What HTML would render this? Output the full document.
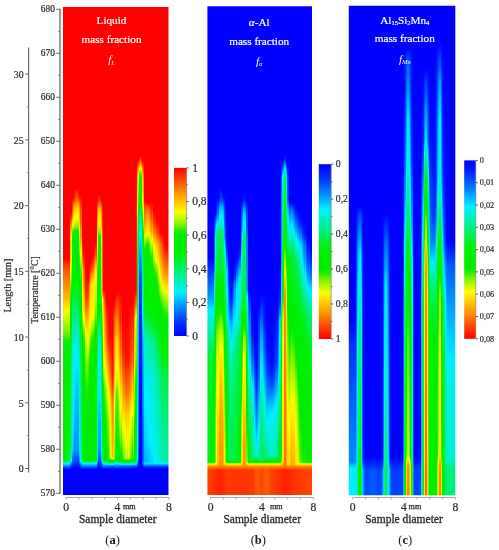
<!DOCTYPE html>
<html lang="en"><head><meta charset="utf-8"><title>Mass fraction maps</title>
<style>html,body{margin:0;padding:0;background:#fff}svg{display:block}text{font-family:"Liberation Serif",serif}</style></head>
<body>
<svg width="499" height="550" viewBox="0 0 499 550">
<defs>
<filter id="cm" filterUnits="userSpaceOnUse" x="0" y="0" width="499" height="550" color-interpolation-filters="sRGB"><feGaussianBlur stdDeviation="0.45"/><feComponentTransfer><feFuncR type="table" tableValues="0 0 0 0 0 0 0 0 0 0 0 0 0 0 0 0 0 0 0 0 0 0 0 0 0 0 0 0 0 0 0 0 0 0 0 0 0 0 0 0 0 0 0 0 0 0 0 0 0 0 0 0 0 0 0 0 0 0 0 0 0 0 0 0 0 0 0 0 0 0 0 0 0 0 0 0 0 .033 .074 .115 .156 .249 .341 .417 .473 .528 .584 .639 .695 .75 .803 .856 .909 .962 .987 .997 1 1 1 1 1 1 1 1 1 1 1 1 1 1 1 1 1 1 1 1 1 1 1 1 1 1 1 1 1 1 1 1"/><feFuncG type="table" tableValues="0 .019 .037 .056 .074 .093 .111 .134 .158 .183 .208 .233 .257 .284 .315 .346 .376 .407 .438 .469 .5 .531 .562 .593 .623 .654 .688 .724 .76 .796 .832 .868 .904 .94 .941 .941 .941 .941 .941 .941 .941 .941 .941 .941 .941 .941 .941 .941 .941 .941 .941 .941 .941 .941 .941 .941 .941 .941 .941 .941 .941 .941 .941 .941 .941 .939 .938 .937 .936 .934 .933 .932 .931 .929 .928 .927 .926 .927 .929 .931 .933 .936 .939 .944 .95 .956 .962 .969 .975 .981 .985 .99 .994 .998 .98 .949 .92 .893 .865 .837 .809 .781 .754 .726 .698 .67 .642 .615 .587 .556 .525 .494 .463 .432 .401 .371 .34 .309 .278 .247 .216 .185 .154 .124 .093 .062 .031 0"/><feFuncB type="table" tableValues="1 1 1 1 1 1 1 1 1 1 1 1 1 1 1 1 1 1 1 1 1 1 1 1 1 1 1 1 1 1 1 1 1 1 .966 .931 .896 .862 .827 .796 .765 .734 .703 .672 .641 .607 .57 .533 .496 .459 .422 .385 .348 .311 .274 .237 .199 .162 .136 .111 .086 .062 .037 .012 0 0 0 0 0 0 0 0 0 0 0 0 0 0 0 0 0 0 0 0 0 0 0 0 0 0 0 0 0 0 0 0 0 0 0 0 0 0 0 0 0 0 0 0 0 0 0 0 0 0 0 0 0 0 0 0 0 0 0 0 0 0 0 0"/><feFuncA type="discrete" tableValues="1 1"/></feComponentTransfer></filter>
<filter id="soft" filterUnits="userSpaceOnUse" x="0" y="0" width="499" height="550" color-interpolation-filters="sRGB"><feGaussianBlur stdDeviation="0.45"/></filter>
<linearGradient id="a0" gradientUnits="userSpaceOnUse" x1="0" y1="2.9" x2="0" y2="499"><stop offset="0" stop-color="#ffffff"/><stop offset=".514" stop-color="#ffffff"/><stop offset=".532" stop-color="#ededed"/><stop offset=".569" stop-color="#dbdbdb"/><stop offset=".599" stop-color="#cccccc"/><stop offset=".615" stop-color="#bfbfbf"/><stop offset=".643" stop-color="#b2b2b2"/><stop offset=".669" stop-color="#a6a6a6"/><stop offset=".69" stop-color="#999999"/><stop offset=".72" stop-color="#8f8f8f"/><stop offset=".922" stop-color="#8c8c8c"/><stop offset=".927" stop-color="#4c4c4c"/><stop offset=".933" stop-color="#2e2e2e"/><stop offset=".941" stop-color="#000000"/><stop offset="1" stop-color="#000000"/></linearGradient><linearGradient id="a1" gradientUnits="userSpaceOnUse" x1="0" y1="2.9" x2="0" y2="499"><stop offset="0" stop-color="#ffffff"/><stop offset=".514" stop-color="#ffffff"/><stop offset=".532" stop-color="#ededed"/><stop offset=".569" stop-color="#dbdbdb"/><stop offset=".599" stop-color="#cccccc"/><stop offset=".615" stop-color="#bfbfbf"/><stop offset=".643" stop-color="#b2b2b2"/><stop offset=".669" stop-color="#a6a6a6"/><stop offset=".69" stop-color="#999999"/><stop offset=".72" stop-color="#8a8a8a"/><stop offset=".8" stop-color="#808080"/><stop offset=".881" stop-color="#787878"/><stop offset=".922" stop-color="#707070"/><stop offset=".927" stop-color="#4c4c4c"/><stop offset=".933" stop-color="#2e2e2e"/><stop offset=".941" stop-color="#000000"/><stop offset="1" stop-color="#000000"/></linearGradient><linearGradient id="a2" gradientUnits="userSpaceOnUse" x1="0" y1="2.9" x2="0" y2="499"><stop offset="0" stop-color="#ffffff"/><stop offset=".424" stop-color="#ffffff"/><stop offset=".438" stop-color="#d9d9d9"/><stop offset=".45" stop-color="#bfbfbf"/><stop offset=".46" stop-color="#adadad"/><stop offset=".47" stop-color="#999999"/><stop offset=".538" stop-color="#8c8c8c"/><stop offset=".579" stop-color="#787878"/><stop offset=".599" stop-color="#737373"/><stop offset=".639" stop-color="#636363"/><stop offset=".68" stop-color="#595959"/><stop offset=".72" stop-color="#545454"/><stop offset=".8" stop-color="#4f4f4f"/><stop offset=".841" stop-color="#4a4a4a"/><stop offset=".901" stop-color="#4c4c4c"/><stop offset=".925" stop-color="#262626"/><stop offset=".938" stop-color="#000000"/><stop offset="1" stop-color="#000000"/></linearGradient><linearGradient id="a3" gradientUnits="userSpaceOnUse" x1="0" y1="2.9" x2="0" y2="499"><stop offset="0" stop-color="#ffffff"/><stop offset=".393" stop-color="#ffffff"/><stop offset=".409" stop-color="#d9d9d9"/><stop offset=".424" stop-color="#c4c4c4"/><stop offset=".442" stop-color="#b8b8b8"/><stop offset=".454" stop-color="#a8a8a8"/><stop offset=".462" stop-color="#999999"/><stop offset=".538" stop-color="#8c8c8c"/><stop offset=".579" stop-color="#757575"/><stop offset=".599" stop-color="#6e6e6e"/><stop offset=".639" stop-color="#5e5e5e"/><stop offset=".68" stop-color="#4f4f4f"/><stop offset=".72" stop-color="#474747"/><stop offset=".8" stop-color="#404040"/><stop offset=".841" stop-color="#3b3b3b"/><stop offset=".901" stop-color="#2e2e2e"/><stop offset=".925" stop-color="#1a1a1a"/><stop offset=".938" stop-color="#000000"/><stop offset="1" stop-color="#000000"/></linearGradient><linearGradient id="a4" gradientUnits="userSpaceOnUse" x1="0" y1="2.9" x2="0" y2="499"><stop offset="0" stop-color="#ffffff"/><stop offset=".373" stop-color="#ffffff"/><stop offset=".385" stop-color="#e6e6e6"/><stop offset=".401" stop-color="#d9d9d9"/><stop offset=".412" stop-color="#c4c4c4"/><stop offset=".433" stop-color="#bababa"/><stop offset=".442" stop-color="#b2b2b2"/><stop offset=".452" stop-color="#a8a8a8"/><stop offset=".46" stop-color="#9e9e9e"/><stop offset=".478" stop-color="#949494"/><stop offset=".538" stop-color="#8c8c8c"/><stop offset=".579" stop-color="#737373"/><stop offset=".599" stop-color="#6b6b6b"/><stop offset=".639" stop-color="#595959"/><stop offset=".68" stop-color="#474747"/><stop offset=".72" stop-color="#404040"/><stop offset=".8" stop-color="#333333"/><stop offset=".841" stop-color="#2e2e2e"/><stop offset=".901" stop-color="#2e2e2e"/><stop offset=".925" stop-color="#1a1a1a"/><stop offset=".938" stop-color="#000000"/><stop offset="1" stop-color="#000000"/></linearGradient><linearGradient id="a5" gradientUnits="userSpaceOnUse" x1="0" y1="2.9" x2="0" y2="499"><stop offset="0" stop-color="#ffffff"/><stop offset=".389" stop-color="#ffffff"/><stop offset=".405" stop-color="#d9d9d9"/><stop offset=".419" stop-color="#c4c4c4"/><stop offset=".438" stop-color="#b8b8b8"/><stop offset=".45" stop-color="#ababab"/><stop offset=".46" stop-color="#999999"/><stop offset=".538" stop-color="#8c8c8c"/><stop offset=".579" stop-color="#787878"/><stop offset=".599" stop-color="#707070"/><stop offset=".639" stop-color="#5e5e5e"/><stop offset=".68" stop-color="#4f4f4f"/><stop offset=".72" stop-color="#474747"/><stop offset=".8" stop-color="#3d3d3d"/><stop offset=".841" stop-color="#383838"/><stop offset=".901" stop-color="#2e2e2e"/><stop offset=".925" stop-color="#1a1a1a"/><stop offset=".938" stop-color="#000000"/><stop offset="1" stop-color="#000000"/></linearGradient><linearGradient id="a6" gradientUnits="userSpaceOnUse" x1="0" y1="2.9" x2="0" y2="499"><stop offset="0" stop-color="#ffffff"/><stop offset=".474" stop-color="#ffffff"/><stop offset=".478" stop-color="#f2f2f2"/><stop offset=".508" stop-color="#d1d1d1"/><stop offset=".538" stop-color="#b2b2b2"/><stop offset=".569" stop-color="#adadad"/><stop offset=".599" stop-color="#a3a3a3"/><stop offset=".639" stop-color="#999999"/><stop offset=".68" stop-color="#878787"/><stop offset=".8" stop-color="#737373"/><stop offset=".881" stop-color="#6b6b6b"/><stop offset=".922" stop-color="#666666"/><stop offset=".927" stop-color="#4c4c4c"/><stop offset=".933" stop-color="#2e2e2e"/><stop offset=".941" stop-color="#000000"/><stop offset="1" stop-color="#000000"/></linearGradient><linearGradient id="a7" gradientUnits="userSpaceOnUse" x1="0" y1="2.9" x2="0" y2="499"><stop offset="0" stop-color="#ffffff"/><stop offset=".488" stop-color="#ffffff"/><stop offset=".508" stop-color="#f7f7f7"/><stop offset=".538" stop-color="#d1d1d1"/><stop offset=".569" stop-color="#cccccc"/><stop offset=".599" stop-color="#bfbfbf"/><stop offset=".639" stop-color="#b8b8b8"/><stop offset=".663" stop-color="#a3a3a3"/><stop offset=".69" stop-color="#999999"/><stop offset=".72" stop-color="#8f8f8f"/><stop offset=".922" stop-color="#8a8a8a"/><stop offset=".927" stop-color="#4c4c4c"/><stop offset=".933" stop-color="#2e2e2e"/><stop offset=".941" stop-color="#000000"/><stop offset="1" stop-color="#000000"/></linearGradient><linearGradient id="a8" gradientUnits="userSpaceOnUse" x1="0" y1="2.9" x2="0" y2="499"><stop offset="0" stop-color="#ffffff"/><stop offset=".522" stop-color="#ffffff"/><stop offset=".569" stop-color="#f0f0f0"/><stop offset=".599" stop-color="#e0e0e0"/><stop offset=".639" stop-color="#c2c2c2"/><stop offset=".663" stop-color="#adadad"/><stop offset=".69" stop-color="#9e9e9e"/><stop offset=".8" stop-color="#949494"/><stop offset=".922" stop-color="#8f8f8f"/><stop offset=".927" stop-color="#4c4c4c"/><stop offset=".933" stop-color="#2e2e2e"/><stop offset=".941" stop-color="#000000"/><stop offset="1" stop-color="#000000"/></linearGradient><linearGradient id="a9" gradientUnits="userSpaceOnUse" x1="0" y1="2.9" x2="0" y2="499"><stop offset="0" stop-color="#ffffff"/><stop offset=".579" stop-color="#ffffff"/><stop offset=".599" stop-color="#f7f7f7"/><stop offset=".619" stop-color="#ebebeb"/><stop offset=".639" stop-color="#d9d9d9"/><stop offset=".659" stop-color="#cccccc"/><stop offset=".69" stop-color="#bfbfbf"/><stop offset=".72" stop-color="#b2b2b2"/><stop offset=".792" stop-color="#a1a1a1"/><stop offset=".881" stop-color="#999999"/><stop offset=".922" stop-color="#999999"/><stop offset=".927" stop-color="#4c4c4c"/><stop offset=".933" stop-color="#2e2e2e"/><stop offset=".941" stop-color="#000000"/><stop offset="1" stop-color="#000000"/></linearGradient><linearGradient id="a10" gradientUnits="userSpaceOnUse" x1="0" y1="2.9" x2="0" y2="499"><stop offset="0" stop-color="#ffffff"/><stop offset=".555" stop-color="#ffffff"/><stop offset=".569" stop-color="#ededed"/><stop offset=".583" stop-color="#e6e6e6"/><stop offset=".599" stop-color="#dedede"/><stop offset=".619" stop-color="#cccccc"/><stop offset=".639" stop-color="#c2c2c2"/><stop offset=".669" stop-color="#bababa"/><stop offset=".7" stop-color="#adadad"/><stop offset=".73" stop-color="#9e9e9e"/><stop offset=".8" stop-color="#999999"/><stop offset=".922" stop-color="#949494"/><stop offset=".927" stop-color="#4c4c4c"/><stop offset=".933" stop-color="#2e2e2e"/><stop offset=".941" stop-color="#000000"/><stop offset="1" stop-color="#000000"/></linearGradient><linearGradient id="a11" gradientUnits="userSpaceOnUse" x1="0" y1="2.9" x2="0" y2="499"><stop offset="0" stop-color="#ffffff"/><stop offset=".522" stop-color="#ffffff"/><stop offset=".538" stop-color="#f2f2f2"/><stop offset=".555" stop-color="#d9d9d9"/><stop offset=".569" stop-color="#c4c4c4"/><stop offset=".599" stop-color="#bfbfbf"/><stop offset=".631" stop-color="#bfbfbf"/><stop offset=".659" stop-color="#b2b2b2"/><stop offset=".68" stop-color="#a3a3a3"/><stop offset=".7" stop-color="#999999"/><stop offset=".8" stop-color="#949494"/><stop offset=".922" stop-color="#8f8f8f"/><stop offset=".927" stop-color="#4c4c4c"/><stop offset=".933" stop-color="#2e2e2e"/><stop offset=".941" stop-color="#000000"/><stop offset="1" stop-color="#000000"/></linearGradient><linearGradient id="a12" gradientUnits="userSpaceOnUse" x1="0" y1="2.9" x2="0" y2="499"><stop offset="0" stop-color="#ffffff"/><stop offset=".508" stop-color="#ffffff"/><stop offset=".522" stop-color="#ededed"/><stop offset=".538" stop-color="#d9d9d9"/><stop offset=".555" stop-color="#c7c7c7"/><stop offset=".569" stop-color="#bfbfbf"/><stop offset=".599" stop-color="#bfbfbf"/><stop offset=".631" stop-color="#bababa"/><stop offset=".649" stop-color="#adadad"/><stop offset=".669" stop-color="#9e9e9e"/><stop offset=".8" stop-color="#8f8f8f"/><stop offset=".922" stop-color="#8a8a8a"/><stop offset=".927" stop-color="#4c4c4c"/><stop offset=".933" stop-color="#2e2e2e"/><stop offset=".941" stop-color="#000000"/><stop offset="1" stop-color="#000000"/></linearGradient><linearGradient id="a13" gradientUnits="userSpaceOnUse" x1="0" y1="2.9" x2="0" y2="499"><stop offset="0" stop-color="#ffffff"/><stop offset=".484" stop-color="#ffffff"/><stop offset=".498" stop-color="#ededed"/><stop offset=".514" stop-color="#d9d9d9"/><stop offset=".53" stop-color="#c4c4c4"/><stop offset=".548" stop-color="#bababa"/><stop offset=".569" stop-color="#b2b2b2"/><stop offset=".599" stop-color="#adadad"/><stop offset=".631" stop-color="#9e9e9e"/><stop offset=".659" stop-color="#949494"/><stop offset=".72" stop-color="#8a8a8a"/><stop offset=".8" stop-color="#808080"/><stop offset=".881" stop-color="#757575"/><stop offset=".922" stop-color="#707070"/><stop offset=".927" stop-color="#4c4c4c"/><stop offset=".933" stop-color="#2e2e2e"/><stop offset=".941" stop-color="#000000"/><stop offset="1" stop-color="#000000"/></linearGradient><linearGradient id="a14" gradientUnits="userSpaceOnUse" x1="0" y1="2.9" x2="0" y2="499"><stop offset="0" stop-color="#ffffff"/><stop offset=".399" stop-color="#ffffff"/><stop offset=".413" stop-color="#d9d9d9"/><stop offset=".43" stop-color="#c4c4c4"/><stop offset=".45" stop-color="#b8b8b8"/><stop offset=".462" stop-color="#adadad"/><stop offset=".474" stop-color="#999999"/><stop offset=".599" stop-color="#8c8c8c"/><stop offset=".631" stop-color="#737373"/><stop offset=".649" stop-color="#666666"/><stop offset=".68" stop-color="#525252"/><stop offset=".72" stop-color="#474747"/><stop offset=".8" stop-color="#404040"/><stop offset=".841" stop-color="#383838"/><stop offset=".901" stop-color="#2e2e2e"/><stop offset=".925" stop-color="#1a1a1a"/><stop offset=".938" stop-color="#000000"/><stop offset="1" stop-color="#000000"/></linearGradient><linearGradient id="a15" gradientUnits="userSpaceOnUse" x1="0" y1="2.9" x2="0" y2="499"><stop offset="0" stop-color="#ffffff"/><stop offset=".387" stop-color="#ffffff"/><stop offset=".401" stop-color="#d9d9d9"/><stop offset=".419" stop-color="#c4c4c4"/><stop offset=".446" stop-color="#b8b8b8"/><stop offset=".458" stop-color="#adadad"/><stop offset=".47" stop-color="#999999"/><stop offset=".599" stop-color="#8c8c8c"/><stop offset=".631" stop-color="#737373"/><stop offset=".649" stop-color="#666666"/><stop offset=".68" stop-color="#525252"/><stop offset=".72" stop-color="#474747"/><stop offset=".8" stop-color="#404040"/><stop offset=".841" stop-color="#383838"/><stop offset=".901" stop-color="#2e2e2e"/><stop offset=".925" stop-color="#1a1a1a"/><stop offset=".938" stop-color="#000000"/><stop offset="1" stop-color="#000000"/></linearGradient><linearGradient id="a16" gradientUnits="userSpaceOnUse" x1="0" y1="2.9" x2="0" y2="499"><stop offset="0" stop-color="#ffffff"/><stop offset=".399" stop-color="#ffffff"/><stop offset=".413" stop-color="#d9d9d9"/><stop offset=".43" stop-color="#c4c4c4"/><stop offset=".45" stop-color="#b8b8b8"/><stop offset=".462" stop-color="#adadad"/><stop offset=".474" stop-color="#999999"/><stop offset=".599" stop-color="#8c8c8c"/><stop offset=".631" stop-color="#737373"/><stop offset=".649" stop-color="#666666"/><stop offset=".68" stop-color="#525252"/><stop offset=".72" stop-color="#474747"/><stop offset=".8" stop-color="#404040"/><stop offset=".841" stop-color="#383838"/><stop offset=".901" stop-color="#2e2e2e"/><stop offset=".925" stop-color="#1a1a1a"/><stop offset=".938" stop-color="#000000"/><stop offset="1" stop-color="#000000"/></linearGradient><linearGradient id="a17" gradientUnits="userSpaceOnUse" x1="0" y1="2.9" x2="0" y2="499"><stop offset="0" stop-color="#ffffff"/><stop offset=".579" stop-color="#ffffff"/><stop offset=".599" stop-color="#cccccc"/><stop offset=".631" stop-color="#bfbfbf"/><stop offset=".72" stop-color="#b2b2b2"/><stop offset=".78" stop-color="#999999"/><stop offset=".841" stop-color="#8a8a8a"/><stop offset=".881" stop-color="#808080"/><stop offset=".922" stop-color="#787878"/><stop offset=".927" stop-color="#4c4c4c"/><stop offset=".933" stop-color="#2e2e2e"/><stop offset=".941" stop-color="#000000"/><stop offset="1" stop-color="#000000"/></linearGradient><linearGradient id="a18" gradientUnits="userSpaceOnUse" x1="0" y1="2.9" x2="0" y2="499"><stop offset="0" stop-color="#ffffff"/><stop offset=".599" stop-color="#ffffff"/><stop offset=".631" stop-color="#ededed"/><stop offset=".68" stop-color="#dedede"/><stop offset=".72" stop-color="#cccccc"/><stop offset=".78" stop-color="#adadad"/><stop offset=".841" stop-color="#9e9e9e"/><stop offset=".922" stop-color="#949494"/><stop offset=".927" stop-color="#4c4c4c"/><stop offset=".933" stop-color="#2e2e2e"/><stop offset=".941" stop-color="#000000"/><stop offset="1" stop-color="#000000"/></linearGradient><linearGradient id="a19" gradientUnits="userSpaceOnUse" x1="0" y1="2.9" x2="0" y2="499"><stop offset="0" stop-color="#ffffff"/><stop offset=".669" stop-color="#ffffff"/><stop offset=".72" stop-color="#e6e6e6"/><stop offset=".78" stop-color="#c2c2c2"/><stop offset=".841" stop-color="#adadad"/><stop offset=".919" stop-color="#a1a1a1"/><stop offset=".925" stop-color="#808080"/><stop offset=".933" stop-color="#262626"/><stop offset=".94" stop-color="#000000"/><stop offset="1" stop-color="#000000"/></linearGradient><linearGradient id="a20" gradientUnits="userSpaceOnUse" x1="0" y1="2.9" x2="0" y2="499"><stop offset="0" stop-color="#ffffff"/><stop offset=".75" stop-color="#ffffff"/><stop offset=".78" stop-color="#f2f2f2"/><stop offset=".806" stop-color="#e6e6e6"/><stop offset=".867" stop-color="#dedede"/><stop offset=".915" stop-color="#d6d6d6"/><stop offset=".923" stop-color="#999999"/><stop offset=".933" stop-color="#262626"/><stop offset=".94" stop-color="#000000"/><stop offset="1" stop-color="#000000"/></linearGradient><linearGradient id="a21" gradientUnits="userSpaceOnUse" x1="0" y1="2.9" x2="0" y2="499"><stop offset="0" stop-color="#ffffff"/><stop offset=".599" stop-color="#ffffff"/><stop offset=".639" stop-color="#e0e0e0"/><stop offset=".684" stop-color="#d1d1d1"/><stop offset=".76" stop-color="#c2c2c2"/><stop offset=".79" stop-color="#b2b2b2"/><stop offset=".841" stop-color="#a8a8a8"/><stop offset=".922" stop-color="#9e9e9e"/><stop offset=".927" stop-color="#4c4c4c"/><stop offset=".933" stop-color="#2e2e2e"/><stop offset=".941" stop-color="#000000"/><stop offset="1" stop-color="#000000"/></linearGradient><linearGradient id="a22" gradientUnits="userSpaceOnUse" x1="0" y1="2.9" x2="0" y2="499"><stop offset="0" stop-color="#ffffff"/><stop offset=".585" stop-color="#ffffff"/><stop offset=".599" stop-color="#ededed"/><stop offset=".639" stop-color="#d9d9d9"/><stop offset=".684" stop-color="#c2c2c2"/><stop offset=".76" stop-color="#adadad"/><stop offset=".79" stop-color="#9e9e9e"/><stop offset=".922" stop-color="#949494"/><stop offset=".927" stop-color="#4c4c4c"/><stop offset=".933" stop-color="#2e2e2e"/><stop offset=".941" stop-color="#000000"/><stop offset="1" stop-color="#000000"/></linearGradient><linearGradient id="a23" gradientUnits="userSpaceOnUse" x1="0" y1="2.9" x2="0" y2="499"><stop offset="0" stop-color="#ffffff"/><stop offset=".639" stop-color="#ffffff"/><stop offset=".7" stop-color="#f2f2f2"/><stop offset=".76" stop-color="#d9d9d9"/><stop offset=".8" stop-color="#cccccc"/><stop offset=".841" stop-color="#bdbdbd"/><stop offset=".881" stop-color="#ababab"/><stop offset=".919" stop-color="#999999"/><stop offset=".925" stop-color="#808080"/><stop offset=".933" stop-color="#262626"/><stop offset=".94" stop-color="#000000"/><stop offset="1" stop-color="#000000"/></linearGradient><linearGradient id="a24" gradientUnits="userSpaceOnUse" x1="0" y1="2.9" x2="0" y2="499"><stop offset="0" stop-color="#ffffff"/><stop offset=".72" stop-color="#ffffff"/><stop offset=".76" stop-color="#f2f2f2"/><stop offset=".79" stop-color="#e6e6e6"/><stop offset=".811" stop-color="#d9d9d9"/><stop offset=".831" stop-color="#cccccc"/><stop offset=".861" stop-color="#c4c4c4"/><stop offset=".891" stop-color="#c2c2c2"/><stop offset=".919" stop-color="#bdbdbd"/><stop offset=".925" stop-color="#808080"/><stop offset=".933" stop-color="#262626"/><stop offset=".94" stop-color="#000000"/><stop offset="1" stop-color="#000000"/></linearGradient><linearGradient id="a25" gradientUnits="userSpaceOnUse" x1="0" y1="2.9" x2="0" y2="499"><stop offset="0" stop-color="#ffffff"/><stop offset=".599" stop-color="#ffffff"/><stop offset=".639" stop-color="#f2f2f2"/><stop offset=".728" stop-color="#dbdbdb"/><stop offset=".76" stop-color="#c7c7c7"/><stop offset=".821" stop-color="#b5b5b5"/><stop offset=".881" stop-color="#a1a1a1"/><stop offset=".919" stop-color="#949494"/><stop offset=".925" stop-color="#737373"/><stop offset=".933" stop-color="#262626"/><stop offset=".94" stop-color="#000000"/><stop offset="1" stop-color="#000000"/></linearGradient><linearGradient id="a26" gradientUnits="userSpaceOnUse" x1="0" y1="2.9" x2="0" y2="499"><stop offset="0" stop-color="#ffffff"/><stop offset=".579" stop-color="#ffffff"/><stop offset=".609" stop-color="#d9d9d9"/><stop offset=".639" stop-color="#a3a3a3"/><stop offset=".76" stop-color="#919191"/><stop offset=".881" stop-color="#858585"/><stop offset=".919" stop-color="#7a7a7a"/><stop offset=".925" stop-color="#666666"/><stop offset=".933" stop-color="#262626"/><stop offset=".94" stop-color="#000000"/><stop offset="1" stop-color="#000000"/></linearGradient><linearGradient id="a27" gradientUnits="userSpaceOnUse" x1="0" y1="2.9" x2="0" y2="499"><stop offset="0" stop-color="#ffffff"/><stop offset=".317" stop-color="#ffffff"/><stop offset=".327" stop-color="#dedede"/><stop offset=".337" stop-color="#bfbfbf"/><stop offset=".345" stop-color="#adadad"/><stop offset=".353" stop-color="#999999"/><stop offset=".397" stop-color="#808080"/><stop offset=".417" stop-color="#6b6b6b"/><stop offset=".438" stop-color="#575757"/><stop offset=".46" stop-color="#454545"/><stop offset=".488" stop-color="#383838"/><stop offset=".514" stop-color="#2e2e2e"/><stop offset=".548" stop-color="#212121"/><stop offset=".595" stop-color="#141414"/><stop offset=".68" stop-color="#0d0d0d"/><stop offset=".921" stop-color="#000000"/><stop offset="1" stop-color="#000000"/></linearGradient><linearGradient id="a28" gradientUnits="userSpaceOnUse" x1="0" y1="2.9" x2="0" y2="499"><stop offset="0" stop-color="#ffffff"/><stop offset=".307" stop-color="#ffffff"/><stop offset=".317" stop-color="#dedede"/><stop offset=".328" stop-color="#bfbfbf"/><stop offset=".335" stop-color="#adadad"/><stop offset=".343" stop-color="#999999"/><stop offset=".397" stop-color="#808080"/><stop offset=".417" stop-color="#6b6b6b"/><stop offset=".438" stop-color="#575757"/><stop offset=".46" stop-color="#454545"/><stop offset=".488" stop-color="#383838"/><stop offset=".514" stop-color="#2e2e2e"/><stop offset=".548" stop-color="#212121"/><stop offset=".595" stop-color="#141414"/><stop offset=".68" stop-color="#0d0d0d"/><stop offset=".921" stop-color="#000000"/><stop offset="1" stop-color="#000000"/></linearGradient><linearGradient id="a29" gradientUnits="userSpaceOnUse" x1="0" y1="2.9" x2="0" y2="499"><stop offset="0" stop-color="#ffffff"/><stop offset=".317" stop-color="#ffffff"/><stop offset=".327" stop-color="#dedede"/><stop offset=".337" stop-color="#bfbfbf"/><stop offset=".345" stop-color="#adadad"/><stop offset=".353" stop-color="#999999"/><stop offset=".397" stop-color="#808080"/><stop offset=".417" stop-color="#6b6b6b"/><stop offset=".438" stop-color="#575757"/><stop offset=".46" stop-color="#454545"/><stop offset=".488" stop-color="#383838"/><stop offset=".514" stop-color="#2e2e2e"/><stop offset=".548" stop-color="#212121"/><stop offset=".595" stop-color="#141414"/><stop offset=".68" stop-color="#0d0d0d"/><stop offset=".921" stop-color="#000000"/><stop offset="1" stop-color="#000000"/></linearGradient><linearGradient id="a30" gradientUnits="userSpaceOnUse" x1="0" y1="2.9" x2="0" y2="499"><stop offset="0" stop-color="#ffffff"/><stop offset=".397" stop-color="#ffffff"/><stop offset=".411" stop-color="#ededed"/><stop offset=".442" stop-color="#dedede"/><stop offset=".464" stop-color="#cccccc"/><stop offset=".478" stop-color="#b8b8b8"/><stop offset=".486" stop-color="#adadad"/><stop offset=".498" stop-color="#9e9e9e"/><stop offset=".518" stop-color="#949494"/><stop offset=".599" stop-color="#858585"/><stop offset=".639" stop-color="#6b6b6b"/><stop offset=".68" stop-color="#545454"/><stop offset=".76" stop-color="#474747"/><stop offset=".881" stop-color="#383838"/><stop offset=".923" stop-color="#333333"/><stop offset=".929" stop-color="#404040"/><stop offset=".937" stop-color="#080808"/><stop offset=".94" stop-color="#000000"/><stop offset="1" stop-color="#000000"/></linearGradient><linearGradient id="a31" gradientUnits="userSpaceOnUse" x1="0" y1="2.9" x2="0" y2="499"><stop offset="0" stop-color="#ffffff"/><stop offset=".403" stop-color="#ffffff"/><stop offset=".413" stop-color="#e6e6e6"/><stop offset=".428" stop-color="#d4d4d4"/><stop offset=".442" stop-color="#c7c7c7"/><stop offset=".464" stop-color="#bababa"/><stop offset=".474" stop-color="#a8a8a8"/><stop offset=".486" stop-color="#999999"/><stop offset=".599" stop-color="#8c8c8c"/><stop offset=".639" stop-color="#737373"/><stop offset=".68" stop-color="#545454"/><stop offset=".76" stop-color="#474747"/><stop offset=".881" stop-color="#404040"/><stop offset=".923" stop-color="#383838"/><stop offset=".929" stop-color="#404040"/><stop offset=".937" stop-color="#080808"/><stop offset=".94" stop-color="#000000"/><stop offset="1" stop-color="#000000"/></linearGradient><linearGradient id="a32" gradientUnits="userSpaceOnUse" x1="0" y1="2.9" x2="0" y2="499"><stop offset="0" stop-color="#ffffff"/><stop offset=".417" stop-color="#ffffff"/><stop offset=".442" stop-color="#ededed"/><stop offset=".464" stop-color="#d9d9d9"/><stop offset=".486" stop-color="#bfbfbf"/><stop offset=".5" stop-color="#adadad"/><stop offset=".514" stop-color="#a1a1a1"/><stop offset=".538" stop-color="#999999"/><stop offset=".599" stop-color="#8c8c8c"/><stop offset=".639" stop-color="#787878"/><stop offset=".69" stop-color="#5c5c5c"/><stop offset=".76" stop-color="#4c4c4c"/><stop offset=".881" stop-color="#454545"/><stop offset=".923" stop-color="#404040"/><stop offset=".929" stop-color="#404040"/><stop offset=".937" stop-color="#080808"/><stop offset=".94" stop-color="#000000"/><stop offset="1" stop-color="#000000"/></linearGradient><linearGradient id="a33" gradientUnits="userSpaceOnUse" x1="0" y1="2.9" x2="0" y2="499"><stop offset="0" stop-color="#ffffff"/><stop offset=".421" stop-color="#ffffff"/><stop offset=".448" stop-color="#ededed"/><stop offset=".464" stop-color="#dedede"/><stop offset=".486" stop-color="#c4c4c4"/><stop offset=".514" stop-color="#bdbdbd"/><stop offset=".528" stop-color="#adadad"/><stop offset=".548" stop-color="#9e9e9e"/><stop offset=".599" stop-color="#8c8c8c"/><stop offset=".639" stop-color="#7a7a7a"/><stop offset=".69" stop-color="#5e5e5e"/><stop offset=".76" stop-color="#4f4f4f"/><stop offset=".881" stop-color="#474747"/><stop offset=".923" stop-color="#424242"/><stop offset=".929" stop-color="#404040"/><stop offset=".937" stop-color="#080808"/><stop offset=".94" stop-color="#000000"/><stop offset="1" stop-color="#000000"/></linearGradient><linearGradient id="a34" gradientUnits="userSpaceOnUse" x1="0" y1="2.9" x2="0" y2="499"><stop offset="0" stop-color="#ffffff"/><stop offset=".438" stop-color="#ffffff"/><stop offset=".464" stop-color="#ebebeb"/><stop offset=".486" stop-color="#cccccc"/><stop offset=".514" stop-color="#bfbfbf"/><stop offset=".528" stop-color="#b0b0b0"/><stop offset=".548" stop-color="#a1a1a1"/><stop offset=".569" stop-color="#999999"/><stop offset=".639" stop-color="#808080"/><stop offset=".7" stop-color="#666666"/><stop offset=".76" stop-color="#545454"/><stop offset=".881" stop-color="#4c4c4c"/><stop offset=".923" stop-color="#474747"/><stop offset=".929" stop-color="#404040"/><stop offset=".937" stop-color="#080808"/><stop offset=".94" stop-color="#000000"/><stop offset="1" stop-color="#000000"/></linearGradient><linearGradient id="a35" gradientUnits="userSpaceOnUse" x1="0" y1="2.9" x2="0" y2="499"><stop offset="0" stop-color="#ffffff"/><stop offset=".464" stop-color="#ffffff"/><stop offset=".486" stop-color="#e6e6e6"/><stop offset=".514" stop-color="#d9d9d9"/><stop offset=".538" stop-color="#cccccc"/><stop offset=".569" stop-color="#b8b8b8"/><stop offset=".599" stop-color="#a3a3a3"/><stop offset=".639" stop-color="#8c8c8c"/><stop offset=".7" stop-color="#787878"/><stop offset=".76" stop-color="#666666"/><stop offset=".881" stop-color="#575757"/><stop offset=".923" stop-color="#525252"/><stop offset=".929" stop-color="#404040"/><stop offset=".937" stop-color="#080808"/><stop offset=".94" stop-color="#000000"/><stop offset="1" stop-color="#000000"/></linearGradient><linearGradient id="a36" gradientUnits="userSpaceOnUse" x1="0" y1="2.9" x2="0" y2="499"><stop offset="0" stop-color="#ffffff"/><stop offset=".486" stop-color="#ffffff"/><stop offset=".514" stop-color="#ededed"/><stop offset=".548" stop-color="#d9d9d9"/><stop offset=".573" stop-color="#c4c4c4"/><stop offset=".599" stop-color="#adadad"/><stop offset=".629" stop-color="#9e9e9e"/><stop offset=".7" stop-color="#808080"/><stop offset=".76" stop-color="#6b6b6b"/><stop offset=".881" stop-color="#5c5c5c"/><stop offset=".923" stop-color="#575757"/><stop offset=".929" stop-color="#404040"/><stop offset=".937" stop-color="#080808"/><stop offset=".94" stop-color="#000000"/><stop offset="1" stop-color="#000000"/></linearGradient><linearGradient id="a37" gradientUnits="userSpaceOnUse" x1="0" y1="2.9" x2="0" y2="499"><stop offset="0" stop-color="#ffffff"/><stop offset=".498" stop-color="#ffffff"/><stop offset=".518" stop-color="#ededed"/><stop offset=".548" stop-color="#d9d9d9"/><stop offset=".573" stop-color="#c4c4c4"/><stop offset=".599" stop-color="#b2b2b2"/><stop offset=".629" stop-color="#9e9e9e"/><stop offset=".7" stop-color="#858585"/><stop offset=".76" stop-color="#6e6e6e"/><stop offset=".881" stop-color="#5e5e5e"/><stop offset=".923" stop-color="#595959"/><stop offset=".929" stop-color="#404040"/><stop offset=".937" stop-color="#080808"/><stop offset=".94" stop-color="#000000"/><stop offset="1" stop-color="#000000"/></linearGradient><linearGradient id="am0" gradientUnits="userSpaceOnUse" x1="63" y1="0" x2="69.5" y2="0"><stop offset="0" stop-color="#fff" stop-opacity="0"/><stop offset="1" stop-color="#fff" stop-opacity="1"/></linearGradient><mask id="ak0" maskUnits="userSpaceOnUse" x="63" y="2.9" width="6.5" height="496.1"><rect x="63" y="2.9" width="6.5" height="496.1" fill="url(#am0)"/></mask><linearGradient id="am1" gradientUnits="userSpaceOnUse" x1="69.5" y1="0" x2="71.5" y2="0"><stop offset="0" stop-color="#fff" stop-opacity="0"/><stop offset="1" stop-color="#fff" stop-opacity="1"/></linearGradient><mask id="ak1" maskUnits="userSpaceOnUse" x="69.5" y="2.9" width="2" height="496.1"><rect x="69.5" y="2.9" width="2" height="496.1" fill="url(#am1)"/></mask><linearGradient id="am2" gradientUnits="userSpaceOnUse" x1="71.5" y1="0" x2="74" y2="0"><stop offset="0" stop-color="#fff" stop-opacity="0"/><stop offset="1" stop-color="#fff" stop-opacity="1"/></linearGradient><mask id="ak2" maskUnits="userSpaceOnUse" x="71.5" y="2.9" width="2.5" height="496.1"><rect x="71.5" y="2.9" width="2.5" height="496.1" fill="url(#am2)"/></mask><linearGradient id="am3" gradientUnits="userSpaceOnUse" x1="74" y1="0" x2="76.8" y2="0"><stop offset="0" stop-color="#fff" stop-opacity="0"/><stop offset="1" stop-color="#fff" stop-opacity="1"/></linearGradient><mask id="ak3" maskUnits="userSpaceOnUse" x="74" y="2.9" width="2.8" height="496.1"><rect x="74" y="2.9" width="2.8" height="496.1" fill="url(#am3)"/></mask><linearGradient id="am4" gradientUnits="userSpaceOnUse" x1="76.8" y1="0" x2="78.7" y2="0"><stop offset="0" stop-color="#fff" stop-opacity="0"/><stop offset="1" stop-color="#fff" stop-opacity="1"/></linearGradient><mask id="ak4" maskUnits="userSpaceOnUse" x="76.8" y="2.9" width="1.9" height="496.1"><rect x="76.8" y="2.9" width="1.9" height="496.1" fill="url(#am4)"/></mask><linearGradient id="am5" gradientUnits="userSpaceOnUse" x1="78.7" y1="0" x2="81.5" y2="0"><stop offset="0" stop-color="#fff" stop-opacity="0"/><stop offset="1" stop-color="#fff" stop-opacity="1"/></linearGradient><mask id="ak5" maskUnits="userSpaceOnUse" x="78.7" y="2.9" width="2.8" height="496.1"><rect x="78.7" y="2.9" width="2.8" height="496.1" fill="url(#am5)"/></mask><linearGradient id="am6" gradientUnits="userSpaceOnUse" x1="81.5" y1="0" x2="83" y2="0"><stop offset="0" stop-color="#fff" stop-opacity="0"/><stop offset="1" stop-color="#fff" stop-opacity="1"/></linearGradient><mask id="ak6" maskUnits="userSpaceOnUse" x="81.5" y="2.9" width="1.5" height="496.1"><rect x="81.5" y="2.9" width="1.5" height="496.1" fill="url(#am6)"/></mask><linearGradient id="am7" gradientUnits="userSpaceOnUse" x1="83" y1="0" x2="84.5" y2="0"><stop offset="0" stop-color="#fff" stop-opacity="0"/><stop offset="1" stop-color="#fff" stop-opacity="1"/></linearGradient><mask id="ak7" maskUnits="userSpaceOnUse" x="83" y="2.9" width="1.5" height="496.1"><rect x="83" y="2.9" width="1.5" height="496.1" fill="url(#am7)"/></mask><linearGradient id="am8" gradientUnits="userSpaceOnUse" x1="84.5" y1="0" x2="86.5" y2="0"><stop offset="0" stop-color="#fff" stop-opacity="0"/><stop offset="1" stop-color="#fff" stop-opacity="1"/></linearGradient><mask id="ak8" maskUnits="userSpaceOnUse" x="84.5" y="2.9" width="2" height="496.1"><rect x="84.5" y="2.9" width="2" height="496.1" fill="url(#am8)"/></mask><linearGradient id="am9" gradientUnits="userSpaceOnUse" x1="86.5" y1="0" x2="88.5" y2="0"><stop offset="0" stop-color="#fff" stop-opacity="0"/><stop offset="1" stop-color="#fff" stop-opacity="1"/></linearGradient><mask id="ak9" maskUnits="userSpaceOnUse" x="86.5" y="2.9" width="2" height="496.1"><rect x="86.5" y="2.9" width="2" height="496.1" fill="url(#am9)"/></mask><linearGradient id="am10" gradientUnits="userSpaceOnUse" x1="88.5" y1="0" x2="91" y2="0"><stop offset="0" stop-color="#fff" stop-opacity="0"/><stop offset="1" stop-color="#fff" stop-opacity="1"/></linearGradient><mask id="ak10" maskUnits="userSpaceOnUse" x="88.5" y="2.9" width="2.5" height="496.1"><rect x="88.5" y="2.9" width="2.5" height="496.1" fill="url(#am10)"/></mask><linearGradient id="am11" gradientUnits="userSpaceOnUse" x1="91" y1="0" x2="93.5" y2="0"><stop offset="0" stop-color="#fff" stop-opacity="0"/><stop offset="1" stop-color="#fff" stop-opacity="1"/></linearGradient><mask id="ak11" maskUnits="userSpaceOnUse" x="91" y="2.9" width="2.5" height="496.1"><rect x="91" y="2.9" width="2.5" height="496.1" fill="url(#am11)"/></mask><linearGradient id="am12" gradientUnits="userSpaceOnUse" x1="93.5" y1="0" x2="96.4" y2="0"><stop offset="0" stop-color="#fff" stop-opacity="0"/><stop offset="1" stop-color="#fff" stop-opacity="1"/></linearGradient><mask id="ak12" maskUnits="userSpaceOnUse" x="93.5" y="2.9" width="2.9" height="496.1"><rect x="93.5" y="2.9" width="2.9" height="496.1" fill="url(#am12)"/></mask><linearGradient id="am13" gradientUnits="userSpaceOnUse" x1="96.4" y1="0" x2="97.9" y2="0"><stop offset="0" stop-color="#fff" stop-opacity="0"/><stop offset="1" stop-color="#fff" stop-opacity="1"/></linearGradient><mask id="ak13" maskUnits="userSpaceOnUse" x="96.4" y="2.9" width="1.5" height="496.1"><rect x="96.4" y="2.9" width="1.5" height="496.1" fill="url(#am13)"/></mask><linearGradient id="am14" gradientUnits="userSpaceOnUse" x1="97.9" y1="0" x2="99.4" y2="0"><stop offset="0" stop-color="#fff" stop-opacity="0"/><stop offset="1" stop-color="#fff" stop-opacity="1"/></linearGradient><mask id="ak14" maskUnits="userSpaceOnUse" x="97.9" y="2.9" width="1.5" height="496.1"><rect x="97.9" y="2.9" width="1.5" height="496.1" fill="url(#am14)"/></mask><linearGradient id="am15" gradientUnits="userSpaceOnUse" x1="99.4" y1="0" x2="100.9" y2="0"><stop offset="0" stop-color="#fff" stop-opacity="0"/><stop offset="1" stop-color="#fff" stop-opacity="1"/></linearGradient><mask id="ak15" maskUnits="userSpaceOnUse" x="99.4" y="2.9" width="1.5" height="496.1"><rect x="99.4" y="2.9" width="1.5" height="496.1" fill="url(#am15)"/></mask><linearGradient id="am16" gradientUnits="userSpaceOnUse" x1="100.9" y1="0" x2="103" y2="0"><stop offset="0" stop-color="#fff" stop-opacity="0"/><stop offset="1" stop-color="#fff" stop-opacity="1"/></linearGradient><mask id="ak16" maskUnits="userSpaceOnUse" x="100.9" y="2.9" width="2.1" height="496.1"><rect x="100.9" y="2.9" width="2.1" height="496.1" fill="url(#am16)"/></mask><linearGradient id="am17" gradientUnits="userSpaceOnUse" x1="103" y1="0" x2="106" y2="0"><stop offset="0" stop-color="#fff" stop-opacity="0"/><stop offset="1" stop-color="#fff" stop-opacity="1"/></linearGradient><mask id="ak17" maskUnits="userSpaceOnUse" x="103" y="2.9" width="3" height="496.1"><rect x="103" y="2.9" width="3" height="496.1" fill="url(#am17)"/></mask><linearGradient id="am18" gradientUnits="userSpaceOnUse" x1="106" y1="0" x2="109" y2="0"><stop offset="0" stop-color="#fff" stop-opacity="0"/><stop offset="1" stop-color="#fff" stop-opacity="1"/></linearGradient><mask id="ak18" maskUnits="userSpaceOnUse" x="106" y="2.9" width="3" height="496.1"><rect x="106" y="2.9" width="3" height="496.1" fill="url(#am18)"/></mask><linearGradient id="am19" gradientUnits="userSpaceOnUse" x1="109" y1="0" x2="113" y2="0"><stop offset="0" stop-color="#fff" stop-opacity="0"/><stop offset="1" stop-color="#fff" stop-opacity="1"/></linearGradient><mask id="ak19" maskUnits="userSpaceOnUse" x="109" y="2.9" width="4" height="496.1"><rect x="109" y="2.9" width="4" height="496.1" fill="url(#am19)"/></mask><linearGradient id="am20" gradientUnits="userSpaceOnUse" x1="113" y1="0" x2="115" y2="0"><stop offset="0" stop-color="#fff" stop-opacity="0"/><stop offset="1" stop-color="#fff" stop-opacity="1"/></linearGradient><mask id="ak20" maskUnits="userSpaceOnUse" x="113" y="2.9" width="2" height="496.1"><rect x="113" y="2.9" width="2" height="496.1" fill="url(#am20)"/></mask><linearGradient id="am21" gradientUnits="userSpaceOnUse" x1="115" y1="0" x2="117.2" y2="0"><stop offset="0" stop-color="#fff" stop-opacity="0"/><stop offset="1" stop-color="#fff" stop-opacity="1"/></linearGradient><mask id="ak21" maskUnits="userSpaceOnUse" x="115" y="2.9" width="2.2" height="496.1"><rect x="115" y="2.9" width="2.2" height="496.1" fill="url(#am21)"/></mask><linearGradient id="am22" gradientUnits="userSpaceOnUse" x1="117.2" y1="0" x2="121.5" y2="0"><stop offset="0" stop-color="#fff" stop-opacity="0"/><stop offset="1" stop-color="#fff" stop-opacity="1"/></linearGradient><mask id="ak22" maskUnits="userSpaceOnUse" x="117.2" y="2.9" width="4.3" height="496.1"><rect x="117.2" y="2.9" width="4.3" height="496.1" fill="url(#am22)"/></mask><linearGradient id="am23" gradientUnits="userSpaceOnUse" x1="121.5" y1="0" x2="127.7" y2="0"><stop offset="0" stop-color="#fff" stop-opacity="0"/><stop offset="1" stop-color="#fff" stop-opacity="1"/></linearGradient><mask id="ak23" maskUnits="userSpaceOnUse" x="121.5" y="2.9" width="6.2" height="496.1"><rect x="121.5" y="2.9" width="6.2" height="496.1" fill="url(#am23)"/></mask><linearGradient id="am24" gradientUnits="userSpaceOnUse" x1="127.7" y1="0" x2="133.5" y2="0"><stop offset="0" stop-color="#fff" stop-opacity="0"/><stop offset="1" stop-color="#fff" stop-opacity="1"/></linearGradient><mask id="ak24" maskUnits="userSpaceOnUse" x="127.7" y="2.9" width="5.8" height="496.1"><rect x="127.7" y="2.9" width="5.8" height="496.1" fill="url(#am24)"/></mask><linearGradient id="am25" gradientUnits="userSpaceOnUse" x1="133.5" y1="0" x2="136.3" y2="0"><stop offset="0" stop-color="#fff" stop-opacity="0"/><stop offset="1" stop-color="#fff" stop-opacity="1"/></linearGradient><mask id="ak25" maskUnits="userSpaceOnUse" x="133.5" y="2.9" width="2.8" height="496.1"><rect x="133.5" y="2.9" width="2.8" height="496.1" fill="url(#am25)"/></mask><linearGradient id="am26" gradientUnits="userSpaceOnUse" x1="136.3" y1="0" x2="138.9" y2="0"><stop offset="0" stop-color="#fff" stop-opacity="0"/><stop offset="1" stop-color="#fff" stop-opacity="1"/></linearGradient><mask id="ak26" maskUnits="userSpaceOnUse" x="136.3" y="2.9" width="2.6" height="496.1"><rect x="136.3" y="2.9" width="2.6" height="496.1" fill="url(#am26)"/></mask><linearGradient id="am27" gradientUnits="userSpaceOnUse" x1="138.9" y1="0" x2="140.1" y2="0"><stop offset="0" stop-color="#fff" stop-opacity="0"/><stop offset="1" stop-color="#fff" stop-opacity="1"/></linearGradient><mask id="ak27" maskUnits="userSpaceOnUse" x="138.9" y="2.9" width="1.2" height="496.1"><rect x="138.9" y="2.9" width="1.2" height="496.1" fill="url(#am27)"/></mask><linearGradient id="am28" gradientUnits="userSpaceOnUse" x1="140.1" y1="0" x2="141.3" y2="0"><stop offset="0" stop-color="#fff" stop-opacity="0"/><stop offset="1" stop-color="#fff" stop-opacity="1"/></linearGradient><mask id="ak28" maskUnits="userSpaceOnUse" x="140.1" y="2.9" width="1.2" height="496.1"><rect x="140.1" y="2.9" width="1.2" height="496.1" fill="url(#am28)"/></mask><linearGradient id="am29" gradientUnits="userSpaceOnUse" x1="141.3" y1="0" x2="143.8" y2="0"><stop offset="0" stop-color="#fff" stop-opacity="0"/><stop offset="1" stop-color="#fff" stop-opacity="1"/></linearGradient><mask id="ak29" maskUnits="userSpaceOnUse" x="141.3" y="2.9" width="2.5" height="496.1"><rect x="141.3" y="2.9" width="2.5" height="496.1" fill="url(#am29)"/></mask><linearGradient id="am30" gradientUnits="userSpaceOnUse" x1="143.8" y1="0" x2="148" y2="0"><stop offset="0" stop-color="#fff" stop-opacity="0"/><stop offset="1" stop-color="#fff" stop-opacity="1"/></linearGradient><mask id="ak30" maskUnits="userSpaceOnUse" x="143.8" y="2.9" width="4.2" height="496.1"><rect x="143.8" y="2.9" width="4.2" height="496.1" fill="url(#am30)"/></mask><linearGradient id="am31" gradientUnits="userSpaceOnUse" x1="148" y1="0" x2="152.5" y2="0"><stop offset="0" stop-color="#fff" stop-opacity="0"/><stop offset="1" stop-color="#fff" stop-opacity="1"/></linearGradient><mask id="ak31" maskUnits="userSpaceOnUse" x="148" y="2.9" width="4.5" height="496.1"><rect x="148" y="2.9" width="4.5" height="496.1" fill="url(#am31)"/></mask><linearGradient id="am32" gradientUnits="userSpaceOnUse" x1="152.5" y1="0" x2="154.5" y2="0"><stop offset="0" stop-color="#fff" stop-opacity="0"/><stop offset="1" stop-color="#fff" stop-opacity="1"/></linearGradient><mask id="ak32" maskUnits="userSpaceOnUse" x="152.5" y="2.9" width="2" height="496.1"><rect x="152.5" y="2.9" width="2" height="496.1" fill="url(#am32)"/></mask><linearGradient id="am33" gradientUnits="userSpaceOnUse" x1="154.5" y1="0" x2="157" y2="0"><stop offset="0" stop-color="#fff" stop-opacity="0"/><stop offset="1" stop-color="#fff" stop-opacity="1"/></linearGradient><mask id="ak33" maskUnits="userSpaceOnUse" x="154.5" y="2.9" width="2.5" height="496.1"><rect x="154.5" y="2.9" width="2.5" height="496.1" fill="url(#am33)"/></mask><linearGradient id="am34" gradientUnits="userSpaceOnUse" x1="157" y1="0" x2="161" y2="0"><stop offset="0" stop-color="#fff" stop-opacity="0"/><stop offset="1" stop-color="#fff" stop-opacity="1"/></linearGradient><mask id="ak34" maskUnits="userSpaceOnUse" x="157" y="2.9" width="4" height="496.1"><rect x="157" y="2.9" width="4" height="496.1" fill="url(#am34)"/></mask><linearGradient id="am35" gradientUnits="userSpaceOnUse" x1="161" y1="0" x2="165" y2="0"><stop offset="0" stop-color="#fff" stop-opacity="0"/><stop offset="1" stop-color="#fff" stop-opacity="1"/></linearGradient><mask id="ak35" maskUnits="userSpaceOnUse" x="161" y="2.9" width="4" height="496.1"><rect x="161" y="2.9" width="4" height="496.1" fill="url(#am35)"/></mask><linearGradient id="am36" gradientUnits="userSpaceOnUse" x1="165" y1="0" x2="169" y2="0"><stop offset="0" stop-color="#fff" stop-opacity="0"/><stop offset="1" stop-color="#fff" stop-opacity="1"/></linearGradient><mask id="ak36" maskUnits="userSpaceOnUse" x="165" y="2.9" width="4" height="496.1"><rect x="165" y="2.9" width="4" height="496.1" fill="url(#am36)"/></mask><clipPath id="ac"><rect x="63" y="6.9" width="105.5" height="488.1"/></clipPath>
<linearGradient id="b0" gradientUnits="userSpaceOnUse" x1="0" y1="2.2" x2="0" y2="499"><stop offset="0" stop-color="#000000"/><stop offset=".515" stop-color="#000000"/><stop offset=".533" stop-color="#121212"/><stop offset=".569" stop-color="#242424"/><stop offset=".599" stop-color="#333333"/><stop offset=".616" stop-color="#404040"/><stop offset=".644" stop-color="#4d4d4d"/><stop offset=".67" stop-color="#595959"/><stop offset=".69" stop-color="#666666"/><stop offset=".72" stop-color="#707070"/><stop offset=".923" stop-color="#737373"/><stop offset=".926" stop-color="#999999"/><stop offset=".93" stop-color="#bfbfbf"/><stop offset=".935" stop-color="#dedede"/><stop offset=".942" stop-color="#ededed"/><stop offset="1" stop-color="#ededed"/></linearGradient><linearGradient id="b1" gradientUnits="userSpaceOnUse" x1="0" y1="2.2" x2="0" y2="499"><stop offset="0" stop-color="#000000"/><stop offset=".515" stop-color="#000000"/><stop offset=".533" stop-color="#121212"/><stop offset=".569" stop-color="#242424"/><stop offset=".599" stop-color="#333333"/><stop offset=".616" stop-color="#404040"/><stop offset=".644" stop-color="#4d4d4d"/><stop offset=".67" stop-color="#595959"/><stop offset=".69" stop-color="#666666"/><stop offset=".72" stop-color="#757575"/><stop offset=".801" stop-color="#808080"/><stop offset=".881" stop-color="#888888"/><stop offset=".923" stop-color="#909090"/><stop offset=".926" stop-color="#999999"/><stop offset=".93" stop-color="#bfbfbf"/><stop offset=".935" stop-color="#dedede"/><stop offset=".942" stop-color="#f2f2f2"/><stop offset="1" stop-color="#f2f2f2"/></linearGradient><linearGradient id="b2" gradientUnits="userSpaceOnUse" x1="0" y1="2.2" x2="0" y2="499"><stop offset="0" stop-color="#000000"/><stop offset=".424" stop-color="#000000"/><stop offset=".438" stop-color="#262626"/><stop offset=".45" stop-color="#404040"/><stop offset=".461" stop-color="#525252"/><stop offset=".471" stop-color="#666666"/><stop offset=".539" stop-color="#737373"/><stop offset=".579" stop-color="#888888"/><stop offset=".599" stop-color="#8d8d8d"/><stop offset=".64" stop-color="#9d9d9d"/><stop offset=".68" stop-color="#a8a8a8"/><stop offset=".72" stop-color="#adadad"/><stop offset=".801" stop-color="#b2b2b2"/><stop offset=".841" stop-color="#b8b8b8"/><stop offset=".901" stop-color="#b5b5b5"/><stop offset=".926" stop-color="#b5b5b5"/><stop offset=".93" stop-color="#bfbfbf"/><stop offset=".935" stop-color="#dedede"/><stop offset=".942" stop-color="#f4f4f4"/><stop offset="1" stop-color="#f4f4f4"/></linearGradient><linearGradient id="b3" gradientUnits="userSpaceOnUse" x1="0" y1="2.2" x2="0" y2="499"><stop offset="0" stop-color="#000000"/><stop offset=".394" stop-color="#000000"/><stop offset=".41" stop-color="#262626"/><stop offset=".424" stop-color="#3b3b3b"/><stop offset=".442" stop-color="#474747"/><stop offset=".455" stop-color="#575757"/><stop offset=".463" stop-color="#666666"/><stop offset=".539" stop-color="#737373"/><stop offset=".579" stop-color="#8a8a8a"/><stop offset=".599" stop-color="#929292"/><stop offset=".64" stop-color="#a2a2a2"/><stop offset=".68" stop-color="#b2b2b2"/><stop offset=".72" stop-color="#bcbcbc"/><stop offset=".801" stop-color="#c6c6c6"/><stop offset=".841" stop-color="#cccccc"/><stop offset=".901" stop-color="#d8d8d8"/><stop offset=".926" stop-color="#d8d8d8"/><stop offset=".93" stop-color="#d8d8d8"/><stop offset=".935" stop-color="#dedede"/><stop offset=".942" stop-color="#f6f6f6"/><stop offset="1" stop-color="#f6f6f6"/></linearGradient><linearGradient id="b4" gradientUnits="userSpaceOnUse" x1="0" y1="2.2" x2="0" y2="499"><stop offset="0" stop-color="#000000"/><stop offset=".374" stop-color="#000000"/><stop offset=".386" stop-color="#191919"/><stop offset=".402" stop-color="#262626"/><stop offset=".413" stop-color="#3b3b3b"/><stop offset=".433" stop-color="#454545"/><stop offset=".442" stop-color="#4d4d4d"/><stop offset=".452" stop-color="#575757"/><stop offset=".461" stop-color="#616161"/><stop offset=".479" stop-color="#6b6b6b"/><stop offset=".539" stop-color="#737373"/><stop offset=".579" stop-color="#8d8d8d"/><stop offset=".599" stop-color="#959595"/><stop offset=".64" stop-color="#a8a8a8"/><stop offset=".68" stop-color="#bcbcbc"/><stop offset=".72" stop-color="#c6c6c6"/><stop offset=".801" stop-color="#d6d6d6"/><stop offset=".841" stop-color="#d8d8d8"/><stop offset=".901" stop-color="#d8d8d8"/><stop offset=".926" stop-color="#d8d8d8"/><stop offset=".93" stop-color="#d8d8d8"/><stop offset=".935" stop-color="#dedede"/><stop offset=".942" stop-color="#f6f6f6"/><stop offset="1" stop-color="#f6f6f6"/></linearGradient><linearGradient id="b5" gradientUnits="userSpaceOnUse" x1="0" y1="2.2" x2="0" y2="499"><stop offset="0" stop-color="#000000"/><stop offset=".39" stop-color="#000000"/><stop offset=".406" stop-color="#262626"/><stop offset=".42" stop-color="#3b3b3b"/><stop offset=".438" stop-color="#474747"/><stop offset=".45" stop-color="#545454"/><stop offset=".461" stop-color="#666666"/><stop offset=".539" stop-color="#737373"/><stop offset=".579" stop-color="#888888"/><stop offset=".599" stop-color="#909090"/><stop offset=".64" stop-color="#a2a2a2"/><stop offset=".68" stop-color="#b2b2b2"/><stop offset=".72" stop-color="#bcbcbc"/><stop offset=".801" stop-color="#c9c9c9"/><stop offset=".841" stop-color="#d0d0d0"/><stop offset=".901" stop-color="#d8d8d8"/><stop offset=".926" stop-color="#d8d8d8"/><stop offset=".93" stop-color="#d8d8d8"/><stop offset=".935" stop-color="#dedede"/><stop offset=".942" stop-color="#f4f4f4"/><stop offset="1" stop-color="#f4f4f4"/></linearGradient><linearGradient id="b6" gradientUnits="userSpaceOnUse" x1="0" y1="2.2" x2="0" y2="499"><stop offset="0" stop-color="#000000"/><stop offset=".475" stop-color="#000000"/><stop offset=".479" stop-color="#0d0d0d"/><stop offset=".509" stop-color="#2e2e2e"/><stop offset=".539" stop-color="#4d4d4d"/><stop offset=".569" stop-color="#525252"/><stop offset=".599" stop-color="#5c5c5c"/><stop offset=".64" stop-color="#666666"/><stop offset=".68" stop-color="#787878"/><stop offset=".801" stop-color="#8d8d8d"/><stop offset=".881" stop-color="#959595"/><stop offset=".923" stop-color="#9a9a9a"/><stop offset=".926" stop-color="#9a9a9a"/><stop offset=".93" stop-color="#bfbfbf"/><stop offset=".935" stop-color="#dedede"/><stop offset=".942" stop-color="#f0f0f0"/><stop offset="1" stop-color="#f0f0f0"/></linearGradient><linearGradient id="b7" gradientUnits="userSpaceOnUse" x1="0" y1="2.2" x2="0" y2="499"><stop offset="0" stop-color="#000000"/><stop offset=".489" stop-color="#000000"/><stop offset=".509" stop-color="#080808"/><stop offset=".539" stop-color="#2e2e2e"/><stop offset=".569" stop-color="#333333"/><stop offset=".599" stop-color="#404040"/><stop offset=".64" stop-color="#474747"/><stop offset=".664" stop-color="#5c5c5c"/><stop offset=".69" stop-color="#666666"/><stop offset=".72" stop-color="#707070"/><stop offset=".923" stop-color="#757575"/><stop offset=".926" stop-color="#999999"/><stop offset=".93" stop-color="#bfbfbf"/><stop offset=".935" stop-color="#dedede"/><stop offset=".942" stop-color="#f0f0f0"/><stop offset="1" stop-color="#f0f0f0"/></linearGradient><linearGradient id="b8" gradientUnits="userSpaceOnUse" x1="0" y1="2.2" x2="0" y2="499"><stop offset="0" stop-color="#000000"/><stop offset=".523" stop-color="#000000"/><stop offset=".569" stop-color="#0f0f0f"/><stop offset=".599" stop-color="#1f1f1f"/><stop offset=".64" stop-color="#3d3d3d"/><stop offset=".664" stop-color="#525252"/><stop offset=".69" stop-color="#616161"/><stop offset=".801" stop-color="#6b6b6b"/><stop offset=".923" stop-color="#707070"/><stop offset=".926" stop-color="#999999"/><stop offset=".93" stop-color="#bfbfbf"/><stop offset=".935" stop-color="#dedede"/><stop offset=".942" stop-color="#f0f0f0"/><stop offset="1" stop-color="#f0f0f0"/></linearGradient><linearGradient id="b9" gradientUnits="userSpaceOnUse" x1="0" y1="2.2" x2="0" y2="499"><stop offset="0" stop-color="#000000"/><stop offset=".579" stop-color="#000000"/><stop offset=".599" stop-color="#080808"/><stop offset=".62" stop-color="#141414"/><stop offset=".64" stop-color="#262626"/><stop offset=".66" stop-color="#333333"/><stop offset=".69" stop-color="#404040"/><stop offset=".72" stop-color="#4d4d4d"/><stop offset=".793" stop-color="#5e5e5e"/><stop offset=".881" stop-color="#666666"/><stop offset=".923" stop-color="#666666"/><stop offset=".926" stop-color="#999999"/><stop offset=".93" stop-color="#bfbfbf"/><stop offset=".935" stop-color="#dedede"/><stop offset=".942" stop-color="#f0f0f0"/><stop offset="1" stop-color="#f0f0f0"/></linearGradient><linearGradient id="b10" gradientUnits="userSpaceOnUse" x1="0" y1="2.2" x2="0" y2="499"><stop offset="0" stop-color="#000000"/><stop offset=".555" stop-color="#000000"/><stop offset=".569" stop-color="#121212"/><stop offset=".583" stop-color="#191919"/><stop offset=".599" stop-color="#212121"/><stop offset=".62" stop-color="#333333"/><stop offset=".64" stop-color="#3d3d3d"/><stop offset=".67" stop-color="#454545"/><stop offset=".7" stop-color="#525252"/><stop offset=".73" stop-color="#616161"/><stop offset=".801" stop-color="#666666"/><stop offset=".923" stop-color="#6b6b6b"/><stop offset=".926" stop-color="#999999"/><stop offset=".93" stop-color="#bfbfbf"/><stop offset=".935" stop-color="#dedede"/><stop offset=".942" stop-color="#f1f1f1"/><stop offset="1" stop-color="#f1f1f1"/></linearGradient><linearGradient id="b11" gradientUnits="userSpaceOnUse" x1="0" y1="2.2" x2="0" y2="499"><stop offset="0" stop-color="#000000"/><stop offset=".523" stop-color="#000000"/><stop offset=".539" stop-color="#0d0d0d"/><stop offset=".555" stop-color="#262626"/><stop offset=".569" stop-color="#3b3b3b"/><stop offset=".599" stop-color="#404040"/><stop offset=".632" stop-color="#404040"/><stop offset=".66" stop-color="#4d4d4d"/><stop offset=".68" stop-color="#5c5c5c"/><stop offset=".7" stop-color="#666666"/><stop offset=".801" stop-color="#6b6b6b"/><stop offset=".923" stop-color="#707070"/><stop offset=".926" stop-color="#999999"/><stop offset=".93" stop-color="#bfbfbf"/><stop offset=".935" stop-color="#dedede"/><stop offset=".942" stop-color="#f1f1f1"/><stop offset="1" stop-color="#f1f1f1"/></linearGradient><linearGradient id="b12" gradientUnits="userSpaceOnUse" x1="0" y1="2.2" x2="0" y2="499"><stop offset="0" stop-color="#000000"/><stop offset=".509" stop-color="#000000"/><stop offset=".523" stop-color="#121212"/><stop offset=".539" stop-color="#262626"/><stop offset=".555" stop-color="#383838"/><stop offset=".569" stop-color="#404040"/><stop offset=".599" stop-color="#404040"/><stop offset=".632" stop-color="#454545"/><stop offset=".65" stop-color="#525252"/><stop offset=".67" stop-color="#616161"/><stop offset=".801" stop-color="#707070"/><stop offset=".923" stop-color="#757575"/><stop offset=".926" stop-color="#999999"/><stop offset=".93" stop-color="#bfbfbf"/><stop offset=".935" stop-color="#dedede"/><stop offset=".942" stop-color="#f1f1f1"/><stop offset="1" stop-color="#f1f1f1"/></linearGradient><linearGradient id="b13" gradientUnits="userSpaceOnUse" x1="0" y1="2.2" x2="0" y2="499"><stop offset="0" stop-color="#000000"/><stop offset=".485" stop-color="#000000"/><stop offset=".499" stop-color="#121212"/><stop offset=".515" stop-color="#262626"/><stop offset=".531" stop-color="#3b3b3b"/><stop offset=".549" stop-color="#454545"/><stop offset=".569" stop-color="#4d4d4d"/><stop offset=".599" stop-color="#525252"/><stop offset=".632" stop-color="#616161"/><stop offset=".66" stop-color="#6b6b6b"/><stop offset=".72" stop-color="#757575"/><stop offset=".801" stop-color="#808080"/><stop offset=".881" stop-color="#8a8a8a"/><stop offset=".923" stop-color="#909090"/><stop offset=".926" stop-color="#999999"/><stop offset=".93" stop-color="#bfbfbf"/><stop offset=".935" stop-color="#dedede"/><stop offset=".942" stop-color="#f2f2f2"/><stop offset="1" stop-color="#f2f2f2"/></linearGradient><linearGradient id="b14" gradientUnits="userSpaceOnUse" x1="0" y1="2.2" x2="0" y2="499"><stop offset="0" stop-color="#000000"/><stop offset=".4" stop-color="#000000"/><stop offset=".414" stop-color="#262626"/><stop offset=".43" stop-color="#3b3b3b"/><stop offset=".45" stop-color="#474747"/><stop offset=".463" stop-color="#525252"/><stop offset=".475" stop-color="#666666"/><stop offset=".599" stop-color="#737373"/><stop offset=".632" stop-color="#8d8d8d"/><stop offset=".65" stop-color="#9a9a9a"/><stop offset=".68" stop-color="#b0b0b0"/><stop offset=".72" stop-color="#bcbcbc"/><stop offset=".801" stop-color="#c6c6c6"/><stop offset=".841" stop-color="#d0d0d0"/><stop offset=".901" stop-color="#d8d8d8"/><stop offset=".926" stop-color="#d8d8d8"/><stop offset=".93" stop-color="#d8d8d8"/><stop offset=".935" stop-color="#dedede"/><stop offset=".942" stop-color="#f2f2f2"/><stop offset="1" stop-color="#f2f2f2"/></linearGradient><linearGradient id="b15" gradientUnits="userSpaceOnUse" x1="0" y1="2.2" x2="0" y2="499"><stop offset="0" stop-color="#000000"/><stop offset=".388" stop-color="#000000"/><stop offset=".402" stop-color="#262626"/><stop offset=".42" stop-color="#3b3b3b"/><stop offset=".446" stop-color="#474747"/><stop offset=".459" stop-color="#525252"/><stop offset=".471" stop-color="#666666"/><stop offset=".599" stop-color="#737373"/><stop offset=".632" stop-color="#8d8d8d"/><stop offset=".65" stop-color="#9a9a9a"/><stop offset=".68" stop-color="#b0b0b0"/><stop offset=".72" stop-color="#bcbcbc"/><stop offset=".801" stop-color="#c6c6c6"/><stop offset=".841" stop-color="#d0d0d0"/><stop offset=".901" stop-color="#d8d8d8"/><stop offset=".926" stop-color="#d8d8d8"/><stop offset=".93" stop-color="#d8d8d8"/><stop offset=".935" stop-color="#dedede"/><stop offset=".942" stop-color="#f2f2f2"/><stop offset="1" stop-color="#f2f2f2"/></linearGradient><linearGradient id="b16" gradientUnits="userSpaceOnUse" x1="0" y1="2.2" x2="0" y2="499"><stop offset="0" stop-color="#000000"/><stop offset=".4" stop-color="#000000"/><stop offset=".414" stop-color="#262626"/><stop offset=".43" stop-color="#3b3b3b"/><stop offset=".45" stop-color="#474747"/><stop offset=".463" stop-color="#525252"/><stop offset=".475" stop-color="#666666"/><stop offset=".599" stop-color="#737373"/><stop offset=".632" stop-color="#8d8d8d"/><stop offset=".65" stop-color="#9a9a9a"/><stop offset=".68" stop-color="#b0b0b0"/><stop offset=".72" stop-color="#bcbcbc"/><stop offset=".801" stop-color="#c6c6c6"/><stop offset=".841" stop-color="#d0d0d0"/><stop offset=".901" stop-color="#d8d8d8"/><stop offset=".926" stop-color="#d8d8d8"/><stop offset=".93" stop-color="#d8d8d8"/><stop offset=".935" stop-color="#dedede"/><stop offset=".942" stop-color="#f2f2f2"/><stop offset="1" stop-color="#f2f2f2"/></linearGradient><linearGradient id="b17" gradientUnits="userSpaceOnUse" x1="0" y1="2.2" x2="0" y2="499"><stop offset="0" stop-color="#000000"/><stop offset=".579" stop-color="#000000"/><stop offset=".599" stop-color="#333333"/><stop offset=".632" stop-color="#404040"/><stop offset=".72" stop-color="#4d4d4d"/><stop offset=".781" stop-color="#666666"/><stop offset=".841" stop-color="#757575"/><stop offset=".881" stop-color="#808080"/><stop offset=".923" stop-color="#888888"/><stop offset=".926" stop-color="#999999"/><stop offset=".93" stop-color="#bfbfbf"/><stop offset=".935" stop-color="#dedede"/><stop offset=".942" stop-color="#f1f1f1"/><stop offset="1" stop-color="#f1f1f1"/></linearGradient><linearGradient id="b18" gradientUnits="userSpaceOnUse" x1="0" y1="2.2" x2="0" y2="499"><stop offset="0" stop-color="#000000"/><stop offset=".599" stop-color="#000000"/><stop offset=".632" stop-color="#121212"/><stop offset=".68" stop-color="#212121"/><stop offset=".72" stop-color="#333333"/><stop offset=".781" stop-color="#525252"/><stop offset=".841" stop-color="#616161"/><stop offset=".923" stop-color="#6b6b6b"/><stop offset=".926" stop-color="#999999"/><stop offset=".93" stop-color="#bfbfbf"/><stop offset=".935" stop-color="#dedede"/><stop offset=".942" stop-color="#f1f1f1"/><stop offset="1" stop-color="#f1f1f1"/></linearGradient><linearGradient id="b19" gradientUnits="userSpaceOnUse" x1="0" y1="2.2" x2="0" y2="499"><stop offset="0" stop-color="#000000"/><stop offset=".67" stop-color="#000000"/><stop offset=".72" stop-color="#191919"/><stop offset=".781" stop-color="#3d3d3d"/><stop offset=".841" stop-color="#525252"/><stop offset=".919" stop-color="#5e5e5e"/><stop offset=".926" stop-color="#999999"/><stop offset=".93" stop-color="#bfbfbf"/><stop offset=".935" stop-color="#dedede"/><stop offset=".942" stop-color="#f0f0f0"/><stop offset="1" stop-color="#f0f0f0"/></linearGradient><linearGradient id="b20" gradientUnits="userSpaceOnUse" x1="0" y1="2.2" x2="0" y2="499"><stop offset="0" stop-color="#000000"/><stop offset=".75" stop-color="#000000"/><stop offset=".791" stop-color="#0d0d0d"/><stop offset=".841" stop-color="#1a1a1a"/><stop offset=".881" stop-color="#333333"/><stop offset=".911" stop-color="#454545"/><stop offset=".92" stop-color="#737373"/><stop offset=".926" stop-color="#999999"/><stop offset=".93" stop-color="#bfbfbf"/><stop offset=".935" stop-color="#dedede"/><stop offset=".942" stop-color="#e7e7e7"/><stop offset="1" stop-color="#e7e7e7"/></linearGradient><linearGradient id="b21" gradientUnits="userSpaceOnUse" x1="0" y1="2.2" x2="0" y2="499"><stop offset="0" stop-color="#000000"/><stop offset=".599" stop-color="#000000"/><stop offset=".64" stop-color="#1f1f1f"/><stop offset=".684" stop-color="#2e2e2e"/><stop offset=".76" stop-color="#3d3d3d"/><stop offset=".791" stop-color="#4d4d4d"/><stop offset=".841" stop-color="#575757"/><stop offset=".923" stop-color="#616161"/><stop offset=".926" stop-color="#999999"/><stop offset=".93" stop-color="#bfbfbf"/><stop offset=".935" stop-color="#dedede"/><stop offset=".942" stop-color="#ebebeb"/><stop offset="1" stop-color="#ebebeb"/></linearGradient><linearGradient id="b22" gradientUnits="userSpaceOnUse" x1="0" y1="2.2" x2="0" y2="499"><stop offset="0" stop-color="#000000"/><stop offset=".585" stop-color="#000000"/><stop offset=".599" stop-color="#121212"/><stop offset=".64" stop-color="#262626"/><stop offset=".684" stop-color="#3d3d3d"/><stop offset=".76" stop-color="#525252"/><stop offset=".791" stop-color="#616161"/><stop offset=".923" stop-color="#6b6b6b"/><stop offset=".926" stop-color="#999999"/><stop offset=".93" stop-color="#bfbfbf"/><stop offset=".935" stop-color="#dedede"/><stop offset=".942" stop-color="#efefef"/><stop offset="1" stop-color="#efefef"/></linearGradient><linearGradient id="b23" gradientUnits="userSpaceOnUse" x1="0" y1="2.2" x2="0" y2="499"><stop offset="0" stop-color="#000000"/><stop offset=".64" stop-color="#000000"/><stop offset=".7" stop-color="#0d0d0d"/><stop offset=".76" stop-color="#262626"/><stop offset=".801" stop-color="#333333"/><stop offset=".841" stop-color="#424242"/><stop offset=".881" stop-color="#545454"/><stop offset=".919" stop-color="#666666"/><stop offset=".926" stop-color="#999999"/><stop offset=".93" stop-color="#bfbfbf"/><stop offset=".935" stop-color="#dedede"/><stop offset=".942" stop-color="#e6e6e6"/><stop offset="1" stop-color="#e6e6e6"/></linearGradient><linearGradient id="b24" gradientUnits="userSpaceOnUse" x1="0" y1="2.2" x2="0" y2="499"><stop offset="0" stop-color="#000000"/><stop offset=".72" stop-color="#000000"/><stop offset=".746" stop-color="#080808"/><stop offset=".771" stop-color="#1a1a1a"/><stop offset=".801" stop-color="#333333"/><stop offset=".827" stop-color="#424242"/><stop offset=".911" stop-color="#474747"/><stop offset=".92" stop-color="#737373"/><stop offset=".926" stop-color="#999999"/><stop offset=".93" stop-color="#bfbfbf"/><stop offset=".935" stop-color="#dedede"/><stop offset=".942" stop-color="#f0f0f0"/><stop offset="1" stop-color="#f0f0f0"/></linearGradient><linearGradient id="b25" gradientUnits="userSpaceOnUse" x1="0" y1="2.2" x2="0" y2="499"><stop offset="0" stop-color="#000000"/><stop offset=".599" stop-color="#000000"/><stop offset=".64" stop-color="#0d0d0d"/><stop offset=".728" stop-color="#242424"/><stop offset=".76" stop-color="#383838"/><stop offset=".821" stop-color="#4a4a4a"/><stop offset=".881" stop-color="#5e5e5e"/><stop offset=".919" stop-color="#6b6b6b"/><stop offset=".926" stop-color="#999999"/><stop offset=".93" stop-color="#bfbfbf"/><stop offset=".935" stop-color="#dedede"/><stop offset=".942" stop-color="#f1f1f1"/><stop offset="1" stop-color="#f1f1f1"/></linearGradient><linearGradient id="b26" gradientUnits="userSpaceOnUse" x1="0" y1="2.2" x2="0" y2="499"><stop offset="0" stop-color="#000000"/><stop offset=".579" stop-color="#000000"/><stop offset=".61" stop-color="#262626"/><stop offset=".64" stop-color="#5c5c5c"/><stop offset=".76" stop-color="#6e6e6e"/><stop offset=".881" stop-color="#7a7a7a"/><stop offset=".919" stop-color="#858585"/><stop offset=".926" stop-color="#999999"/><stop offset=".93" stop-color="#bfbfbf"/><stop offset=".935" stop-color="#dedede"/><stop offset=".942" stop-color="#f4f4f4"/><stop offset="1" stop-color="#f4f4f4"/></linearGradient><linearGradient id="b27" gradientUnits="userSpaceOnUse" x1="0" y1="2.2" x2="0" y2="499"><stop offset="0" stop-color="#000000"/><stop offset=".318" stop-color="#000000"/><stop offset=".328" stop-color="#212121"/><stop offset=".338" stop-color="#404040"/><stop offset=".354" stop-color="#666666"/><stop offset=".398" stop-color="#808080"/><stop offset=".469" stop-color="#919191"/><stop offset=".499" stop-color="#9e9e9e"/><stop offset=".523" stop-color="#adadad"/><stop offset=".543" stop-color="#bdbdbd"/><stop offset=".569" stop-color="#cccccc"/><stop offset=".599" stop-color="#d9d9d9"/><stop offset=".801" stop-color="#dedede"/><stop offset=".921" stop-color="#e0e0e0"/><stop offset=".926" stop-color="#e0e0e0"/><stop offset=".93" stop-color="#e0e0e0"/><stop offset=".935" stop-color="#e0e0e0"/><stop offset=".942" stop-color="#f6f6f6"/><stop offset="1" stop-color="#f6f6f6"/></linearGradient><linearGradient id="b28" gradientUnits="userSpaceOnUse" x1="0" y1="2.2" x2="0" y2="499"><stop offset="0" stop-color="#000000"/><stop offset=".308" stop-color="#000000"/><stop offset=".318" stop-color="#212121"/><stop offset=".328" stop-color="#404040"/><stop offset=".344" stop-color="#666666"/><stop offset=".398" stop-color="#808080"/><stop offset=".469" stop-color="#949494"/><stop offset=".499" stop-color="#a3a3a3"/><stop offset=".523" stop-color="#b2b2b2"/><stop offset=".543" stop-color="#c2c2c2"/><stop offset=".569" stop-color="#d1d1d1"/><stop offset=".599" stop-color="#dbdbdb"/><stop offset=".801" stop-color="#e0e0e0"/><stop offset=".921" stop-color="#e3e3e3"/><stop offset=".926" stop-color="#e3e3e3"/><stop offset=".93" stop-color="#e3e3e3"/><stop offset=".935" stop-color="#e3e3e3"/><stop offset=".942" stop-color="#f7f7f7"/><stop offset="1" stop-color="#f7f7f7"/></linearGradient><linearGradient id="b29" gradientUnits="userSpaceOnUse" x1="0" y1="2.2" x2="0" y2="499"><stop offset="0" stop-color="#000000"/><stop offset=".318" stop-color="#000000"/><stop offset=".328" stop-color="#212121"/><stop offset=".338" stop-color="#404040"/><stop offset=".354" stop-color="#666666"/><stop offset=".398" stop-color="#808080"/><stop offset=".469" stop-color="#919191"/><stop offset=".499" stop-color="#9e9e9e"/><stop offset=".523" stop-color="#adadad"/><stop offset=".543" stop-color="#bdbdbd"/><stop offset=".569" stop-color="#cccccc"/><stop offset=".599" stop-color="#d9d9d9"/><stop offset=".801" stop-color="#dedede"/><stop offset=".921" stop-color="#e0e0e0"/><stop offset=".926" stop-color="#e0e0e0"/><stop offset=".93" stop-color="#e0e0e0"/><stop offset=".935" stop-color="#e0e0e0"/><stop offset=".942" stop-color="#f7f7f7"/><stop offset="1" stop-color="#f7f7f7"/></linearGradient><linearGradient id="b30" gradientUnits="userSpaceOnUse" x1="0" y1="2.2" x2="0" y2="499"><stop offset="0" stop-color="#000000"/><stop offset=".398" stop-color="#000000"/><stop offset=".412" stop-color="#1a1a1a"/><stop offset=".442" stop-color="#333333"/><stop offset=".465" stop-color="#454545"/><stop offset=".487" stop-color="#5c5c5c"/><stop offset=".499" stop-color="#6b6b6b"/><stop offset=".519" stop-color="#737373"/><stop offset=".599" stop-color="#808080"/><stop offset=".644" stop-color="#8c8c8c"/><stop offset=".7" stop-color="#999999"/><stop offset=".801" stop-color="#adadad"/><stop offset=".881" stop-color="#b8b8b8"/><stop offset=".921" stop-color="#bdbdbd"/><stop offset=".926" stop-color="#bdbdbd"/><stop offset=".93" stop-color="#bfbfbf"/><stop offset=".935" stop-color="#dedede"/><stop offset=".942" stop-color="#f5f5f5"/><stop offset="1" stop-color="#f5f5f5"/></linearGradient><linearGradient id="b31" gradientUnits="userSpaceOnUse" x1="0" y1="2.2" x2="0" y2="499"><stop offset="0" stop-color="#000000"/><stop offset=".404" stop-color="#000000"/><stop offset=".418" stop-color="#262626"/><stop offset=".442" stop-color="#404040"/><stop offset=".465" stop-color="#4c4c4c"/><stop offset=".487" stop-color="#616161"/><stop offset=".515" stop-color="#737373"/><stop offset=".599" stop-color="#808080"/><stop offset=".644" stop-color="#999999"/><stop offset=".7" stop-color="#adadad"/><stop offset=".801" stop-color="#c2c2c2"/><stop offset=".881" stop-color="#d1d1d1"/><stop offset=".921" stop-color="#d9d9d9"/><stop offset=".926" stop-color="#d9d9d9"/><stop offset=".93" stop-color="#d9d9d9"/><stop offset=".935" stop-color="#dedede"/><stop offset=".942" stop-color="#f2f2f2"/><stop offset="1" stop-color="#f2f2f2"/></linearGradient><linearGradient id="b32" gradientUnits="userSpaceOnUse" x1="0" y1="2.2" x2="0" y2="499"><stop offset="0" stop-color="#000000"/><stop offset=".418" stop-color="#000000"/><stop offset=".442" stop-color="#1a1a1a"/><stop offset=".465" stop-color="#333333"/><stop offset=".487" stop-color="#474747"/><stop offset=".515" stop-color="#616161"/><stop offset=".539" stop-color="#6e6e6e"/><stop offset=".599" stop-color="#757575"/><stop offset=".644" stop-color="#808080"/><stop offset=".7" stop-color="#949494"/><stop offset=".801" stop-color="#adadad"/><stop offset=".881" stop-color="#b8b8b8"/><stop offset=".921" stop-color="#bdbdbd"/><stop offset=".926" stop-color="#bdbdbd"/><stop offset=".93" stop-color="#bfbfbf"/><stop offset=".935" stop-color="#dedede"/><stop offset=".942" stop-color="#f1f1f1"/><stop offset="1" stop-color="#f1f1f1"/></linearGradient><linearGradient id="b33" gradientUnits="userSpaceOnUse" x1="0" y1="2.2" x2="0" y2="499"><stop offset="0" stop-color="#000000"/><stop offset=".422" stop-color="#000000"/><stop offset=".448" stop-color="#1a1a1a"/><stop offset=".465" stop-color="#2e2e2e"/><stop offset=".487" stop-color="#424242"/><stop offset=".515" stop-color="#575757"/><stop offset=".539" stop-color="#666666"/><stop offset=".599" stop-color="#757575"/><stop offset=".644" stop-color="#808080"/><stop offset=".7" stop-color="#8c8c8c"/><stop offset=".801" stop-color="#9e9e9e"/><stop offset=".881" stop-color="#a8a8a8"/><stop offset=".921" stop-color="#adadad"/><stop offset=".926" stop-color="#adadad"/><stop offset=".93" stop-color="#bfbfbf"/><stop offset=".935" stop-color="#dedede"/><stop offset=".942" stop-color="#f1f1f1"/><stop offset="1" stop-color="#f1f1f1"/></linearGradient><linearGradient id="b34" gradientUnits="userSpaceOnUse" x1="0" y1="2.2" x2="0" y2="499"><stop offset="0" stop-color="#000000"/><stop offset=".434" stop-color="#000000"/><stop offset=".465" stop-color="#1f1f1f"/><stop offset=".487" stop-color="#383838"/><stop offset=".515" stop-color="#454545"/><stop offset=".539" stop-color="#525252"/><stop offset=".569" stop-color="#616161"/><stop offset=".64" stop-color="#7a7a7a"/><stop offset=".7" stop-color="#858585"/><stop offset=".801" stop-color="#919191"/><stop offset=".881" stop-color="#999999"/><stop offset=".921" stop-color="#9e9e9e"/><stop offset=".926" stop-color="#9e9e9e"/><stop offset=".93" stop-color="#bfbfbf"/><stop offset=".935" stop-color="#dedede"/><stop offset=".942" stop-color="#f0f0f0"/><stop offset="1" stop-color="#f0f0f0"/></linearGradient><linearGradient id="b35" gradientUnits="userSpaceOnUse" x1="0" y1="2.2" x2="0" y2="499"><stop offset="0" stop-color="#000000"/><stop offset=".465" stop-color="#000000"/><stop offset=".487" stop-color="#1a1a1a"/><stop offset=".515" stop-color="#262626"/><stop offset=".539" stop-color="#333333"/><stop offset=".569" stop-color="#474747"/><stop offset=".599" stop-color="#5c5c5c"/><stop offset=".64" stop-color="#707070"/><stop offset=".7" stop-color="#808080"/><stop offset=".801" stop-color="#8c8c8c"/><stop offset=".881" stop-color="#999999"/><stop offset=".921" stop-color="#9e9e9e"/><stop offset=".926" stop-color="#9e9e9e"/><stop offset=".93" stop-color="#bfbfbf"/><stop offset=".935" stop-color="#dedede"/><stop offset=".942" stop-color="#efefef"/><stop offset="1" stop-color="#efefef"/></linearGradient><linearGradient id="b36" gradientUnits="userSpaceOnUse" x1="0" y1="2.2" x2="0" y2="499"><stop offset="0" stop-color="#000000"/><stop offset=".487" stop-color="#000000"/><stop offset=".515" stop-color="#121212"/><stop offset=".549" stop-color="#262626"/><stop offset=".573" stop-color="#3b3b3b"/><stop offset=".599" stop-color="#525252"/><stop offset=".63" stop-color="#616161"/><stop offset=".7" stop-color="#787878"/><stop offset=".801" stop-color="#858585"/><stop offset=".921" stop-color="#8c8c8c"/><stop offset=".926" stop-color="#999999"/><stop offset=".93" stop-color="#bfbfbf"/><stop offset=".935" stop-color="#dedede"/><stop offset=".942" stop-color="#eeeeee"/><stop offset="1" stop-color="#eeeeee"/></linearGradient><linearGradient id="b37" gradientUnits="userSpaceOnUse" x1="0" y1="2.2" x2="0" y2="499"><stop offset="0" stop-color="#000000"/><stop offset=".499" stop-color="#000000"/><stop offset=".519" stop-color="#121212"/><stop offset=".549" stop-color="#262626"/><stop offset=".573" stop-color="#3b3b3b"/><stop offset=".599" stop-color="#4c4c4c"/><stop offset=".63" stop-color="#616161"/><stop offset=".7" stop-color="#737373"/><stop offset=".801" stop-color="#808080"/><stop offset=".921" stop-color="#858585"/><stop offset=".926" stop-color="#999999"/><stop offset=".93" stop-color="#bfbfbf"/><stop offset=".935" stop-color="#dedede"/><stop offset=".942" stop-color="#ededed"/><stop offset="1" stop-color="#ededed"/></linearGradient><linearGradient id="bm0" gradientUnits="userSpaceOnUse" x1="207.4" y1="0" x2="213.9" y2="0"><stop offset="0" stop-color="#fff" stop-opacity="0"/><stop offset="1" stop-color="#fff" stop-opacity="1"/></linearGradient><mask id="bk0" maskUnits="userSpaceOnUse" x="207.4" y="2.2" width="6.5" height="496.8"><rect x="207.4" y="2.2" width="6.5" height="496.8" fill="url(#bm0)"/></mask><linearGradient id="bm1" gradientUnits="userSpaceOnUse" x1="213.9" y1="0" x2="215.9" y2="0"><stop offset="0" stop-color="#fff" stop-opacity="0"/><stop offset="1" stop-color="#fff" stop-opacity="1"/></linearGradient><mask id="bk1" maskUnits="userSpaceOnUse" x="213.9" y="2.2" width="2" height="496.8"><rect x="213.9" y="2.2" width="2" height="496.8" fill="url(#bm1)"/></mask><linearGradient id="bm2" gradientUnits="userSpaceOnUse" x1="215.9" y1="0" x2="218.4" y2="0"><stop offset="0" stop-color="#fff" stop-opacity="0"/><stop offset="1" stop-color="#fff" stop-opacity="1"/></linearGradient><mask id="bk2" maskUnits="userSpaceOnUse" x="215.9" y="2.2" width="2.5" height="496.8"><rect x="215.9" y="2.2" width="2.5" height="496.8" fill="url(#bm2)"/></mask><linearGradient id="bm3" gradientUnits="userSpaceOnUse" x1="218.4" y1="0" x2="221.2" y2="0"><stop offset="0" stop-color="#fff" stop-opacity="0"/><stop offset="1" stop-color="#fff" stop-opacity="1"/></linearGradient><mask id="bk3" maskUnits="userSpaceOnUse" x="218.4" y="2.2" width="2.8" height="496.8"><rect x="218.4" y="2.2" width="2.8" height="496.8" fill="url(#bm3)"/></mask><linearGradient id="bm4" gradientUnits="userSpaceOnUse" x1="221.2" y1="0" x2="223.1" y2="0"><stop offset="0" stop-color="#fff" stop-opacity="0"/><stop offset="1" stop-color="#fff" stop-opacity="1"/></linearGradient><mask id="bk4" maskUnits="userSpaceOnUse" x="221.2" y="2.2" width="1.9" height="496.8"><rect x="221.2" y="2.2" width="1.9" height="496.8" fill="url(#bm4)"/></mask><linearGradient id="bm5" gradientUnits="userSpaceOnUse" x1="223.1" y1="0" x2="225.9" y2="0"><stop offset="0" stop-color="#fff" stop-opacity="0"/><stop offset="1" stop-color="#fff" stop-opacity="1"/></linearGradient><mask id="bk5" maskUnits="userSpaceOnUse" x="223.1" y="2.2" width="2.8" height="496.8"><rect x="223.1" y="2.2" width="2.8" height="496.8" fill="url(#bm5)"/></mask><linearGradient id="bm6" gradientUnits="userSpaceOnUse" x1="225.9" y1="0" x2="227.4" y2="0"><stop offset="0" stop-color="#fff" stop-opacity="0"/><stop offset="1" stop-color="#fff" stop-opacity="1"/></linearGradient><mask id="bk6" maskUnits="userSpaceOnUse" x="225.9" y="2.2" width="1.5" height="496.8"><rect x="225.9" y="2.2" width="1.5" height="496.8" fill="url(#bm6)"/></mask><linearGradient id="bm7" gradientUnits="userSpaceOnUse" x1="227.4" y1="0" x2="228.9" y2="0"><stop offset="0" stop-color="#fff" stop-opacity="0"/><stop offset="1" stop-color="#fff" stop-opacity="1"/></linearGradient><mask id="bk7" maskUnits="userSpaceOnUse" x="227.4" y="2.2" width="1.5" height="496.8"><rect x="227.4" y="2.2" width="1.5" height="496.8" fill="url(#bm7)"/></mask><linearGradient id="bm8" gradientUnits="userSpaceOnUse" x1="228.9" y1="0" x2="230.9" y2="0"><stop offset="0" stop-color="#fff" stop-opacity="0"/><stop offset="1" stop-color="#fff" stop-opacity="1"/></linearGradient><mask id="bk8" maskUnits="userSpaceOnUse" x="228.9" y="2.2" width="2" height="496.8"><rect x="228.9" y="2.2" width="2" height="496.8" fill="url(#bm8)"/></mask><linearGradient id="bm9" gradientUnits="userSpaceOnUse" x1="230.9" y1="0" x2="232.9" y2="0"><stop offset="0" stop-color="#fff" stop-opacity="0"/><stop offset="1" stop-color="#fff" stop-opacity="1"/></linearGradient><mask id="bk9" maskUnits="userSpaceOnUse" x="230.9" y="2.2" width="2" height="496.8"><rect x="230.9" y="2.2" width="2" height="496.8" fill="url(#bm9)"/></mask><linearGradient id="bm10" gradientUnits="userSpaceOnUse" x1="232.9" y1="0" x2="235.4" y2="0"><stop offset="0" stop-color="#fff" stop-opacity="0"/><stop offset="1" stop-color="#fff" stop-opacity="1"/></linearGradient><mask id="bk10" maskUnits="userSpaceOnUse" x="232.9" y="2.2" width="2.5" height="496.8"><rect x="232.9" y="2.2" width="2.5" height="496.8" fill="url(#bm10)"/></mask><linearGradient id="bm11" gradientUnits="userSpaceOnUse" x1="235.4" y1="0" x2="237.9" y2="0"><stop offset="0" stop-color="#fff" stop-opacity="0"/><stop offset="1" stop-color="#fff" stop-opacity="1"/></linearGradient><mask id="bk11" maskUnits="userSpaceOnUse" x="235.4" y="2.2" width="2.5" height="496.8"><rect x="235.4" y="2.2" width="2.5" height="496.8" fill="url(#bm11)"/></mask><linearGradient id="bm12" gradientUnits="userSpaceOnUse" x1="237.9" y1="0" x2="240.8" y2="0"><stop offset="0" stop-color="#fff" stop-opacity="0"/><stop offset="1" stop-color="#fff" stop-opacity="1"/></linearGradient><mask id="bk12" maskUnits="userSpaceOnUse" x="237.9" y="2.2" width="2.9" height="496.8"><rect x="237.9" y="2.2" width="2.9" height="496.8" fill="url(#bm12)"/></mask><linearGradient id="bm13" gradientUnits="userSpaceOnUse" x1="240.8" y1="0" x2="242.3" y2="0"><stop offset="0" stop-color="#fff" stop-opacity="0"/><stop offset="1" stop-color="#fff" stop-opacity="1"/></linearGradient><mask id="bk13" maskUnits="userSpaceOnUse" x="240.8" y="2.2" width="1.5" height="496.8"><rect x="240.8" y="2.2" width="1.5" height="496.8" fill="url(#bm13)"/></mask><linearGradient id="bm14" gradientUnits="userSpaceOnUse" x1="242.3" y1="0" x2="243.8" y2="0"><stop offset="0" stop-color="#fff" stop-opacity="0"/><stop offset="1" stop-color="#fff" stop-opacity="1"/></linearGradient><mask id="bk14" maskUnits="userSpaceOnUse" x="242.3" y="2.2" width="1.5" height="496.8"><rect x="242.3" y="2.2" width="1.5" height="496.8" fill="url(#bm14)"/></mask><linearGradient id="bm15" gradientUnits="userSpaceOnUse" x1="243.8" y1="0" x2="245.3" y2="0"><stop offset="0" stop-color="#fff" stop-opacity="0"/><stop offset="1" stop-color="#fff" stop-opacity="1"/></linearGradient><mask id="bk15" maskUnits="userSpaceOnUse" x="243.8" y="2.2" width="1.5" height="496.8"><rect x="243.8" y="2.2" width="1.5" height="496.8" fill="url(#bm15)"/></mask><linearGradient id="bm16" gradientUnits="userSpaceOnUse" x1="245.3" y1="0" x2="247.4" y2="0"><stop offset="0" stop-color="#fff" stop-opacity="0"/><stop offset="1" stop-color="#fff" stop-opacity="1"/></linearGradient><mask id="bk16" maskUnits="userSpaceOnUse" x="245.3" y="2.2" width="2.1" height="496.8"><rect x="245.3" y="2.2" width="2.1" height="496.8" fill="url(#bm16)"/></mask><linearGradient id="bm17" gradientUnits="userSpaceOnUse" x1="247.4" y1="0" x2="250.4" y2="0"><stop offset="0" stop-color="#fff" stop-opacity="0"/><stop offset="1" stop-color="#fff" stop-opacity="1"/></linearGradient><mask id="bk17" maskUnits="userSpaceOnUse" x="247.4" y="2.2" width="3" height="496.8"><rect x="247.4" y="2.2" width="3" height="496.8" fill="url(#bm17)"/></mask><linearGradient id="bm18" gradientUnits="userSpaceOnUse" x1="250.4" y1="0" x2="253.4" y2="0"><stop offset="0" stop-color="#fff" stop-opacity="0"/><stop offset="1" stop-color="#fff" stop-opacity="1"/></linearGradient><mask id="bk18" maskUnits="userSpaceOnUse" x="250.4" y="2.2" width="3" height="496.8"><rect x="250.4" y="2.2" width="3" height="496.8" fill="url(#bm18)"/></mask><linearGradient id="bm19" gradientUnits="userSpaceOnUse" x1="253.4" y1="0" x2="257.4" y2="0"><stop offset="0" stop-color="#fff" stop-opacity="0"/><stop offset="1" stop-color="#fff" stop-opacity="1"/></linearGradient><mask id="bk19" maskUnits="userSpaceOnUse" x="253.4" y="2.2" width="4" height="496.8"><rect x="253.4" y="2.2" width="4" height="496.8" fill="url(#bm19)"/></mask><linearGradient id="bm20" gradientUnits="userSpaceOnUse" x1="257.4" y1="0" x2="259.4" y2="0"><stop offset="0" stop-color="#fff" stop-opacity="0"/><stop offset="1" stop-color="#fff" stop-opacity="1"/></linearGradient><mask id="bk20" maskUnits="userSpaceOnUse" x="257.4" y="2.2" width="2" height="496.8"><rect x="257.4" y="2.2" width="2" height="496.8" fill="url(#bm20)"/></mask><linearGradient id="bm21" gradientUnits="userSpaceOnUse" x1="259.4" y1="0" x2="261.6" y2="0"><stop offset="0" stop-color="#fff" stop-opacity="0"/><stop offset="1" stop-color="#fff" stop-opacity="1"/></linearGradient><mask id="bk21" maskUnits="userSpaceOnUse" x="259.4" y="2.2" width="2.2" height="496.8"><rect x="259.4" y="2.2" width="2.2" height="496.8" fill="url(#bm21)"/></mask><linearGradient id="bm22" gradientUnits="userSpaceOnUse" x1="261.6" y1="0" x2="265.9" y2="0"><stop offset="0" stop-color="#fff" stop-opacity="0"/><stop offset="1" stop-color="#fff" stop-opacity="1"/></linearGradient><mask id="bk22" maskUnits="userSpaceOnUse" x="261.6" y="2.2" width="4.3" height="496.8"><rect x="261.6" y="2.2" width="4.3" height="496.8" fill="url(#bm22)"/></mask><linearGradient id="bm23" gradientUnits="userSpaceOnUse" x1="265.9" y1="0" x2="272.1" y2="0"><stop offset="0" stop-color="#fff" stop-opacity="0"/><stop offset="1" stop-color="#fff" stop-opacity="1"/></linearGradient><mask id="bk23" maskUnits="userSpaceOnUse" x="265.9" y="2.2" width="6.2" height="496.8"><rect x="265.9" y="2.2" width="6.2" height="496.8" fill="url(#bm23)"/></mask><linearGradient id="bm24" gradientUnits="userSpaceOnUse" x1="272.1" y1="0" x2="277.9" y2="0"><stop offset="0" stop-color="#fff" stop-opacity="0"/><stop offset="1" stop-color="#fff" stop-opacity="1"/></linearGradient><mask id="bk24" maskUnits="userSpaceOnUse" x="272.1" y="2.2" width="5.8" height="496.8"><rect x="272.1" y="2.2" width="5.8" height="496.8" fill="url(#bm24)"/></mask><linearGradient id="bm25" gradientUnits="userSpaceOnUse" x1="277.9" y1="0" x2="280.7" y2="0"><stop offset="0" stop-color="#fff" stop-opacity="0"/><stop offset="1" stop-color="#fff" stop-opacity="1"/></linearGradient><mask id="bk25" maskUnits="userSpaceOnUse" x="277.9" y="2.2" width="2.8" height="496.8"><rect x="277.9" y="2.2" width="2.8" height="496.8" fill="url(#bm25)"/></mask><linearGradient id="bm26" gradientUnits="userSpaceOnUse" x1="280.7" y1="0" x2="283.3" y2="0"><stop offset="0" stop-color="#fff" stop-opacity="0"/><stop offset="1" stop-color="#fff" stop-opacity="1"/></linearGradient><mask id="bk26" maskUnits="userSpaceOnUse" x="280.7" y="2.2" width="2.6" height="496.8"><rect x="280.7" y="2.2" width="2.6" height="496.8" fill="url(#bm26)"/></mask><linearGradient id="bm27" gradientUnits="userSpaceOnUse" x1="283.3" y1="0" x2="284.5" y2="0"><stop offset="0" stop-color="#fff" stop-opacity="0"/><stop offset="1" stop-color="#fff" stop-opacity="1"/></linearGradient><mask id="bk27" maskUnits="userSpaceOnUse" x="283.3" y="2.2" width="1.2" height="496.8"><rect x="283.3" y="2.2" width="1.2" height="496.8" fill="url(#bm27)"/></mask><linearGradient id="bm28" gradientUnits="userSpaceOnUse" x1="284.5" y1="0" x2="285.7" y2="0"><stop offset="0" stop-color="#fff" stop-opacity="0"/><stop offset="1" stop-color="#fff" stop-opacity="1"/></linearGradient><mask id="bk28" maskUnits="userSpaceOnUse" x="284.5" y="2.2" width="1.2" height="496.8"><rect x="284.5" y="2.2" width="1.2" height="496.8" fill="url(#bm28)"/></mask><linearGradient id="bm29" gradientUnits="userSpaceOnUse" x1="285.7" y1="0" x2="288.2" y2="0"><stop offset="0" stop-color="#fff" stop-opacity="0"/><stop offset="1" stop-color="#fff" stop-opacity="1"/></linearGradient><mask id="bk29" maskUnits="userSpaceOnUse" x="285.7" y="2.2" width="2.5" height="496.8"><rect x="285.7" y="2.2" width="2.5" height="496.8" fill="url(#bm29)"/></mask><linearGradient id="bm30" gradientUnits="userSpaceOnUse" x1="288.2" y1="0" x2="292.4" y2="0"><stop offset="0" stop-color="#fff" stop-opacity="0"/><stop offset="1" stop-color="#fff" stop-opacity="1"/></linearGradient><mask id="bk30" maskUnits="userSpaceOnUse" x="288.2" y="2.2" width="4.2" height="496.8"><rect x="288.2" y="2.2" width="4.2" height="496.8" fill="url(#bm30)"/></mask><linearGradient id="bm31" gradientUnits="userSpaceOnUse" x1="292.4" y1="0" x2="296.9" y2="0"><stop offset="0" stop-color="#fff" stop-opacity="0"/><stop offset="1" stop-color="#fff" stop-opacity="1"/></linearGradient><mask id="bk31" maskUnits="userSpaceOnUse" x="292.4" y="2.2" width="4.5" height="496.8"><rect x="292.4" y="2.2" width="4.5" height="496.8" fill="url(#bm31)"/></mask><linearGradient id="bm32" gradientUnits="userSpaceOnUse" x1="296.9" y1="0" x2="298.9" y2="0"><stop offset="0" stop-color="#fff" stop-opacity="0"/><stop offset="1" stop-color="#fff" stop-opacity="1"/></linearGradient><mask id="bk32" maskUnits="userSpaceOnUse" x="296.9" y="2.2" width="2" height="496.8"><rect x="296.9" y="2.2" width="2" height="496.8" fill="url(#bm32)"/></mask><linearGradient id="bm33" gradientUnits="userSpaceOnUse" x1="298.9" y1="0" x2="301.4" y2="0"><stop offset="0" stop-color="#fff" stop-opacity="0"/><stop offset="1" stop-color="#fff" stop-opacity="1"/></linearGradient><mask id="bk33" maskUnits="userSpaceOnUse" x="298.9" y="2.2" width="2.5" height="496.8"><rect x="298.9" y="2.2" width="2.5" height="496.8" fill="url(#bm33)"/></mask><linearGradient id="bm34" gradientUnits="userSpaceOnUse" x1="301.4" y1="0" x2="305.4" y2="0"><stop offset="0" stop-color="#fff" stop-opacity="0"/><stop offset="1" stop-color="#fff" stop-opacity="1"/></linearGradient><mask id="bk34" maskUnits="userSpaceOnUse" x="301.4" y="2.2" width="4" height="496.8"><rect x="301.4" y="2.2" width="4" height="496.8" fill="url(#bm34)"/></mask><linearGradient id="bm35" gradientUnits="userSpaceOnUse" x1="305.4" y1="0" x2="309.4" y2="0"><stop offset="0" stop-color="#fff" stop-opacity="0"/><stop offset="1" stop-color="#fff" stop-opacity="1"/></linearGradient><mask id="bk35" maskUnits="userSpaceOnUse" x="305.4" y="2.2" width="4" height="496.8"><rect x="305.4" y="2.2" width="4" height="496.8" fill="url(#bm35)"/></mask><linearGradient id="bm36" gradientUnits="userSpaceOnUse" x1="309.4" y1="0" x2="313.4" y2="0"><stop offset="0" stop-color="#fff" stop-opacity="0"/><stop offset="1" stop-color="#fff" stop-opacity="1"/></linearGradient><mask id="bk36" maskUnits="userSpaceOnUse" x="309.4" y="2.2" width="4" height="496.8"><rect x="309.4" y="2.2" width="4" height="496.8" fill="url(#bm36)"/></mask><clipPath id="bc"><rect x="207.4" y="6.2" width="104.6" height="488.8"/></clipPath>
<linearGradient id="c0" gradientUnits="userSpaceOnUse" x1="0" y1="1.8" x2="0" y2="499.3"><stop offset="0" stop-color="#000000"/><stop offset=".64" stop-color="#000000"/><stop offset=".69" stop-color="#141414"/><stop offset=".8" stop-color="#212121"/><stop offset=".881" stop-color="#292929"/><stop offset=".925" stop-color="#2b2b2b"/><stop offset=".937" stop-color="#424242"/><stop offset="1" stop-color="#454545"/></linearGradient><linearGradient id="c1" gradientUnits="userSpaceOnUse" x1="0" y1="1.8" x2="0" y2="499.3"><stop offset="0" stop-color="#000000"/><stop offset=".64" stop-color="#000000"/><stop offset=".69" stop-color="#141414"/><stop offset=".8" stop-color="#212121"/><stop offset=".881" stop-color="#292929"/><stop offset=".925" stop-color="#2b2b2b"/><stop offset=".937" stop-color="#424242"/><stop offset="1" stop-color="#454545"/></linearGradient><linearGradient id="c2" gradientUnits="userSpaceOnUse" x1="0" y1="1.8" x2="0" y2="499.3"><stop offset="0" stop-color="#000000"/><stop offset=".408" stop-color="#000000"/><stop offset=".429" stop-color="#030303"/><stop offset=".469" stop-color="#050505"/><stop offset=".509" stop-color="#060606"/><stop offset=".549" stop-color="#070707"/><stop offset=".599" stop-color="#080808"/><stop offset=".64" stop-color="#090909"/><stop offset=".69" stop-color="#141414"/><stop offset=".8" stop-color="#212121"/><stop offset=".821" stop-color="#232323"/><stop offset=".881" stop-color="#292929"/><stop offset=".921" stop-color="#2b2b2b"/><stop offset=".925" stop-color="#2b2b2b"/><stop offset=".937" stop-color="#424242"/><stop offset="1" stop-color="#454545"/></linearGradient><linearGradient id="c3" gradientUnits="userSpaceOnUse" x1="0" y1="1.8" x2="0" y2="499.3"><stop offset="0" stop-color="#000000"/><stop offset=".408" stop-color="#000000"/><stop offset=".429" stop-color="#0f0f0f"/><stop offset=".469" stop-color="#1c1c1c"/><stop offset=".509" stop-color="#282828"/><stop offset=".549" stop-color="#2c2c2c"/><stop offset=".599" stop-color="#343434"/><stop offset=".64" stop-color="#383838"/><stop offset=".69" stop-color="#3c3c3c"/><stop offset=".8" stop-color="#434343"/><stop offset=".821" stop-color="#444444"/><stop offset=".881" stop-color="#464646"/><stop offset=".921" stop-color="#474747"/><stop offset=".925" stop-color="#494949"/><stop offset=".937" stop-color="#4f4f4f"/><stop offset="1" stop-color="#4f4f4f"/></linearGradient><linearGradient id="c4" gradientUnits="userSpaceOnUse" x1="0" y1="1.8" x2="0" y2="499.3"><stop offset="0" stop-color="#000000"/><stop offset=".408" stop-color="#000000"/><stop offset=".429" stop-color="#1a1a1a"/><stop offset=".469" stop-color="#2e2e2e"/><stop offset=".509" stop-color="#404040"/><stop offset=".549" stop-color="#474747"/><stop offset=".599" stop-color="#545454"/><stop offset=".69" stop-color="#616161"/><stop offset=".821" stop-color="#6e6e6e"/><stop offset=".921" stop-color="#737373"/><stop offset=".937" stop-color="#808080"/><stop offset="1" stop-color="#808080"/></linearGradient><linearGradient id="c5" gradientUnits="userSpaceOnUse" x1="0" y1="1.8" x2="0" y2="499.3"><stop offset="0" stop-color="#000000"/><stop offset=".408" stop-color="#000000"/><stop offset=".429" stop-color="#1a1a1a"/><stop offset=".469" stop-color="#2e2e2e"/><stop offset=".509" stop-color="#404040"/><stop offset=".549" stop-color="#474747"/><stop offset=".599" stop-color="#545454"/><stop offset=".69" stop-color="#616161"/><stop offset=".821" stop-color="#6e6e6e"/><stop offset=".921" stop-color="#737373"/><stop offset=".937" stop-color="#808080"/><stop offset="1" stop-color="#808080"/></linearGradient><linearGradient id="c6" gradientUnits="userSpaceOnUse" x1="0" y1="1.8" x2="0" y2="499.3"><stop offset="0" stop-color="#000000"/><stop offset=".408" stop-color="#000000"/><stop offset=".429" stop-color="#0f0f0f"/><stop offset=".469" stop-color="#1c1c1c"/><stop offset=".509" stop-color="#282828"/><stop offset=".549" stop-color="#2c2c2c"/><stop offset=".599" stop-color="#343434"/><stop offset=".69" stop-color="#3c3c3c"/><stop offset=".821" stop-color="#444444"/><stop offset=".921" stop-color="#474747"/><stop offset=".937" stop-color="#4f4f4f"/><stop offset="1" stop-color="#4f4f4f"/></linearGradient><linearGradient id="c7" gradientUnits="userSpaceOnUse" x1="0" y1="1.8" x2="0" y2="499.3"><stop offset="0" stop-color="#000000"/><stop offset=".408" stop-color="#000000"/><stop offset=".429" stop-color="#030303"/><stop offset=".469" stop-color="#050505"/><stop offset=".509" stop-color="#080808"/><stop offset=".549" stop-color="#090909"/><stop offset=".599" stop-color="#0a0a0a"/><stop offset=".69" stop-color="#0c0c0c"/><stop offset=".821" stop-color="#0d0d0d"/><stop offset=".917" stop-color="#0e0e0e"/><stop offset=".921" stop-color="#0e0e0e"/><stop offset=".937" stop-color="#2a2a2a"/><stop offset=".941" stop-color="#333333"/><stop offset="1" stop-color="#333333"/></linearGradient><linearGradient id="c8" gradientUnits="userSpaceOnUse" x1="0" y1="1.8" x2="0" y2="499.3"><stop offset="0" stop-color="#000000"/><stop offset=".913" stop-color="#000000"/><stop offset=".941" stop-color="#171717"/><stop offset="1" stop-color="#1a1a1a"/></linearGradient><linearGradient id="c9" gradientUnits="userSpaceOnUse" x1="0" y1="1.8" x2="0" y2="499.3"><stop offset="0" stop-color="#000000"/><stop offset=".913" stop-color="#000000"/><stop offset=".941" stop-color="#1f1f1f"/><stop offset="1" stop-color="#212121"/></linearGradient><linearGradient id="c10" gradientUnits="userSpaceOnUse" x1="0" y1="1.8" x2="0" y2="499.3"><stop offset="0" stop-color="#000000"/><stop offset=".913" stop-color="#000000"/><stop offset=".941" stop-color="#171717"/><stop offset="1" stop-color="#1a1a1a"/></linearGradient><linearGradient id="c11" gradientUnits="userSpaceOnUse" x1="0" y1="1.8" x2="0" y2="499.3"><stop offset="0" stop-color="#000000"/><stop offset=".425" stop-color="#000000"/><stop offset=".449" stop-color="#020202"/><stop offset=".489" stop-color="#050505"/><stop offset=".529" stop-color="#060606"/><stop offset=".569" stop-color="#080808"/><stop offset=".69" stop-color="#090909"/><stop offset=".821" stop-color="#0a0a0a"/><stop offset=".917" stop-color="#0c0c0c"/><stop offset=".921" stop-color="#0c0c0c"/><stop offset=".937" stop-color="#2a2a2a"/><stop offset=".941" stop-color="#333333"/><stop offset="1" stop-color="#333333"/></linearGradient><linearGradient id="c12" gradientUnits="userSpaceOnUse" x1="0" y1="1.8" x2="0" y2="499.3"><stop offset="0" stop-color="#000000"/><stop offset=".425" stop-color="#000000"/><stop offset=".449" stop-color="#0c0c0c"/><stop offset=".489" stop-color="#181818"/><stop offset=".529" stop-color="#202020"/><stop offset=".569" stop-color="#282828"/><stop offset=".69" stop-color="#2f2f2f"/><stop offset=".821" stop-color="#363636"/><stop offset=".921" stop-color="#3c3c3c"/><stop offset=".937" stop-color="#424242"/><stop offset="1" stop-color="#424242"/></linearGradient><linearGradient id="c13" gradientUnits="userSpaceOnUse" x1="0" y1="1.8" x2="0" y2="499.3"><stop offset="0" stop-color="#000000"/><stop offset=".425" stop-color="#000000"/><stop offset=".449" stop-color="#141414"/><stop offset=".489" stop-color="#262626"/><stop offset=".529" stop-color="#333333"/><stop offset=".569" stop-color="#404040"/><stop offset=".69" stop-color="#4c4c4c"/><stop offset=".821" stop-color="#575757"/><stop offset=".921" stop-color="#616161"/><stop offset=".937" stop-color="#6b6b6b"/><stop offset="1" stop-color="#6b6b6b"/></linearGradient><linearGradient id="c14" gradientUnits="userSpaceOnUse" x1="0" y1="1.8" x2="0" y2="499.3"><stop offset="0" stop-color="#000000"/><stop offset=".425" stop-color="#000000"/><stop offset=".449" stop-color="#141414"/><stop offset=".489" stop-color="#262626"/><stop offset=".529" stop-color="#333333"/><stop offset=".569" stop-color="#404040"/><stop offset=".69" stop-color="#4c4c4c"/><stop offset=".821" stop-color="#575757"/><stop offset=".921" stop-color="#616161"/><stop offset=".937" stop-color="#6b6b6b"/><stop offset="1" stop-color="#6b6b6b"/></linearGradient><linearGradient id="c15" gradientUnits="userSpaceOnUse" x1="0" y1="1.8" x2="0" y2="499.3"><stop offset="0" stop-color="#000000"/><stop offset=".425" stop-color="#000000"/><stop offset=".449" stop-color="#0c0c0c"/><stop offset=".489" stop-color="#181818"/><stop offset=".529" stop-color="#202020"/><stop offset=".569" stop-color="#282828"/><stop offset=".69" stop-color="#2f2f2f"/><stop offset=".821" stop-color="#363636"/><stop offset=".921" stop-color="#3c3c3c"/><stop offset=".937" stop-color="#424242"/><stop offset="1" stop-color="#424242"/></linearGradient><linearGradient id="c16" gradientUnits="userSpaceOnUse" x1="0" y1="1.8" x2="0" y2="499.3"><stop offset="0" stop-color="#000000"/><stop offset=".425" stop-color="#000000"/><stop offset=".449" stop-color="#020202"/><stop offset=".489" stop-color="#050505"/><stop offset=".529" stop-color="#060606"/><stop offset=".569" stop-color="#080808"/><stop offset=".69" stop-color="#090909"/><stop offset=".821" stop-color="#0a0a0a"/><stop offset=".917" stop-color="#0c0c0c"/><stop offset=".921" stop-color="#0c0c0c"/><stop offset=".937" stop-color="#2a2a2a"/><stop offset=".941" stop-color="#333333"/><stop offset="1" stop-color="#333333"/></linearGradient><linearGradient id="c17" gradientUnits="userSpaceOnUse" x1="0" y1="1.8" x2="0" y2="499.3"><stop offset="0" stop-color="#000000"/><stop offset=".913" stop-color="#000000"/><stop offset=".941" stop-color="#171717"/><stop offset="1" stop-color="#1a1a1a"/></linearGradient><linearGradient id="c18" gradientUnits="userSpaceOnUse" x1="0" y1="1.8" x2="0" y2="499.3"><stop offset="0" stop-color="#000000"/><stop offset=".913" stop-color="#000000"/><stop offset=".941" stop-color="#171717"/><stop offset="1" stop-color="#1a1a1a"/></linearGradient><linearGradient id="c19" gradientUnits="userSpaceOnUse" x1="0" y1="1.8" x2="0" y2="499.3"><stop offset="0" stop-color="#000000"/><stop offset=".089" stop-color="#000000"/><stop offset=".117" stop-color="#010101"/><stop offset=".177" stop-color="#010101"/><stop offset=".238" stop-color="#040404"/><stop offset=".318" stop-color="#090909"/><stop offset=".378" stop-color="#101010"/><stop offset=".439" stop-color="#191919"/><stop offset=".519" stop-color="#262626"/><stop offset=".599" stop-color="#2e2e2e"/><stop offset=".69" stop-color="#323232"/><stop offset=".8" stop-color="#343434"/><stop offset=".911" stop-color="#363636"/><stop offset=".917" stop-color="#393939"/><stop offset=".933" stop-color="#414141"/><stop offset=".941" stop-color="#414141"/><stop offset="1" stop-color="#434343"/></linearGradient><linearGradient id="c20" gradientUnits="userSpaceOnUse" x1="0" y1="1.8" x2="0" y2="499.3"><stop offset="0" stop-color="#000000"/><stop offset=".089" stop-color="#000000"/><stop offset=".117" stop-color="#0c0c0c"/><stop offset=".177" stop-color="#121212"/><stop offset=".238" stop-color="#1c1c1c"/><stop offset=".318" stop-color="#272727"/><stop offset=".378" stop-color="#333333"/><stop offset=".439" stop-color="#454545"/><stop offset=".519" stop-color="#606060"/><stop offset=".599" stop-color="#737373"/><stop offset=".69" stop-color="#7c7c7c"/><stop offset=".8" stop-color="#828282"/><stop offset=".911" stop-color="#868686"/><stop offset=".933" stop-color="#a3a3a3"/><stop offset="1" stop-color="#a6a6a6"/></linearGradient><linearGradient id="c21" gradientUnits="userSpaceOnUse" x1="0" y1="1.8" x2="0" y2="499.3"><stop offset="0" stop-color="#000000"/><stop offset=".089" stop-color="#000000"/><stop offset=".117" stop-color="#1f1f1f"/><stop offset=".177" stop-color="#2e2e2e"/><stop offset=".238" stop-color="#404040"/><stop offset=".318" stop-color="#474747"/><stop offset=".378" stop-color="#545454"/><stop offset=".439" stop-color="#666666"/><stop offset=".519" stop-color="#808080"/><stop offset=".599" stop-color="#999999"/><stop offset=".69" stop-color="#a6a6a6"/><stop offset=".8" stop-color="#adadad"/><stop offset=".911" stop-color="#b2b2b2"/><stop offset=".933" stop-color="#d9d9d9"/><stop offset="1" stop-color="#dedede"/></linearGradient><linearGradient id="c22" gradientUnits="userSpaceOnUse" x1="0" y1="1.8" x2="0" y2="499.3"><stop offset="0" stop-color="#000000"/><stop offset=".089" stop-color="#000000"/><stop offset=".117" stop-color="#1f1f1f"/><stop offset=".177" stop-color="#2e2e2e"/><stop offset=".238" stop-color="#404040"/><stop offset=".318" stop-color="#474747"/><stop offset=".378" stop-color="#545454"/><stop offset=".439" stop-color="#666666"/><stop offset=".519" stop-color="#808080"/><stop offset=".599" stop-color="#999999"/><stop offset=".69" stop-color="#a6a6a6"/><stop offset=".8" stop-color="#adadad"/><stop offset=".911" stop-color="#b2b2b2"/><stop offset=".933" stop-color="#d9d9d9"/><stop offset="1" stop-color="#dedede"/></linearGradient><linearGradient id="c23" gradientUnits="userSpaceOnUse" x1="0" y1="1.8" x2="0" y2="499.3"><stop offset="0" stop-color="#000000"/><stop offset=".089" stop-color="#000000"/><stop offset=".117" stop-color="#0c0c0c"/><stop offset=".177" stop-color="#121212"/><stop offset=".238" stop-color="#1c1c1c"/><stop offset=".318" stop-color="#272727"/><stop offset=".378" stop-color="#333333"/><stop offset=".439" stop-color="#454545"/><stop offset=".519" stop-color="#606060"/><stop offset=".599" stop-color="#737373"/><stop offset=".69" stop-color="#7c7c7c"/><stop offset=".8" stop-color="#828282"/><stop offset=".911" stop-color="#868686"/><stop offset=".933" stop-color="#a3a3a3"/><stop offset="1" stop-color="#a6a6a6"/></linearGradient><linearGradient id="c24" gradientUnits="userSpaceOnUse" x1="0" y1="1.8" x2="0" y2="499.3"><stop offset="0" stop-color="#000000"/><stop offset=".089" stop-color="#000000"/><stop offset=".117" stop-color="#010101"/><stop offset=".177" stop-color="#010101"/><stop offset=".238" stop-color="#040404"/><stop offset=".318" stop-color="#090909"/><stop offset=".378" stop-color="#101010"/><stop offset=".439" stop-color="#191919"/><stop offset=".519" stop-color="#262626"/><stop offset=".599" stop-color="#2e2e2e"/><stop offset=".69" stop-color="#323232"/><stop offset=".8" stop-color="#343434"/><stop offset=".911" stop-color="#363636"/><stop offset=".917" stop-color="#393939"/><stop offset=".933" stop-color="#414141"/><stop offset=".941" stop-color="#414141"/><stop offset="1" stop-color="#434343"/></linearGradient><linearGradient id="c25" gradientUnits="userSpaceOnUse" x1="0" y1="1.8" x2="0" y2="499.3"><stop offset="0" stop-color="#000000"/><stop offset=".913" stop-color="#000000"/><stop offset=".941" stop-color="#171717"/><stop offset="1" stop-color="#1a1a1a"/></linearGradient><linearGradient id="c26" gradientUnits="userSpaceOnUse" x1="0" y1="1.8" x2="0" y2="499.3"><stop offset="0" stop-color="#000000"/><stop offset=".913" stop-color="#000000"/><stop offset=".941" stop-color="#171717"/><stop offset="1" stop-color="#1a1a1a"/></linearGradient><linearGradient id="c27" gradientUnits="userSpaceOnUse" x1="0" y1="1.8" x2="0" y2="499.3"><stop offset="0" stop-color="#000000"/><stop offset=".133" stop-color="#000000"/><stop offset=".157" stop-color="#010101"/><stop offset=".217" stop-color="#030303"/><stop offset=".278" stop-color="#070707"/><stop offset=".322" stop-color="#0f0f0f"/><stop offset=".378" stop-color="#1a1a1a"/><stop offset=".439" stop-color="#272727"/><stop offset=".471" stop-color="#2f2f2f"/><stop offset=".499" stop-color="#383838"/><stop offset=".539" stop-color="#424242"/><stop offset=".599" stop-color="#4e4e4e"/><stop offset=".8" stop-color="#4f4f4f"/><stop offset=".917" stop-color="#505050"/><stop offset=".941" stop-color="#505050"/><stop offset="1" stop-color="#505050"/></linearGradient><linearGradient id="c28" gradientUnits="userSpaceOnUse" x1="0" y1="1.8" x2="0" y2="499.3"><stop offset="0" stop-color="#000000"/><stop offset=".133" stop-color="#000000"/><stop offset=".157" stop-color="#070707"/><stop offset=".217" stop-color="#111111"/><stop offset=".278" stop-color="#1b1b1b"/><stop offset=".322" stop-color="#303030"/><stop offset=".378" stop-color="#4a4a4a"/><stop offset=".439" stop-color="#5f5f5f"/><stop offset=".471" stop-color="#6b6b6b"/><stop offset=".499" stop-color="#777777"/><stop offset=".539" stop-color="#828282"/><stop offset=".599" stop-color="#8a8a8a"/><stop offset=".8" stop-color="#8d8d8d"/><stop offset="1" stop-color="#8e8e8e"/></linearGradient><linearGradient id="c29" gradientUnits="userSpaceOnUse" x1="0" y1="1.8" x2="0" y2="499.3"><stop offset="0" stop-color="#000000"/><stop offset=".133" stop-color="#000000"/><stop offset=".157" stop-color="#141414"/><stop offset=".217" stop-color="#2e2e2e"/><stop offset=".278" stop-color="#404040"/><stop offset=".322" stop-color="#666666"/><stop offset=".378" stop-color="#8c8c8c"/><stop offset=".439" stop-color="#a8a8a8"/><stop offset=".471" stop-color="#bababa"/><stop offset=".499" stop-color="#cccccc"/><stop offset=".539" stop-color="#d9d9d9"/><stop offset=".599" stop-color="#dedede"/><stop offset=".8" stop-color="#e3e3e3"/><stop offset="1" stop-color="#e6e6e6"/></linearGradient><linearGradient id="c30" gradientUnits="userSpaceOnUse" x1="0" y1="1.8" x2="0" y2="499.3"><stop offset="0" stop-color="#000000"/><stop offset=".133" stop-color="#000000"/><stop offset=".157" stop-color="#141414"/><stop offset=".217" stop-color="#2e2e2e"/><stop offset=".278" stop-color="#404040"/><stop offset=".322" stop-color="#666666"/><stop offset=".378" stop-color="#8c8c8c"/><stop offset=".439" stop-color="#a8a8a8"/><stop offset=".471" stop-color="#bababa"/><stop offset=".499" stop-color="#cccccc"/><stop offset=".539" stop-color="#d9d9d9"/><stop offset=".599" stop-color="#dedede"/><stop offset=".8" stop-color="#e3e3e3"/><stop offset="1" stop-color="#e6e6e6"/></linearGradient><linearGradient id="c31" gradientUnits="userSpaceOnUse" x1="0" y1="1.8" x2="0" y2="499.3"><stop offset="0" stop-color="#000000"/><stop offset=".133" stop-color="#000000"/><stop offset=".157" stop-color="#070707"/><stop offset=".217" stop-color="#111111"/><stop offset=".278" stop-color="#1b1b1b"/><stop offset=".322" stop-color="#303030"/><stop offset=".378" stop-color="#4a4a4a"/><stop offset=".439" stop-color="#616161"/><stop offset=".471" stop-color="#6f6f6f"/><stop offset=".499" stop-color="#7d7d7d"/><stop offset=".539" stop-color="#8b8b8b"/><stop offset=".599" stop-color="#979797"/><stop offset=".8" stop-color="#9a9a9a"/><stop offset="1" stop-color="#9c9c9c"/></linearGradient><linearGradient id="c32" gradientUnits="userSpaceOnUse" x1="0" y1="1.8" x2="0" y2="499.3"><stop offset="0" stop-color="#000000"/><stop offset=".133" stop-color="#000000"/><stop offset=".157" stop-color="#010101"/><stop offset=".217" stop-color="#030303"/><stop offset=".278" stop-color="#070707"/><stop offset=".322" stop-color="#0f0f0f"/><stop offset=".378" stop-color="#1a1a1a"/><stop offset=".398" stop-color="#1e1e1e"/><stop offset=".431" stop-color="#242424"/><stop offset=".439" stop-color="#252525"/><stop offset=".471" stop-color="#2c2c2c"/><stop offset=".479" stop-color="#2e2e2e"/><stop offset=".499" stop-color="#333333"/><stop offset=".519" stop-color="#404040"/><stop offset=".539" stop-color="#4c4c4c"/><stop offset=".559" stop-color="#595959"/><stop offset=".599" stop-color="#6b6b6b"/><stop offset=".69" stop-color="#808080"/><stop offset=".8" stop-color="#828282"/><stop offset="1" stop-color="#878787"/></linearGradient><linearGradient id="c33" gradientUnits="userSpaceOnUse" x1="0" y1="1.8" x2="0" y2="499.3"><stop offset="0" stop-color="#000000"/><stop offset=".081" stop-color="#000000"/><stop offset=".107" stop-color="#010101"/><stop offset=".157" stop-color="#020202"/><stop offset=".238" stop-color="#050505"/><stop offset=".358" stop-color="#0a0a0a"/><stop offset=".398" stop-color="#0e0e0e"/><stop offset=".431" stop-color="#121212"/><stop offset=".479" stop-color="#262626"/><stop offset=".519" stop-color="#404040"/><stop offset=".539" stop-color="#4c4c4c"/><stop offset=".559" stop-color="#595959"/><stop offset=".599" stop-color="#6b6b6b"/><stop offset=".69" stop-color="#808080"/><stop offset=".8" stop-color="#828282"/><stop offset=".911" stop-color="#858585"/><stop offset=".933" stop-color="#858585"/><stop offset="1" stop-color="#878787"/></linearGradient><linearGradient id="c34" gradientUnits="userSpaceOnUse" x1="0" y1="1.8" x2="0" y2="499.3"><stop offset="0" stop-color="#000000"/><stop offset=".081" stop-color="#000000"/><stop offset=".107" stop-color="#070707"/><stop offset=".157" stop-color="#101010"/><stop offset=".238" stop-color="#1a1a1a"/><stop offset=".358" stop-color="#272727"/><stop offset=".398" stop-color="#323232"/><stop offset=".431" stop-color="#3b3b3b"/><stop offset=".479" stop-color="#505050"/><stop offset=".519" stop-color="#5d5d5d"/><stop offset=".539" stop-color="#636363"/><stop offset=".559" stop-color="#686868"/><stop offset=".599" stop-color="#717171"/><stop offset=".69" stop-color="#808080"/><stop offset=".8" stop-color="#828282"/><stop offset=".911" stop-color="#858585"/><stop offset=".933" stop-color="#8d8d8d"/><stop offset="1" stop-color="#909090"/></linearGradient><linearGradient id="c35" gradientUnits="userSpaceOnUse" x1="0" y1="1.8" x2="0" y2="499.3"><stop offset="0" stop-color="#000000"/><stop offset=".081" stop-color="#000000"/><stop offset=".107" stop-color="#141414"/><stop offset=".157" stop-color="#2e2e2e"/><stop offset=".238" stop-color="#424242"/><stop offset=".358" stop-color="#4c4c4c"/><stop offset=".431" stop-color="#666666"/><stop offset=".479" stop-color="#808080"/><stop offset=".539" stop-color="#999999"/><stop offset=".599" stop-color="#adadad"/><stop offset=".69" stop-color="#b8b8b8"/><stop offset=".8" stop-color="#bfbfbf"/><stop offset=".911" stop-color="#c2c2c2"/><stop offset=".933" stop-color="#d9d9d9"/><stop offset="1" stop-color="#dedede"/></linearGradient><linearGradient id="c36" gradientUnits="userSpaceOnUse" x1="0" y1="1.8" x2="0" y2="499.3"><stop offset="0" stop-color="#000000"/><stop offset=".081" stop-color="#000000"/><stop offset=".107" stop-color="#141414"/><stop offset=".157" stop-color="#2e2e2e"/><stop offset=".238" stop-color="#424242"/><stop offset=".358" stop-color="#4c4c4c"/><stop offset=".431" stop-color="#666666"/><stop offset=".479" stop-color="#808080"/><stop offset=".539" stop-color="#999999"/><stop offset=".599" stop-color="#adadad"/><stop offset=".69" stop-color="#b8b8b8"/><stop offset=".8" stop-color="#bfbfbf"/><stop offset=".911" stop-color="#c2c2c2"/><stop offset=".933" stop-color="#d9d9d9"/><stop offset="1" stop-color="#dedede"/></linearGradient><linearGradient id="c37" gradientUnits="userSpaceOnUse" x1="0" y1="1.8" x2="0" y2="499.3"><stop offset="0" stop-color="#000000"/><stop offset=".081" stop-color="#000000"/><stop offset=".107" stop-color="#070707"/><stop offset=".157" stop-color="#101010"/><stop offset=".238" stop-color="#1a1a1a"/><stop offset=".358" stop-color="#292929"/><stop offset=".431" stop-color="#3f3f3f"/><stop offset=".479" stop-color="#565656"/><stop offset=".539" stop-color="#6b6b6b"/><stop offset=".599" stop-color="#797979"/><stop offset=".69" stop-color="#818181"/><stop offset=".8" stop-color="#868686"/><stop offset=".911" stop-color="#888888"/><stop offset=".933" stop-color="#989898"/><stop offset="1" stop-color="#9b9b9b"/></linearGradient><linearGradient id="c38" gradientUnits="userSpaceOnUse" x1="0" y1="1.8" x2="0" y2="499.3"><stop offset="0" stop-color="#000000"/><stop offset=".081" stop-color="#000000"/><stop offset=".107" stop-color="#010101"/><stop offset=".157" stop-color="#020202"/><stop offset=".238" stop-color="#060606"/><stop offset=".358" stop-color="#0e0e0e"/><stop offset=".398" stop-color="#141414"/><stop offset=".431" stop-color="#191919"/><stop offset=".479" stop-color="#242424"/><stop offset=".539" stop-color="#404040"/><stop offset=".599" stop-color="#5c5c5c"/><stop offset=".69" stop-color="#6b6b6b"/><stop offset=".8" stop-color="#737373"/><stop offset=".911" stop-color="#767676"/><stop offset=".933" stop-color="#767676"/><stop offset="1" stop-color="#787878"/></linearGradient><linearGradient id="c39" gradientUnits="userSpaceOnUse" x1="0" y1="1.8" x2="0" y2="499.3"><stop offset="0" stop-color="#000000"/><stop offset=".479" stop-color="#000000"/><stop offset=".499" stop-color="#0d0d0d"/><stop offset=".529" stop-color="#1f1f1f"/><stop offset=".599" stop-color="#2e2e2e"/><stop offset=".67" stop-color="#3b3b3b"/><stop offset=".74" stop-color="#454545"/><stop offset=".8" stop-color="#4a4a4a"/><stop offset=".921" stop-color="#4c4c4c"/><stop offset=".937" stop-color="#616161"/><stop offset="1" stop-color="#616161"/></linearGradient><linearGradient id="c40" gradientUnits="userSpaceOnUse" x1="0" y1="1.8" x2="0" y2="499.3"><stop offset="0" stop-color="#000000"/><stop offset=".479" stop-color="#000000"/><stop offset=".499" stop-color="#0d0d0d"/><stop offset=".529" stop-color="#1f1f1f"/><stop offset=".599" stop-color="#2e2e2e"/><stop offset=".67" stop-color="#3b3b3b"/><stop offset=".74" stop-color="#454545"/><stop offset=".8" stop-color="#4a4a4a"/><stop offset=".921" stop-color="#4c4c4c"/><stop offset=".937" stop-color="#616161"/><stop offset="1" stop-color="#616161"/></linearGradient><linearGradient id="cm0" gradientUnits="userSpaceOnUse" x1="348" y1="0" x2="355" y2="0"><stop offset="0" stop-color="#fff" stop-opacity="0"/><stop offset="1" stop-color="#fff" stop-opacity="1"/></linearGradient><mask id="ck0" maskUnits="userSpaceOnUse" x="348" y="1.8" width="7" height="497.5"><rect x="348" y="1.8" width="7" height="497.5" fill="url(#cm0)"/></mask><linearGradient id="cm1" gradientUnits="userSpaceOnUse" x1="355" y1="0" x2="355.9" y2="0"><stop offset="0" stop-color="#fff" stop-opacity="0"/><stop offset="1" stop-color="#fff" stop-opacity="1"/></linearGradient><mask id="ck1" maskUnits="userSpaceOnUse" x="355" y="1.8" width=".9" height="497.5"><rect x="355" y="1.8" width=".9" height="497.5" fill="url(#cm1)"/></mask><linearGradient id="cm2" gradientUnits="userSpaceOnUse" x1="355.9" y1="0" x2="357.1" y2="0"><stop offset="0" stop-color="#fff" stop-opacity="0"/><stop offset="1" stop-color="#fff" stop-opacity="1"/></linearGradient><mask id="ck2" maskUnits="userSpaceOnUse" x="355.9" y="1.8" width="1.2" height="497.5"><rect x="355.9" y="1.8" width="1.2" height="497.5" fill="url(#cm2)"/></mask><linearGradient id="cm3" gradientUnits="userSpaceOnUse" x1="357.1" y1="0" x2="358.3" y2="0"><stop offset="0" stop-color="#fff" stop-opacity="0"/><stop offset="1" stop-color="#fff" stop-opacity="1"/></linearGradient><mask id="ck3" maskUnits="userSpaceOnUse" x="357.1" y="1.8" width="1.2" height="497.5"><rect x="357.1" y="1.8" width="1.2" height="497.5" fill="url(#cm3)"/></mask><linearGradient id="cm4" gradientUnits="userSpaceOnUse" x1="358.3" y1="0" x2="360.5" y2="0"><stop offset="0" stop-color="#fff" stop-opacity="0"/><stop offset="1" stop-color="#fff" stop-opacity="1"/></linearGradient><mask id="ck4" maskUnits="userSpaceOnUse" x="358.3" y="1.8" width="2.2" height="497.5"><rect x="358.3" y="1.8" width="2.2" height="497.5" fill="url(#cm4)"/></mask><linearGradient id="cm5" gradientUnits="userSpaceOnUse" x1="360.5" y1="0" x2="361.7" y2="0"><stop offset="0" stop-color="#fff" stop-opacity="0"/><stop offset="1" stop-color="#fff" stop-opacity="1"/></linearGradient><mask id="ck5" maskUnits="userSpaceOnUse" x="360.5" y="1.8" width="1.2" height="497.5"><rect x="360.5" y="1.8" width="1.2" height="497.5" fill="url(#cm5)"/></mask><linearGradient id="cm6" gradientUnits="userSpaceOnUse" x1="361.7" y1="0" x2="363" y2="0"><stop offset="0" stop-color="#fff" stop-opacity="0"/><stop offset="1" stop-color="#fff" stop-opacity="1"/></linearGradient><mask id="ck6" maskUnits="userSpaceOnUse" x="361.7" y="1.8" width="1.3" height="497.5"><rect x="361.7" y="1.8" width="1.3" height="497.5" fill="url(#cm6)"/></mask><linearGradient id="cm7" gradientUnits="userSpaceOnUse" x1="363" y1="0" x2="364.6" y2="0"><stop offset="0" stop-color="#fff" stop-opacity="0"/><stop offset="1" stop-color="#fff" stop-opacity="1"/></linearGradient><mask id="ck7" maskUnits="userSpaceOnUse" x="363" y="1.8" width="1.6" height="497.5"><rect x="363" y="1.8" width="1.6" height="497.5" fill="url(#cm7)"/></mask><linearGradient id="cm8" gradientUnits="userSpaceOnUse" x1="364.6" y1="0" x2="373" y2="0"><stop offset="0" stop-color="#fff" stop-opacity="0"/><stop offset="1" stop-color="#fff" stop-opacity="1"/></linearGradient><mask id="ck8" maskUnits="userSpaceOnUse" x="364.6" y="1.8" width="8.4" height="497.5"><rect x="364.6" y="1.8" width="8.4" height="497.5" fill="url(#cm8)"/></mask><linearGradient id="cm9" gradientUnits="userSpaceOnUse" x1="373" y1="0" x2="381.2" y2="0"><stop offset="0" stop-color="#fff" stop-opacity="0"/><stop offset="1" stop-color="#fff" stop-opacity="1"/></linearGradient><mask id="ck9" maskUnits="userSpaceOnUse" x="373" y="1.8" width="8.2" height="497.5"><rect x="373" y="1.8" width="8.2" height="497.5" fill="url(#cm9)"/></mask><linearGradient id="cm10" gradientUnits="userSpaceOnUse" x1="381.2" y1="0" x2="382.6" y2="0"><stop offset="0" stop-color="#fff" stop-opacity="0"/><stop offset="1" stop-color="#fff" stop-opacity="1"/></linearGradient><mask id="ck10" maskUnits="userSpaceOnUse" x="381.2" y="1.8" width="1.4" height="497.5"><rect x="381.2" y="1.8" width="1.4" height="497.5" fill="url(#cm10)"/></mask><linearGradient id="cm11" gradientUnits="userSpaceOnUse" x1="382.6" y1="0" x2="383.8" y2="0"><stop offset="0" stop-color="#fff" stop-opacity="0"/><stop offset="1" stop-color="#fff" stop-opacity="1"/></linearGradient><mask id="ck11" maskUnits="userSpaceOnUse" x="382.6" y="1.8" width="1.2" height="497.5"><rect x="382.6" y="1.8" width="1.2" height="497.5" fill="url(#cm11)"/></mask><linearGradient id="cm12" gradientUnits="userSpaceOnUse" x1="383.8" y1="0" x2="385" y2="0"><stop offset="0" stop-color="#fff" stop-opacity="0"/><stop offset="1" stop-color="#fff" stop-opacity="1"/></linearGradient><mask id="ck12" maskUnits="userSpaceOnUse" x="383.8" y="1.8" width="1.2" height="497.5"><rect x="383.8" y="1.8" width="1.2" height="497.5" fill="url(#cm12)"/></mask><linearGradient id="cm13" gradientUnits="userSpaceOnUse" x1="385" y1="0" x2="387" y2="0"><stop offset="0" stop-color="#fff" stop-opacity="0"/><stop offset="1" stop-color="#fff" stop-opacity="1"/></linearGradient><mask id="ck13" maskUnits="userSpaceOnUse" x="385" y="1.8" width="2" height="497.5"><rect x="385" y="1.8" width="2" height="497.5" fill="url(#cm13)"/></mask><linearGradient id="cm14" gradientUnits="userSpaceOnUse" x1="387" y1="0" x2="388.2" y2="0"><stop offset="0" stop-color="#fff" stop-opacity="0"/><stop offset="1" stop-color="#fff" stop-opacity="1"/></linearGradient><mask id="ck14" maskUnits="userSpaceOnUse" x="387" y="1.8" width="1.2" height="497.5"><rect x="387" y="1.8" width="1.2" height="497.5" fill="url(#cm14)"/></mask><linearGradient id="cm15" gradientUnits="userSpaceOnUse" x1="388.2" y1="0" x2="389.4" y2="0"><stop offset="0" stop-color="#fff" stop-opacity="0"/><stop offset="1" stop-color="#fff" stop-opacity="1"/></linearGradient><mask id="ck15" maskUnits="userSpaceOnUse" x="388.2" y="1.8" width="1.2" height="497.5"><rect x="388.2" y="1.8" width="1.2" height="497.5" fill="url(#cm15)"/></mask><linearGradient id="cm16" gradientUnits="userSpaceOnUse" x1="389.4" y1="0" x2="390.8" y2="0"><stop offset="0" stop-color="#fff" stop-opacity="0"/><stop offset="1" stop-color="#fff" stop-opacity="1"/></linearGradient><mask id="ck16" maskUnits="userSpaceOnUse" x="389.4" y="1.8" width="1.4" height="497.5"><rect x="389.4" y="1.8" width="1.4" height="497.5" fill="url(#cm16)"/></mask><linearGradient id="cm17" gradientUnits="userSpaceOnUse" x1="390.8" y1="0" x2="402.5" y2="0"><stop offset="0" stop-color="#fff" stop-opacity="0"/><stop offset="1" stop-color="#fff" stop-opacity="1"/></linearGradient><mask id="ck17" maskUnits="userSpaceOnUse" x="390.8" y="1.8" width="11.7" height="497.5"><rect x="390.8" y="1.8" width="11.7" height="497.5" fill="url(#cm17)"/></mask><linearGradient id="cm18" gradientUnits="userSpaceOnUse" x1="402.5" y1="0" x2="403.4" y2="0"><stop offset="0" stop-color="#fff" stop-opacity="0"/><stop offset="1" stop-color="#fff" stop-opacity="1"/></linearGradient><mask id="ck18" maskUnits="userSpaceOnUse" x="402.5" y="1.8" width=".9" height="497.5"><rect x="402.5" y="1.8" width=".9" height="497.5" fill="url(#cm18)"/></mask><linearGradient id="cm19" gradientUnits="userSpaceOnUse" x1="403.4" y1="0" x2="405.2" y2="0"><stop offset="0" stop-color="#fff" stop-opacity="0"/><stop offset="1" stop-color="#fff" stop-opacity="1"/></linearGradient><mask id="ck19" maskUnits="userSpaceOnUse" x="403.4" y="1.8" width="1.8" height="497.5"><rect x="403.4" y="1.8" width="1.8" height="497.5" fill="url(#cm19)"/></mask><linearGradient id="cm20" gradientUnits="userSpaceOnUse" x1="405.2" y1="0" x2="406.9" y2="0"><stop offset="0" stop-color="#fff" stop-opacity="0"/><stop offset="1" stop-color="#fff" stop-opacity="1"/></linearGradient><mask id="ck20" maskUnits="userSpaceOnUse" x="405.2" y="1.8" width="1.7" height="497.5"><rect x="405.2" y="1.8" width="1.7" height="497.5" fill="url(#cm20)"/></mask><linearGradient id="cm21" gradientUnits="userSpaceOnUse" x1="406.9" y1="0" x2="409.1" y2="0"><stop offset="0" stop-color="#fff" stop-opacity="0"/><stop offset="1" stop-color="#fff" stop-opacity="1"/></linearGradient><mask id="ck21" maskUnits="userSpaceOnUse" x="406.9" y="1.8" width="2.2" height="497.5"><rect x="406.9" y="1.8" width="2.2" height="497.5" fill="url(#cm21)"/></mask><linearGradient id="cm22" gradientUnits="userSpaceOnUse" x1="409.1" y1="0" x2="410.8" y2="0"><stop offset="0" stop-color="#fff" stop-opacity="0"/><stop offset="1" stop-color="#fff" stop-opacity="1"/></linearGradient><mask id="ck22" maskUnits="userSpaceOnUse" x="409.1" y="1.8" width="1.7" height="497.5"><rect x="409.1" y="1.8" width="1.7" height="497.5" fill="url(#cm22)"/></mask><linearGradient id="cm23" gradientUnits="userSpaceOnUse" x1="410.8" y1="0" x2="412.6" y2="0"><stop offset="0" stop-color="#fff" stop-opacity="0"/><stop offset="1" stop-color="#fff" stop-opacity="1"/></linearGradient><mask id="ck23" maskUnits="userSpaceOnUse" x="410.8" y="1.8" width="1.8" height="497.5"><rect x="410.8" y="1.8" width="1.8" height="497.5" fill="url(#cm23)"/></mask><linearGradient id="cm24" gradientUnits="userSpaceOnUse" x1="412.6" y1="0" x2="413.8" y2="0"><stop offset="0" stop-color="#fff" stop-opacity="0"/><stop offset="1" stop-color="#fff" stop-opacity="1"/></linearGradient><mask id="ck24" maskUnits="userSpaceOnUse" x="412.6" y="1.8" width="1.2" height="497.5"><rect x="412.6" y="1.8" width="1.2" height="497.5" fill="url(#cm24)"/></mask><linearGradient id="cm25" gradientUnits="userSpaceOnUse" x1="413.8" y1="0" x2="420.5" y2="0"><stop offset="0" stop-color="#fff" stop-opacity="0"/><stop offset="1" stop-color="#fff" stop-opacity="1"/></linearGradient><mask id="ck25" maskUnits="userSpaceOnUse" x="413.8" y="1.8" width="6.7" height="497.5"><rect x="413.8" y="1.8" width="6.7" height="497.5" fill="url(#cm25)"/></mask><linearGradient id="cm26" gradientUnits="userSpaceOnUse" x1="420.5" y1="0" x2="422" y2="0"><stop offset="0" stop-color="#fff" stop-opacity="0"/><stop offset="1" stop-color="#fff" stop-opacity="1"/></linearGradient><mask id="ck26" maskUnits="userSpaceOnUse" x="420.5" y="1.8" width="1.5" height="497.5"><rect x="420.5" y="1.8" width="1.5" height="497.5" fill="url(#cm26)"/></mask><linearGradient id="cm27" gradientUnits="userSpaceOnUse" x1="422" y1="0" x2="423.6" y2="0"><stop offset="0" stop-color="#fff" stop-opacity="0"/><stop offset="1" stop-color="#fff" stop-opacity="1"/></linearGradient><mask id="ck27" maskUnits="userSpaceOnUse" x="422" y="1.8" width="1.6" height="497.5"><rect x="422" y="1.8" width="1.6" height="497.5" fill="url(#cm27)"/></mask><linearGradient id="cm28" gradientUnits="userSpaceOnUse" x1="423.6" y1="0" x2="424.7" y2="0"><stop offset="0" stop-color="#fff" stop-opacity="0"/><stop offset="1" stop-color="#fff" stop-opacity="1"/></linearGradient><mask id="ck28" maskUnits="userSpaceOnUse" x="423.6" y="1.8" width="1.1" height="497.5"><rect x="423.6" y="1.8" width="1.1" height="497.5" fill="url(#cm28)"/></mask><linearGradient id="cm29" gradientUnits="userSpaceOnUse" x1="424.7" y1="0" x2="426.9" y2="0"><stop offset="0" stop-color="#fff" stop-opacity="0"/><stop offset="1" stop-color="#fff" stop-opacity="1"/></linearGradient><mask id="ck29" maskUnits="userSpaceOnUse" x="424.7" y="1.8" width="2.2" height="497.5"><rect x="424.7" y="1.8" width="2.2" height="497.5" fill="url(#cm29)"/></mask><linearGradient id="cm30" gradientUnits="userSpaceOnUse" x1="426.9" y1="0" x2="428.2" y2="0"><stop offset="0" stop-color="#fff" stop-opacity="0"/><stop offset="1" stop-color="#fff" stop-opacity="1"/></linearGradient><mask id="ck30" maskUnits="userSpaceOnUse" x="426.9" y="1.8" width="1.3" height="497.5"><rect x="426.9" y="1.8" width="1.3" height="497.5" fill="url(#cm30)"/></mask><linearGradient id="cm31" gradientUnits="userSpaceOnUse" x1="428.2" y1="0" x2="430" y2="0"><stop offset="0" stop-color="#fff" stop-opacity="0"/><stop offset="1" stop-color="#fff" stop-opacity="1"/></linearGradient><mask id="ck31" maskUnits="userSpaceOnUse" x="428.2" y="1.8" width="1.8" height="497.5"><rect x="428.2" y="1.8" width="1.8" height="497.5" fill="url(#cm31)"/></mask><linearGradient id="cm32" gradientUnits="userSpaceOnUse" x1="430" y1="0" x2="435" y2="0"><stop offset="0" stop-color="#fff" stop-opacity="0"/><stop offset="1" stop-color="#fff" stop-opacity="1"/></linearGradient><mask id="ck32" maskUnits="userSpaceOnUse" x="430" y="1.8" width="5" height="497.5"><rect x="430" y="1.8" width="5" height="497.5" fill="url(#cm32)"/></mask><linearGradient id="cm33" gradientUnits="userSpaceOnUse" x1="435" y1="0" x2="436.9" y2="0"><stop offset="0" stop-color="#fff" stop-opacity="0"/><stop offset="1" stop-color="#fff" stop-opacity="1"/></linearGradient><mask id="ck33" maskUnits="userSpaceOnUse" x="435" y="1.8" width="1.9" height="497.5"><rect x="435" y="1.8" width="1.9" height="497.5" fill="url(#cm33)"/></mask><linearGradient id="cm34" gradientUnits="userSpaceOnUse" x1="436.9" y1="0" x2="438.3" y2="0"><stop offset="0" stop-color="#fff" stop-opacity="0"/><stop offset="1" stop-color="#fff" stop-opacity="1"/></linearGradient><mask id="ck34" maskUnits="userSpaceOnUse" x="436.9" y="1.8" width="1.4" height="497.5"><rect x="436.9" y="1.8" width="1.4" height="497.5" fill="url(#cm34)"/></mask><linearGradient id="cm35" gradientUnits="userSpaceOnUse" x1="438.3" y1="0" x2="440.5" y2="0"><stop offset="0" stop-color="#fff" stop-opacity="0"/><stop offset="1" stop-color="#fff" stop-opacity="1"/></linearGradient><mask id="ck35" maskUnits="userSpaceOnUse" x="438.3" y="1.8" width="2.2" height="497.5"><rect x="438.3" y="1.8" width="2.2" height="497.5" fill="url(#cm35)"/></mask><linearGradient id="cm36" gradientUnits="userSpaceOnUse" x1="440.5" y1="0" x2="441.8" y2="0"><stop offset="0" stop-color="#fff" stop-opacity="0"/><stop offset="1" stop-color="#fff" stop-opacity="1"/></linearGradient><mask id="ck36" maskUnits="userSpaceOnUse" x="440.5" y="1.8" width="1.3" height="497.5"><rect x="440.5" y="1.8" width="1.3" height="497.5" fill="url(#cm36)"/></mask><linearGradient id="cm37" gradientUnits="userSpaceOnUse" x1="441.8" y1="0" x2="444" y2="0"><stop offset="0" stop-color="#fff" stop-opacity="0"/><stop offset="1" stop-color="#fff" stop-opacity="1"/></linearGradient><mask id="ck37" maskUnits="userSpaceOnUse" x="441.8" y="1.8" width="2.2" height="497.5"><rect x="441.8" y="1.8" width="2.2" height="497.5" fill="url(#cm37)"/></mask><linearGradient id="cm38" gradientUnits="userSpaceOnUse" x1="444" y1="0" x2="447" y2="0"><stop offset="0" stop-color="#fff" stop-opacity="0"/><stop offset="1" stop-color="#fff" stop-opacity="1"/></linearGradient><mask id="ck38" maskUnits="userSpaceOnUse" x="444" y="1.8" width="3" height="497.5"><rect x="444" y="1.8" width="3" height="497.5" fill="url(#cm38)"/></mask><linearGradient id="cm39" gradientUnits="userSpaceOnUse" x1="447" y1="0" x2="456" y2="0"><stop offset="0" stop-color="#fff" stop-opacity="0"/><stop offset="1" stop-color="#fff" stop-opacity="1"/></linearGradient><mask id="ck39" maskUnits="userSpaceOnUse" x="447" y="1.8" width="9" height="497.5"><rect x="447" y="1.8" width="9" height="497.5" fill="url(#cm39)"/></mask><clipPath id="cc"><rect x="348.8" y="5.8" width="106.5" height="489.5"/></clipPath>
<linearGradient id="cbu" x1="0" y1="1" x2="0" y2="0"><stop offset="0" stop-color="#0000ff"/><stop offset=".05" stop-color="#001eff"/><stop offset=".1" stop-color="#0046ff"/><stop offset=".15" stop-color="#0078ff"/><stop offset=".2" stop-color="#00aaff"/><stop offset=".26" stop-color="#00f0ff"/><stop offset=".3" stop-color="#00f0d2"/><stop offset=".35" stop-color="#00f0a0"/><stop offset=".4" stop-color="#00f064"/><stop offset=".45" stop-color="#00f028"/><stop offset=".5" stop-color="#00f000"/><stop offset=".6" stop-color="#00ec00"/><stop offset=".63" stop-color="#28ee00"/><stop offset=".65" stop-color="#64f000"/><stop offset=".7" stop-color="#befa00"/><stop offset=".735" stop-color="#faff00"/><stop offset=".75" stop-color="#fff000"/><stop offset=".8" stop-color="#ffc300"/><stop offset=".85" stop-color="#ff9600"/><stop offset=".9" stop-color="#ff6400"/><stop offset=".95" stop-color="#ff3200"/><stop offset="1" stop-color="#ff0000"/></linearGradient>
<linearGradient id="cbd" x1="0" y1="0" x2="0" y2="1"><stop offset="0" stop-color="#0000ff"/><stop offset=".05" stop-color="#001eff"/><stop offset=".1" stop-color="#0046ff"/><stop offset=".15" stop-color="#0078ff"/><stop offset=".2" stop-color="#00aaff"/><stop offset=".26" stop-color="#00f0ff"/><stop offset=".3" stop-color="#00f0d2"/><stop offset=".35" stop-color="#00f0a0"/><stop offset=".4" stop-color="#00f064"/><stop offset=".45" stop-color="#00f028"/><stop offset=".5" stop-color="#00f000"/><stop offset=".6" stop-color="#00ec00"/><stop offset=".63" stop-color="#28ee00"/><stop offset=".65" stop-color="#64f000"/><stop offset=".7" stop-color="#befa00"/><stop offset=".735" stop-color="#faff00"/><stop offset=".75" stop-color="#fff000"/><stop offset=".8" stop-color="#ffc300"/><stop offset=".85" stop-color="#ff9600"/><stop offset=".9" stop-color="#ff6400"/><stop offset=".95" stop-color="#ff3200"/><stop offset="1" stop-color="#ff0000"/></linearGradient>
</defs>
<rect width="499" height="550" fill="#fff"/>
<g filter="url(#soft)"><g clip-path="url(#ac)"><g filter="url(#cm)"><rect x="59" y="2.9" width="5" height="496.1" fill="url(#a0)"/><rect x="63" y="2.9" width="7.5" height="496.1" fill="url(#a0)"/><rect x="63" y="2.9" width="6.5" height="496.1" fill="url(#a1)" mask="url(#ak0)"/><rect x="69.5" y="2.9" width="3" height="496.1" fill="url(#a1)"/><rect x="69.5" y="2.9" width="2" height="496.1" fill="url(#a2)" mask="url(#ak1)"/><rect x="71.5" y="2.9" width="3.5" height="496.1" fill="url(#a2)"/><rect x="71.5" y="2.9" width="2.5" height="496.1" fill="url(#a3)" mask="url(#ak2)"/><rect x="74" y="2.9" width="3.8" height="496.1" fill="url(#a3)"/><rect x="74" y="2.9" width="2.8" height="496.1" fill="url(#a4)" mask="url(#ak3)"/><rect x="76.8" y="2.9" width="2.9" height="496.1" fill="url(#a4)"/><rect x="76.8" y="2.9" width="1.9" height="496.1" fill="url(#a5)" mask="url(#ak4)"/><rect x="78.7" y="2.9" width="3.8" height="496.1" fill="url(#a5)"/><rect x="78.7" y="2.9" width="2.8" height="496.1" fill="url(#a6)" mask="url(#ak5)"/><rect x="81.5" y="2.9" width="2.5" height="496.1" fill="url(#a6)"/><rect x="81.5" y="2.9" width="1.5" height="496.1" fill="url(#a7)" mask="url(#ak6)"/><rect x="83" y="2.9" width="2.5" height="496.1" fill="url(#a7)"/><rect x="83" y="2.9" width="1.5" height="496.1" fill="url(#a8)" mask="url(#ak7)"/><rect x="84.5" y="2.9" width="3" height="496.1" fill="url(#a8)"/><rect x="84.5" y="2.9" width="2" height="496.1" fill="url(#a9)" mask="url(#ak8)"/><rect x="86.5" y="2.9" width="3" height="496.1" fill="url(#a9)"/><rect x="86.5" y="2.9" width="2" height="496.1" fill="url(#a10)" mask="url(#ak9)"/><rect x="88.5" y="2.9" width="3.5" height="496.1" fill="url(#a10)"/><rect x="88.5" y="2.9" width="2.5" height="496.1" fill="url(#a11)" mask="url(#ak10)"/><rect x="91" y="2.9" width="3.5" height="496.1" fill="url(#a11)"/><rect x="91" y="2.9" width="2.5" height="496.1" fill="url(#a12)" mask="url(#ak11)"/><rect x="93.5" y="2.9" width="3.9" height="496.1" fill="url(#a12)"/><rect x="93.5" y="2.9" width="2.9" height="496.1" fill="url(#a13)" mask="url(#ak12)"/><rect x="96.4" y="2.9" width="2.5" height="496.1" fill="url(#a13)"/><rect x="96.4" y="2.9" width="1.5" height="496.1" fill="url(#a14)" mask="url(#ak13)"/><rect x="97.9" y="2.9" width="2.5" height="496.1" fill="url(#a14)"/><rect x="97.9" y="2.9" width="1.5" height="496.1" fill="url(#a15)" mask="url(#ak14)"/><rect x="99.4" y="2.9" width="2.5" height="496.1" fill="url(#a15)"/><rect x="99.4" y="2.9" width="1.5" height="496.1" fill="url(#a16)" mask="url(#ak15)"/><rect x="100.9" y="2.9" width="3.1" height="496.1" fill="url(#a16)"/><rect x="100.9" y="2.9" width="2.1" height="496.1" fill="url(#a17)" mask="url(#ak16)"/><rect x="103" y="2.9" width="4" height="496.1" fill="url(#a17)"/><rect x="103" y="2.9" width="3" height="496.1" fill="url(#a18)" mask="url(#ak17)"/><rect x="106" y="2.9" width="4" height="496.1" fill="url(#a18)"/><rect x="106" y="2.9" width="3" height="496.1" fill="url(#a19)" mask="url(#ak18)"/><rect x="109" y="2.9" width="5" height="496.1" fill="url(#a19)"/><rect x="109" y="2.9" width="4" height="496.1" fill="url(#a20)" mask="url(#ak19)"/><rect x="113" y="2.9" width="3" height="496.1" fill="url(#a20)"/><rect x="113" y="2.9" width="2" height="496.1" fill="url(#a21)" mask="url(#ak20)"/><rect x="115" y="2.9" width="3.2" height="496.1" fill="url(#a21)"/><rect x="115" y="2.9" width="2.2" height="496.1" fill="url(#a22)" mask="url(#ak21)"/><rect x="117.2" y="2.9" width="5.3" height="496.1" fill="url(#a22)"/><rect x="117.2" y="2.9" width="4.3" height="496.1" fill="url(#a23)" mask="url(#ak22)"/><rect x="121.5" y="2.9" width="7.2" height="496.1" fill="url(#a23)"/><rect x="121.5" y="2.9" width="6.2" height="496.1" fill="url(#a24)" mask="url(#ak23)"/><rect x="127.7" y="2.9" width="6.8" height="496.1" fill="url(#a24)"/><rect x="127.7" y="2.9" width="5.8" height="496.1" fill="url(#a25)" mask="url(#ak24)"/><rect x="133.5" y="2.9" width="3.8" height="496.1" fill="url(#a25)"/><rect x="133.5" y="2.9" width="2.8" height="496.1" fill="url(#a26)" mask="url(#ak25)"/><rect x="136.3" y="2.9" width="3.6" height="496.1" fill="url(#a26)"/><rect x="136.3" y="2.9" width="2.6" height="496.1" fill="url(#a27)" mask="url(#ak26)"/><rect x="138.9" y="2.9" width="2.2" height="496.1" fill="url(#a27)"/><rect x="138.9" y="2.9" width="1.2" height="496.1" fill="url(#a28)" mask="url(#ak27)"/><rect x="140.1" y="2.9" width="2.2" height="496.1" fill="url(#a28)"/><rect x="140.1" y="2.9" width="1.2" height="496.1" fill="url(#a29)" mask="url(#ak28)"/><rect x="141.3" y="2.9" width="3.5" height="496.1" fill="url(#a29)"/><rect x="141.3" y="2.9" width="2.5" height="496.1" fill="url(#a30)" mask="url(#ak29)"/><rect x="143.8" y="2.9" width="5.2" height="496.1" fill="url(#a30)"/><rect x="143.8" y="2.9" width="4.2" height="496.1" fill="url(#a31)" mask="url(#ak30)"/><rect x="148" y="2.9" width="5.5" height="496.1" fill="url(#a31)"/><rect x="148" y="2.9" width="4.5" height="496.1" fill="url(#a32)" mask="url(#ak31)"/><rect x="152.5" y="2.9" width="3" height="496.1" fill="url(#a32)"/><rect x="152.5" y="2.9" width="2" height="496.1" fill="url(#a33)" mask="url(#ak32)"/><rect x="154.5" y="2.9" width="3.5" height="496.1" fill="url(#a33)"/><rect x="154.5" y="2.9" width="2.5" height="496.1" fill="url(#a34)" mask="url(#ak33)"/><rect x="157" y="2.9" width="5" height="496.1" fill="url(#a34)"/><rect x="157" y="2.9" width="4" height="496.1" fill="url(#a35)" mask="url(#ak34)"/><rect x="161" y="2.9" width="5" height="496.1" fill="url(#a35)"/><rect x="161" y="2.9" width="4" height="496.1" fill="url(#a36)" mask="url(#ak35)"/><rect x="165" y="2.9" width="5" height="496.1" fill="url(#a36)"/><rect x="165" y="2.9" width="4" height="496.1" fill="url(#a37)" mask="url(#ak36)"/><rect x="169" y="2.9" width="4" height="496.1" fill="url(#a37)"/></g></g></g>
<g filter="url(#soft)"><g clip-path="url(#bc)"><g filter="url(#cm)"><rect x="203.4" y="2.2" width="5" height="496.8" fill="url(#b0)"/><rect x="207.4" y="2.2" width="7.5" height="496.8" fill="url(#b0)"/><rect x="207.4" y="2.2" width="6.5" height="496.8" fill="url(#b1)" mask="url(#bk0)"/><rect x="213.9" y="2.2" width="3" height="496.8" fill="url(#b1)"/><rect x="213.9" y="2.2" width="2" height="496.8" fill="url(#b2)" mask="url(#bk1)"/><rect x="215.9" y="2.2" width="3.5" height="496.8" fill="url(#b2)"/><rect x="215.9" y="2.2" width="2.5" height="496.8" fill="url(#b3)" mask="url(#bk2)"/><rect x="218.4" y="2.2" width="3.8" height="496.8" fill="url(#b3)"/><rect x="218.4" y="2.2" width="2.8" height="496.8" fill="url(#b4)" mask="url(#bk3)"/><rect x="221.2" y="2.2" width="2.9" height="496.8" fill="url(#b4)"/><rect x="221.2" y="2.2" width="1.9" height="496.8" fill="url(#b5)" mask="url(#bk4)"/><rect x="223.1" y="2.2" width="3.8" height="496.8" fill="url(#b5)"/><rect x="223.1" y="2.2" width="2.8" height="496.8" fill="url(#b6)" mask="url(#bk5)"/><rect x="225.9" y="2.2" width="2.5" height="496.8" fill="url(#b6)"/><rect x="225.9" y="2.2" width="1.5" height="496.8" fill="url(#b7)" mask="url(#bk6)"/><rect x="227.4" y="2.2" width="2.5" height="496.8" fill="url(#b7)"/><rect x="227.4" y="2.2" width="1.5" height="496.8" fill="url(#b8)" mask="url(#bk7)"/><rect x="228.9" y="2.2" width="3" height="496.8" fill="url(#b8)"/><rect x="228.9" y="2.2" width="2" height="496.8" fill="url(#b9)" mask="url(#bk8)"/><rect x="230.9" y="2.2" width="3" height="496.8" fill="url(#b9)"/><rect x="230.9" y="2.2" width="2" height="496.8" fill="url(#b10)" mask="url(#bk9)"/><rect x="232.9" y="2.2" width="3.5" height="496.8" fill="url(#b10)"/><rect x="232.9" y="2.2" width="2.5" height="496.8" fill="url(#b11)" mask="url(#bk10)"/><rect x="235.4" y="2.2" width="3.5" height="496.8" fill="url(#b11)"/><rect x="235.4" y="2.2" width="2.5" height="496.8" fill="url(#b12)" mask="url(#bk11)"/><rect x="237.9" y="2.2" width="3.9" height="496.8" fill="url(#b12)"/><rect x="237.9" y="2.2" width="2.9" height="496.8" fill="url(#b13)" mask="url(#bk12)"/><rect x="240.8" y="2.2" width="2.5" height="496.8" fill="url(#b13)"/><rect x="240.8" y="2.2" width="1.5" height="496.8" fill="url(#b14)" mask="url(#bk13)"/><rect x="242.3" y="2.2" width="2.5" height="496.8" fill="url(#b14)"/><rect x="242.3" y="2.2" width="1.5" height="496.8" fill="url(#b15)" mask="url(#bk14)"/><rect x="243.8" y="2.2" width="2.5" height="496.8" fill="url(#b15)"/><rect x="243.8" y="2.2" width="1.5" height="496.8" fill="url(#b16)" mask="url(#bk15)"/><rect x="245.3" y="2.2" width="3.1" height="496.8" fill="url(#b16)"/><rect x="245.3" y="2.2" width="2.1" height="496.8" fill="url(#b17)" mask="url(#bk16)"/><rect x="247.4" y="2.2" width="4" height="496.8" fill="url(#b17)"/><rect x="247.4" y="2.2" width="3" height="496.8" fill="url(#b18)" mask="url(#bk17)"/><rect x="250.4" y="2.2" width="4" height="496.8" fill="url(#b18)"/><rect x="250.4" y="2.2" width="3" height="496.8" fill="url(#b19)" mask="url(#bk18)"/><rect x="253.4" y="2.2" width="5" height="496.8" fill="url(#b19)"/><rect x="253.4" y="2.2" width="4" height="496.8" fill="url(#b20)" mask="url(#bk19)"/><rect x="257.4" y="2.2" width="3" height="496.8" fill="url(#b20)"/><rect x="257.4" y="2.2" width="2" height="496.8" fill="url(#b21)" mask="url(#bk20)"/><rect x="259.4" y="2.2" width="3.2" height="496.8" fill="url(#b21)"/><rect x="259.4" y="2.2" width="2.2" height="496.8" fill="url(#b22)" mask="url(#bk21)"/><rect x="261.6" y="2.2" width="5.3" height="496.8" fill="url(#b22)"/><rect x="261.6" y="2.2" width="4.3" height="496.8" fill="url(#b23)" mask="url(#bk22)"/><rect x="265.9" y="2.2" width="7.2" height="496.8" fill="url(#b23)"/><rect x="265.9" y="2.2" width="6.2" height="496.8" fill="url(#b24)" mask="url(#bk23)"/><rect x="272.1" y="2.2" width="6.8" height="496.8" fill="url(#b24)"/><rect x="272.1" y="2.2" width="5.8" height="496.8" fill="url(#b25)" mask="url(#bk24)"/><rect x="277.9" y="2.2" width="3.8" height="496.8" fill="url(#b25)"/><rect x="277.9" y="2.2" width="2.8" height="496.8" fill="url(#b26)" mask="url(#bk25)"/><rect x="280.7" y="2.2" width="3.6" height="496.8" fill="url(#b26)"/><rect x="280.7" y="2.2" width="2.6" height="496.8" fill="url(#b27)" mask="url(#bk26)"/><rect x="283.3" y="2.2" width="2.2" height="496.8" fill="url(#b27)"/><rect x="283.3" y="2.2" width="1.2" height="496.8" fill="url(#b28)" mask="url(#bk27)"/><rect x="284.5" y="2.2" width="2.2" height="496.8" fill="url(#b28)"/><rect x="284.5" y="2.2" width="1.2" height="496.8" fill="url(#b29)" mask="url(#bk28)"/><rect x="285.7" y="2.2" width="3.5" height="496.8" fill="url(#b29)"/><rect x="285.7" y="2.2" width="2.5" height="496.8" fill="url(#b30)" mask="url(#bk29)"/><rect x="288.2" y="2.2" width="5.2" height="496.8" fill="url(#b30)"/><rect x="288.2" y="2.2" width="4.2" height="496.8" fill="url(#b31)" mask="url(#bk30)"/><rect x="292.4" y="2.2" width="5.5" height="496.8" fill="url(#b31)"/><rect x="292.4" y="2.2" width="4.5" height="496.8" fill="url(#b32)" mask="url(#bk31)"/><rect x="296.9" y="2.2" width="3" height="496.8" fill="url(#b32)"/><rect x="296.9" y="2.2" width="2" height="496.8" fill="url(#b33)" mask="url(#bk32)"/><rect x="298.9" y="2.2" width="3.5" height="496.8" fill="url(#b33)"/><rect x="298.9" y="2.2" width="2.5" height="496.8" fill="url(#b34)" mask="url(#bk33)"/><rect x="301.4" y="2.2" width="5" height="496.8" fill="url(#b34)"/><rect x="301.4" y="2.2" width="4" height="496.8" fill="url(#b35)" mask="url(#bk34)"/><rect x="305.4" y="2.2" width="5" height="496.8" fill="url(#b35)"/><rect x="305.4" y="2.2" width="4" height="496.8" fill="url(#b36)" mask="url(#bk35)"/><rect x="309.4" y="2.2" width="5" height="496.8" fill="url(#b36)"/><rect x="309.4" y="2.2" width="4" height="496.8" fill="url(#b37)" mask="url(#bk36)"/><rect x="313.4" y="2.2" width="4" height="496.8" fill="url(#b37)"/></g></g></g>
<g filter="url(#soft)"><g clip-path="url(#cc)"><g filter="url(#cm)"><rect x="344" y="1.8" width="5" height="497.5" fill="url(#c0)"/><rect x="348" y="1.8" width="8" height="497.5" fill="url(#c0)"/><rect x="348" y="1.8" width="7" height="497.5" fill="url(#c1)" mask="url(#ck0)"/><rect x="355" y="1.8" width="1.9" height="497.5" fill="url(#c1)"/><rect x="355" y="1.8" width=".9" height="497.5" fill="url(#c2)" mask="url(#ck1)"/><rect x="355.9" y="1.8" width="2.2" height="497.5" fill="url(#c2)"/><rect x="355.9" y="1.8" width="1.2" height="497.5" fill="url(#c3)" mask="url(#ck2)"/><rect x="357.1" y="1.8" width="2.2" height="497.5" fill="url(#c3)"/><rect x="357.1" y="1.8" width="1.2" height="497.5" fill="url(#c4)" mask="url(#ck3)"/><rect x="358.3" y="1.8" width="3.2" height="497.5" fill="url(#c4)"/><rect x="358.3" y="1.8" width="2.2" height="497.5" fill="url(#c5)" mask="url(#ck4)"/><rect x="360.5" y="1.8" width="2.2" height="497.5" fill="url(#c5)"/><rect x="360.5" y="1.8" width="1.2" height="497.5" fill="url(#c6)" mask="url(#ck5)"/><rect x="361.7" y="1.8" width="2.3" height="497.5" fill="url(#c6)"/><rect x="361.7" y="1.8" width="1.3" height="497.5" fill="url(#c7)" mask="url(#ck6)"/><rect x="363" y="1.8" width="2.6" height="497.5" fill="url(#c7)"/><rect x="363" y="1.8" width="1.6" height="497.5" fill="url(#c8)" mask="url(#ck7)"/><rect x="364.6" y="1.8" width="9.4" height="497.5" fill="url(#c8)"/><rect x="364.6" y="1.8" width="8.4" height="497.5" fill="url(#c9)" mask="url(#ck8)"/><rect x="373" y="1.8" width="9.2" height="497.5" fill="url(#c9)"/><rect x="373" y="1.8" width="8.2" height="497.5" fill="url(#c10)" mask="url(#ck9)"/><rect x="381.2" y="1.8" width="2.4" height="497.5" fill="url(#c10)"/><rect x="381.2" y="1.8" width="1.4" height="497.5" fill="url(#c11)" mask="url(#ck10)"/><rect x="382.6" y="1.8" width="2.2" height="497.5" fill="url(#c11)"/><rect x="382.6" y="1.8" width="1.2" height="497.5" fill="url(#c12)" mask="url(#ck11)"/><rect x="383.8" y="1.8" width="2.2" height="497.5" fill="url(#c12)"/><rect x="383.8" y="1.8" width="1.2" height="497.5" fill="url(#c13)" mask="url(#ck12)"/><rect x="385" y="1.8" width="3" height="497.5" fill="url(#c13)"/><rect x="385" y="1.8" width="2" height="497.5" fill="url(#c14)" mask="url(#ck13)"/><rect x="387" y="1.8" width="2.2" height="497.5" fill="url(#c14)"/><rect x="387" y="1.8" width="1.2" height="497.5" fill="url(#c15)" mask="url(#ck14)"/><rect x="388.2" y="1.8" width="2.2" height="497.5" fill="url(#c15)"/><rect x="388.2" y="1.8" width="1.2" height="497.5" fill="url(#c16)" mask="url(#ck15)"/><rect x="389.4" y="1.8" width="2.4" height="497.5" fill="url(#c16)"/><rect x="389.4" y="1.8" width="1.4" height="497.5" fill="url(#c17)" mask="url(#ck16)"/><rect x="390.8" y="1.8" width="12.7" height="497.5" fill="url(#c17)"/><rect x="390.8" y="1.8" width="11.7" height="497.5" fill="url(#c18)" mask="url(#ck17)"/><rect x="402.5" y="1.8" width="1.9" height="497.5" fill="url(#c18)"/><rect x="402.5" y="1.8" width=".9" height="497.5" fill="url(#c19)" mask="url(#ck18)"/><rect x="403.4" y="1.8" width="2.8" height="497.5" fill="url(#c19)"/><rect x="403.4" y="1.8" width="1.8" height="497.5" fill="url(#c20)" mask="url(#ck19)"/><rect x="405.2" y="1.8" width="2.7" height="497.5" fill="url(#c20)"/><rect x="405.2" y="1.8" width="1.7" height="497.5" fill="url(#c21)" mask="url(#ck20)"/><rect x="406.9" y="1.8" width="3.2" height="497.5" fill="url(#c21)"/><rect x="406.9" y="1.8" width="2.2" height="497.5" fill="url(#c22)" mask="url(#ck21)"/><rect x="409.1" y="1.8" width="2.7" height="497.5" fill="url(#c22)"/><rect x="409.1" y="1.8" width="1.7" height="497.5" fill="url(#c23)" mask="url(#ck22)"/><rect x="410.8" y="1.8" width="2.8" height="497.5" fill="url(#c23)"/><rect x="410.8" y="1.8" width="1.8" height="497.5" fill="url(#c24)" mask="url(#ck23)"/><rect x="412.6" y="1.8" width="2.2" height="497.5" fill="url(#c24)"/><rect x="412.6" y="1.8" width="1.2" height="497.5" fill="url(#c25)" mask="url(#ck24)"/><rect x="413.8" y="1.8" width="7.7" height="497.5" fill="url(#c25)"/><rect x="413.8" y="1.8" width="6.7" height="497.5" fill="url(#c26)" mask="url(#ck25)"/><rect x="420.5" y="1.8" width="2.5" height="497.5" fill="url(#c26)"/><rect x="420.5" y="1.8" width="1.5" height="497.5" fill="url(#c27)" mask="url(#ck26)"/><rect x="422" y="1.8" width="2.6" height="497.5" fill="url(#c27)"/><rect x="422" y="1.8" width="1.6" height="497.5" fill="url(#c28)" mask="url(#ck27)"/><rect x="423.6" y="1.8" width="2.1" height="497.5" fill="url(#c28)"/><rect x="423.6" y="1.8" width="1.1" height="497.5" fill="url(#c29)" mask="url(#ck28)"/><rect x="424.7" y="1.8" width="3.2" height="497.5" fill="url(#c29)"/><rect x="424.7" y="1.8" width="2.2" height="497.5" fill="url(#c30)" mask="url(#ck29)"/><rect x="426.9" y="1.8" width="2.3" height="497.5" fill="url(#c30)"/><rect x="426.9" y="1.8" width="1.3" height="497.5" fill="url(#c31)" mask="url(#ck30)"/><rect x="428.2" y="1.8" width="2.8" height="497.5" fill="url(#c31)"/><rect x="428.2" y="1.8" width="1.8" height="497.5" fill="url(#c32)" mask="url(#ck31)"/><rect x="430" y="1.8" width="6" height="497.5" fill="url(#c32)"/><rect x="430" y="1.8" width="5" height="497.5" fill="url(#c33)" mask="url(#ck32)"/><rect x="435" y="1.8" width="2.9" height="497.5" fill="url(#c33)"/><rect x="435" y="1.8" width="1.9" height="497.5" fill="url(#c34)" mask="url(#ck33)"/><rect x="436.9" y="1.8" width="2.4" height="497.5" fill="url(#c34)"/><rect x="436.9" y="1.8" width="1.4" height="497.5" fill="url(#c35)" mask="url(#ck34)"/><rect x="438.3" y="1.8" width="3.2" height="497.5" fill="url(#c35)"/><rect x="438.3" y="1.8" width="2.2" height="497.5" fill="url(#c36)" mask="url(#ck35)"/><rect x="440.5" y="1.8" width="2.3" height="497.5" fill="url(#c36)"/><rect x="440.5" y="1.8" width="1.3" height="497.5" fill="url(#c37)" mask="url(#ck36)"/><rect x="441.8" y="1.8" width="3.2" height="497.5" fill="url(#c37)"/><rect x="441.8" y="1.8" width="2.2" height="497.5" fill="url(#c38)" mask="url(#ck37)"/><rect x="444" y="1.8" width="4" height="497.5" fill="url(#c38)"/><rect x="444" y="1.8" width="3" height="497.5" fill="url(#c39)" mask="url(#ck38)"/><rect x="447" y="1.8" width="10" height="497.5" fill="url(#c39)"/><rect x="447" y="1.8" width="9" height="497.5" fill="url(#c40)" mask="url(#ck39)"/><rect x="456" y="1.8" width="4" height="497.5" fill="url(#c40)"/></g></g></g>
<line x1="28.6" y1="47.5" x2="28.6" y2="472.5" stroke="#6a6a6a" stroke-width="1.2"/>
<line x1="25.2" y1="468.5" x2="28.6" y2="468.5" stroke="#6a6a6a" stroke-width="1"/>
<text x="23.6" y="472.2" font-size="9.8" text-anchor="end" fill="#2a2a2a" stroke="#2a2a2a" stroke-width=".2">0</text>
<line x1="26.8" y1="435.6" x2="28.6" y2="435.6" stroke="#6a6a6a" stroke-width="0.8"/>
<line x1="25.2" y1="402.8" x2="28.6" y2="402.8" stroke="#6a6a6a" stroke-width="1"/>
<text x="23.6" y="406.5" font-size="9.8" text-anchor="end" fill="#2a2a2a" stroke="#2a2a2a" stroke-width=".2">5</text>
<line x1="26.8" y1="369.9" x2="28.6" y2="369.9" stroke="#6a6a6a" stroke-width="0.8"/>
<line x1="25.2" y1="337.0" x2="28.6" y2="337.0" stroke="#6a6a6a" stroke-width="1"/>
<text x="23.6" y="340.7" font-size="9.8" text-anchor="end" fill="#2a2a2a" stroke="#2a2a2a" stroke-width=".2">10</text>
<line x1="26.8" y1="304.2" x2="28.6" y2="304.2" stroke="#6a6a6a" stroke-width="0.8"/>
<line x1="25.2" y1="271.3" x2="28.6" y2="271.3" stroke="#6a6a6a" stroke-width="1"/>
<text x="23.6" y="275.0" font-size="9.8" text-anchor="end" fill="#2a2a2a" stroke="#2a2a2a" stroke-width=".2">15</text>
<line x1="26.8" y1="238.4" x2="28.6" y2="238.4" stroke="#6a6a6a" stroke-width="0.8"/>
<line x1="25.2" y1="205.6" x2="28.6" y2="205.6" stroke="#6a6a6a" stroke-width="1"/>
<text x="23.6" y="209.3" font-size="9.8" text-anchor="end" fill="#2a2a2a" stroke="#2a2a2a" stroke-width=".2">20</text>
<line x1="26.8" y1="172.7" x2="28.6" y2="172.7" stroke="#6a6a6a" stroke-width="0.8"/>
<line x1="25.2" y1="139.8" x2="28.6" y2="139.8" stroke="#6a6a6a" stroke-width="1"/>
<text x="23.6" y="143.5" font-size="9.8" text-anchor="end" fill="#2a2a2a" stroke="#2a2a2a" stroke-width=".2">25</text>
<line x1="26.8" y1="107.0" x2="28.6" y2="107.0" stroke="#6a6a6a" stroke-width="0.8"/>
<line x1="25.2" y1="74.1" x2="28.6" y2="74.1" stroke="#6a6a6a" stroke-width="1"/>
<text x="23.6" y="77.8" font-size="9.8" text-anchor="end" fill="#2a2a2a" stroke="#2a2a2a" stroke-width=".2">30</text>
<line x1="60.0" y1="8.8" x2="60.0" y2="493.8" stroke="#6a6a6a" stroke-width="1.3"/>
<line x1="56.2" y1="493.3" x2="60.0" y2="493.3" stroke="#6a6a6a" stroke-width="1"/>
<text x="54.9" y="496.3" font-size="9.4" text-anchor="end" fill="#2a2a2a" stroke="#2a2a2a" stroke-width=".2">570</text>
<line x1="58.0" y1="471.3" x2="60.0" y2="471.3" stroke="#6a6a6a" stroke-width="0.8"/>
<line x1="56.2" y1="449.3" x2="60.0" y2="449.3" stroke="#6a6a6a" stroke-width="1"/>
<text x="54.9" y="452.3" font-size="9.4" text-anchor="end" fill="#2a2a2a" stroke="#2a2a2a" stroke-width=".2">580</text>
<line x1="58.0" y1="427.3" x2="60.0" y2="427.3" stroke="#6a6a6a" stroke-width="0.8"/>
<line x1="56.2" y1="405.3" x2="60.0" y2="405.3" stroke="#6a6a6a" stroke-width="1"/>
<text x="54.9" y="408.3" font-size="9.4" text-anchor="end" fill="#2a2a2a" stroke="#2a2a2a" stroke-width=".2">590</text>
<line x1="58.0" y1="383.3" x2="60.0" y2="383.3" stroke="#6a6a6a" stroke-width="0.8"/>
<line x1="56.2" y1="361.3" x2="60.0" y2="361.3" stroke="#6a6a6a" stroke-width="1"/>
<text x="54.9" y="364.3" font-size="9.4" text-anchor="end" fill="#2a2a2a" stroke="#2a2a2a" stroke-width=".2">600</text>
<line x1="58.0" y1="339.3" x2="60.0" y2="339.3" stroke="#6a6a6a" stroke-width="0.8"/>
<line x1="56.2" y1="317.3" x2="60.0" y2="317.3" stroke="#6a6a6a" stroke-width="1"/>
<text x="54.9" y="320.3" font-size="9.4" text-anchor="end" fill="#2a2a2a" stroke="#2a2a2a" stroke-width=".2">610</text>
<line x1="58.0" y1="295.3" x2="60.0" y2="295.3" stroke="#6a6a6a" stroke-width="0.8"/>
<line x1="56.2" y1="273.3" x2="60.0" y2="273.3" stroke="#6a6a6a" stroke-width="1"/>
<text x="54.9" y="276.3" font-size="9.4" text-anchor="end" fill="#2a2a2a" stroke="#2a2a2a" stroke-width=".2">620</text>
<line x1="58.0" y1="251.3" x2="60.0" y2="251.3" stroke="#6a6a6a" stroke-width="0.8"/>
<line x1="56.2" y1="229.3" x2="60.0" y2="229.3" stroke="#6a6a6a" stroke-width="1"/>
<text x="54.9" y="232.3" font-size="9.4" text-anchor="end" fill="#2a2a2a" stroke="#2a2a2a" stroke-width=".2">630</text>
<line x1="58.0" y1="207.3" x2="60.0" y2="207.3" stroke="#6a6a6a" stroke-width="0.8"/>
<line x1="56.2" y1="185.3" x2="60.0" y2="185.3" stroke="#6a6a6a" stroke-width="1"/>
<text x="54.9" y="188.3" font-size="9.4" text-anchor="end" fill="#2a2a2a" stroke="#2a2a2a" stroke-width=".2">640</text>
<line x1="58.0" y1="163.3" x2="60.0" y2="163.3" stroke="#6a6a6a" stroke-width="0.8"/>
<line x1="56.2" y1="141.3" x2="60.0" y2="141.3" stroke="#6a6a6a" stroke-width="1"/>
<text x="54.9" y="144.3" font-size="9.4" text-anchor="end" fill="#2a2a2a" stroke="#2a2a2a" stroke-width=".2">650</text>
<line x1="58.0" y1="119.3" x2="60.0" y2="119.3" stroke="#6a6a6a" stroke-width="0.8"/>
<line x1="56.2" y1="97.3" x2="60.0" y2="97.3" stroke="#6a6a6a" stroke-width="1"/>
<text x="54.9" y="100.3" font-size="9.4" text-anchor="end" fill="#2a2a2a" stroke="#2a2a2a" stroke-width=".2">660</text>
<line x1="58.0" y1="75.3" x2="60.0" y2="75.3" stroke="#6a6a6a" stroke-width="0.8"/>
<line x1="56.2" y1="53.3" x2="60.0" y2="53.3" stroke="#6a6a6a" stroke-width="1"/>
<text x="54.9" y="56.3" font-size="9.4" text-anchor="end" fill="#2a2a2a" stroke="#2a2a2a" stroke-width=".2">670</text>
<line x1="58.0" y1="31.3" x2="60.0" y2="31.3" stroke="#6a6a6a" stroke-width="0.8"/>
<line x1="56.2" y1="9.3" x2="60.0" y2="9.3" stroke="#6a6a6a" stroke-width="1"/>
<text x="54.9" y="12.3" font-size="9.4" text-anchor="end" fill="#2a2a2a" stroke="#2a2a2a" stroke-width=".2">680</text>
<text transform="translate(11.2 285.6) rotate(-90)" font-size="10.2" text-anchor="middle" fill="#2a2a2a" stroke="#2a2a2a" stroke-width=".2">Length [mm]</text>
<text transform="translate(37.8 290) rotate(-90)" font-size="9.6" text-anchor="middle" fill="#2a2a2a" stroke="#2a2a2a" stroke-width=".2">Temperature [°C]</text>
<line x1="65.9" y1="497.5" x2="169.1" y2="497.5" stroke="#a9a9a9" stroke-width="1"/>
<line x1="66.2" y1="497.5" x2="66.2" y2="499.6" stroke="#a9a9a9" stroke-width="0.9"/>
<line x1="79.0" y1="497.5" x2="79.0" y2="499.6" stroke="#a9a9a9" stroke-width="0.9"/>
<line x1="91.9" y1="497.5" x2="91.9" y2="499.6" stroke="#a9a9a9" stroke-width="0.9"/>
<line x1="104.7" y1="497.5" x2="104.7" y2="499.6" stroke="#a9a9a9" stroke-width="0.9"/>
<line x1="117.5" y1="497.5" x2="117.5" y2="499.6" stroke="#a9a9a9" stroke-width="0.9"/>
<line x1="130.3" y1="497.5" x2="130.3" y2="499.6" stroke="#a9a9a9" stroke-width="0.9"/>
<line x1="143.2" y1="497.5" x2="143.2" y2="499.6" stroke="#a9a9a9" stroke-width="0.9"/>
<line x1="156.0" y1="497.5" x2="156.0" y2="499.6" stroke="#a9a9a9" stroke-width="0.9"/>
<line x1="168.8" y1="497.5" x2="168.8" y2="499.6" stroke="#a9a9a9" stroke-width="0.9"/>
<text x="66.2" y="510.8" font-size="11.6" text-anchor="middle" fill="#2a2a2a" stroke="#2a2a2a" stroke-width=".2">0</text>
<text x="117.5" y="510.8" font-size="11.6" text-anchor="middle" fill="#2a2a2a" stroke="#2a2a2a" stroke-width=".2">4</text>
<text x="168.8" y="510.8" font-size="11.6" text-anchor="middle" fill="#2a2a2a" stroke="#2a2a2a" stroke-width=".2">8</text>
<text x="129.2" y="509.4" font-size="7.4" text-anchor="middle" fill="#2a2a2a" textLength="12.6" lengthAdjust="spacingAndGlyphs" stroke="#2a2a2a" stroke-width=".25">mm</text>
<text x="117.7" y="523.2" font-size="11.5" text-anchor="middle" fill="#2a2a2a" stroke="#2a2a2a" stroke-width=".3">Sample diameter</text>
<text x="112.5" y="544" font-size="12.5" text-anchor="middle" fill="#1a1a1a">(<tspan font-weight="bold">a</tspan>)</text>
<line x1="210.3" y1="497.5" x2="313.7" y2="497.5" stroke="#a9a9a9" stroke-width="1"/>
<line x1="210.6" y1="497.5" x2="210.6" y2="499.6" stroke="#a9a9a9" stroke-width="0.9"/>
<line x1="223.4" y1="497.5" x2="223.4" y2="499.6" stroke="#a9a9a9" stroke-width="0.9"/>
<line x1="236.3" y1="497.5" x2="236.3" y2="499.6" stroke="#a9a9a9" stroke-width="0.9"/>
<line x1="249.1" y1="497.5" x2="249.1" y2="499.6" stroke="#a9a9a9" stroke-width="0.9"/>
<line x1="262.0" y1="497.5" x2="262.0" y2="499.6" stroke="#a9a9a9" stroke-width="0.9"/>
<line x1="274.8" y1="497.5" x2="274.8" y2="499.6" stroke="#a9a9a9" stroke-width="0.9"/>
<line x1="287.7" y1="497.5" x2="287.7" y2="499.6" stroke="#a9a9a9" stroke-width="0.9"/>
<line x1="300.5" y1="497.5" x2="300.5" y2="499.6" stroke="#a9a9a9" stroke-width="0.9"/>
<line x1="313.4" y1="497.5" x2="313.4" y2="499.6" stroke="#a9a9a9" stroke-width="0.9"/>
<text x="210.6" y="510.8" font-size="11.6" text-anchor="middle" fill="#2a2a2a" stroke="#2a2a2a" stroke-width=".2">0</text>
<text x="262.0" y="510.8" font-size="11.6" text-anchor="middle" fill="#2a2a2a" stroke="#2a2a2a" stroke-width=".2">4</text>
<text x="313.4" y="510.8" font-size="11.6" text-anchor="middle" fill="#2a2a2a" stroke="#2a2a2a" stroke-width=".2">8</text>
<text x="276.2" y="509.4" font-size="7.4" text-anchor="middle" fill="#2a2a2a" textLength="12.6" lengthAdjust="spacingAndGlyphs" stroke="#2a2a2a" stroke-width=".25">mm</text>
<text x="262.2" y="523.2" font-size="11.5" text-anchor="middle" fill="#2a2a2a" stroke="#2a2a2a" stroke-width=".3">Sample diameter</text>
<text x="258.3" y="544" font-size="12.5" text-anchor="middle" fill="#1a1a1a">(<tspan font-weight="bold">b</tspan>)</text>
<line x1="352.4" y1="497.5" x2="455.7" y2="497.5" stroke="#a9a9a9" stroke-width="1"/>
<line x1="352.7" y1="497.5" x2="352.7" y2="499.6" stroke="#a9a9a9" stroke-width="0.9"/>
<line x1="365.5" y1="497.5" x2="365.5" y2="499.6" stroke="#a9a9a9" stroke-width="0.9"/>
<line x1="378.4" y1="497.5" x2="378.4" y2="499.6" stroke="#a9a9a9" stroke-width="0.9"/>
<line x1="391.2" y1="497.5" x2="391.2" y2="499.6" stroke="#a9a9a9" stroke-width="0.9"/>
<line x1="404.0" y1="497.5" x2="404.0" y2="499.6" stroke="#a9a9a9" stroke-width="0.9"/>
<line x1="416.9" y1="497.5" x2="416.9" y2="499.6" stroke="#a9a9a9" stroke-width="0.9"/>
<line x1="429.7" y1="497.5" x2="429.7" y2="499.6" stroke="#a9a9a9" stroke-width="0.9"/>
<line x1="442.6" y1="497.5" x2="442.6" y2="499.6" stroke="#a9a9a9" stroke-width="0.9"/>
<line x1="455.4" y1="497.5" x2="455.4" y2="499.6" stroke="#a9a9a9" stroke-width="0.9"/>
<text x="352.7" y="510.8" font-size="11.6" text-anchor="middle" fill="#2a2a2a" stroke="#2a2a2a" stroke-width=".2">0</text>
<text x="404.0" y="510.8" font-size="11.6" text-anchor="middle" fill="#2a2a2a" stroke="#2a2a2a" stroke-width=".2">4</text>
<text x="455.4" y="510.8" font-size="11.6" text-anchor="middle" fill="#2a2a2a" stroke="#2a2a2a" stroke-width=".2">8</text>
<text x="414.9" y="509.4" font-size="7.4" text-anchor="middle" fill="#2a2a2a" textLength="12.6" lengthAdjust="spacingAndGlyphs" stroke="#2a2a2a" stroke-width=".25">mm</text>
<text x="404.0" y="523.2" font-size="11.5" text-anchor="middle" fill="#2a2a2a" stroke="#2a2a2a" stroke-width=".3">Sample diameter</text>
<text x="405.3" y="544" font-size="12.5" text-anchor="middle" fill="#1a1a1a">(<tspan font-weight="bold">c</tspan>)</text>
<rect x="174.0" y="167.9" width="12.6" height="168.1" fill="url(#cbu)"/>
<line x1="186.6" y1="167.9" x2="186.6" y2="336.0" stroke="#777" stroke-width="0.6"/>
<line x1="186.6" y1="167.9" x2="188.6" y2="167.9" stroke="#444" stroke-width="0.9"/>
<text x="192.2" y="171.7" font-size="11.5" text-anchor="start" fill="#2a2a2a" stroke="#2a2a2a" stroke-width=".2">1</text>
<line x1="186.6" y1="184.7" x2="187.8" y2="184.7" stroke="#444" stroke-width="0.8"/>
<line x1="186.6" y1="201.5" x2="188.6" y2="201.5" stroke="#444" stroke-width="0.9"/>
<text x="192.2" y="205.3" font-size="11.5" text-anchor="start" fill="#2a2a2a" stroke="#2a2a2a" stroke-width=".2">0,8</text>
<line x1="186.6" y1="218.3" x2="187.8" y2="218.3" stroke="#444" stroke-width="0.8"/>
<line x1="186.6" y1="235.1" x2="188.6" y2="235.1" stroke="#444" stroke-width="0.9"/>
<text x="192.2" y="238.9" font-size="11.5" text-anchor="start" fill="#2a2a2a" stroke="#2a2a2a" stroke-width=".2">0,6</text>
<line x1="186.6" y1="251.9" x2="187.8" y2="251.9" stroke="#444" stroke-width="0.8"/>
<line x1="186.6" y1="268.8" x2="188.6" y2="268.8" stroke="#444" stroke-width="0.9"/>
<text x="192.2" y="272.6" font-size="11.5" text-anchor="start" fill="#2a2a2a" stroke="#2a2a2a" stroke-width=".2">0,4</text>
<line x1="186.6" y1="285.6" x2="187.8" y2="285.6" stroke="#444" stroke-width="0.8"/>
<line x1="186.6" y1="302.4" x2="188.6" y2="302.4" stroke="#444" stroke-width="0.9"/>
<text x="192.2" y="306.2" font-size="11.5" text-anchor="start" fill="#2a2a2a" stroke="#2a2a2a" stroke-width=".2">0,2</text>
<line x1="186.6" y1="319.2" x2="187.8" y2="319.2" stroke="#444" stroke-width="0.8"/>
<line x1="186.6" y1="336.0" x2="188.6" y2="336.0" stroke="#444" stroke-width="0.9"/>
<text x="192.2" y="339.8" font-size="11.5" text-anchor="start" fill="#2a2a2a" stroke="#2a2a2a" stroke-width=".2">0</text>
<rect x="318.8" y="164.2" width="12.4" height="174.8" fill="url(#cbd)"/>
<line x1="331.2" y1="164.2" x2="331.2" y2="339.0" stroke="#777" stroke-width="0.6"/>
<line x1="331.2" y1="164.2" x2="333.2" y2="164.2" stroke="#444" stroke-width="0.9"/>
<text x="335.8" y="167.4" font-size="9.7" text-anchor="start" fill="#2a2a2a" stroke="#2a2a2a" stroke-width=".2">0</text>
<line x1="331.2" y1="181.7" x2="332.4" y2="181.7" stroke="#444" stroke-width="0.8"/>
<line x1="331.2" y1="199.2" x2="333.2" y2="199.2" stroke="#444" stroke-width="0.9"/>
<text x="335.8" y="202.4" font-size="9.7" text-anchor="start" fill="#2a2a2a" stroke="#2a2a2a" stroke-width=".2">0,2</text>
<line x1="331.2" y1="216.6" x2="332.4" y2="216.6" stroke="#444" stroke-width="0.8"/>
<line x1="331.2" y1="234.1" x2="333.2" y2="234.1" stroke="#444" stroke-width="0.9"/>
<text x="335.8" y="237.3" font-size="9.7" text-anchor="start" fill="#2a2a2a" stroke="#2a2a2a" stroke-width=".2">0,4</text>
<line x1="331.2" y1="251.6" x2="332.4" y2="251.6" stroke="#444" stroke-width="0.8"/>
<line x1="331.2" y1="269.1" x2="333.2" y2="269.1" stroke="#444" stroke-width="0.9"/>
<text x="335.8" y="272.3" font-size="9.7" text-anchor="start" fill="#2a2a2a" stroke="#2a2a2a" stroke-width=".2">0,6</text>
<line x1="331.2" y1="286.6" x2="332.4" y2="286.6" stroke="#444" stroke-width="0.8"/>
<line x1="331.2" y1="304.0" x2="333.2" y2="304.0" stroke="#444" stroke-width="0.9"/>
<text x="335.8" y="307.2" font-size="9.7" text-anchor="start" fill="#2a2a2a" stroke="#2a2a2a" stroke-width=".2">0,8</text>
<line x1="331.2" y1="321.5" x2="332.4" y2="321.5" stroke="#444" stroke-width="0.8"/>
<line x1="331.2" y1="339.0" x2="333.2" y2="339.0" stroke="#444" stroke-width="0.9"/>
<text x="335.8" y="342.2" font-size="9.7" text-anchor="start" fill="#2a2a2a" stroke="#2a2a2a" stroke-width=".2">1</text>
<rect x="464.2" y="160.4" width="11.6" height="178.4" fill="url(#cbd)"/>
<line x1="475.8" y1="160.4" x2="475.8" y2="338.8" stroke="#777" stroke-width="0.6"/>
<line x1="475.8" y1="160.4" x2="477.8" y2="160.4" stroke="#444" stroke-width="0.9"/>
<text x="479.8" y="163.1" font-size="8.2" text-anchor="start" fill="#2a2a2a" stroke="#2a2a2a" stroke-width=".2">0</text>
<line x1="475.8" y1="182.7" x2="477.8" y2="182.7" stroke="#444" stroke-width="0.9"/>
<text x="479.8" y="185.4" font-size="8.2" text-anchor="start" fill="#2a2a2a" stroke="#2a2a2a" stroke-width=".2">0,01</text>
<line x1="475.8" y1="205.0" x2="477.8" y2="205.0" stroke="#444" stroke-width="0.9"/>
<text x="479.8" y="207.7" font-size="8.2" text-anchor="start" fill="#2a2a2a" stroke="#2a2a2a" stroke-width=".2">0,02</text>
<line x1="475.8" y1="227.3" x2="477.8" y2="227.3" stroke="#444" stroke-width="0.9"/>
<text x="479.8" y="230.0" font-size="8.2" text-anchor="start" fill="#2a2a2a" stroke="#2a2a2a" stroke-width=".2">0,03</text>
<line x1="475.8" y1="249.6" x2="477.8" y2="249.6" stroke="#444" stroke-width="0.9"/>
<text x="479.8" y="252.3" font-size="8.2" text-anchor="start" fill="#2a2a2a" stroke="#2a2a2a" stroke-width=".2">0,04</text>
<line x1="475.8" y1="271.9" x2="477.8" y2="271.9" stroke="#444" stroke-width="0.9"/>
<text x="479.8" y="274.6" font-size="8.2" text-anchor="start" fill="#2a2a2a" stroke="#2a2a2a" stroke-width=".2">0,05</text>
<line x1="475.8" y1="294.2" x2="477.8" y2="294.2" stroke="#444" stroke-width="0.9"/>
<text x="479.8" y="296.9" font-size="8.2" text-anchor="start" fill="#2a2a2a" stroke="#2a2a2a" stroke-width=".2">0,06</text>
<line x1="475.8" y1="316.5" x2="477.8" y2="316.5" stroke="#444" stroke-width="0.9"/>
<text x="479.8" y="319.2" font-size="8.2" text-anchor="start" fill="#2a2a2a" stroke="#2a2a2a" stroke-width=".2">0,07</text>
<line x1="475.8" y1="338.8" x2="477.8" y2="338.8" stroke="#444" stroke-width="0.9"/>
<text x="479.8" y="341.5" font-size="8.2" text-anchor="start" fill="#2a2a2a" stroke="#2a2a2a" stroke-width=".2">0,08</text>
<text x="111.5" y="24.3" font-size="11.2" stroke="#fff" stroke-width=".2" text-anchor="middle" fill="#ffffff">Liquid</text>
<text x="111.5" y="43.2" font-size="11.2" stroke="#fff" stroke-width=".2" text-anchor="middle" fill="#ffffff">mass fraction</text>
<text x="111.5" y="63.4" font-size="11.2" text-anchor="middle" fill="#ffffff" font-style="italic">f<tspan font-size="6.5" dy="1.2">L</tspan></text>
<text x="259.2" y="25.6" font-size="11.2" stroke="#fff" stroke-width=".2" text-anchor="middle" fill="#ffffff"><tspan font-style="italic">α</tspan>-Al</text>
<text x="259.2" y="44.5" font-size="11.2" stroke="#fff" stroke-width=".2" text-anchor="middle" fill="#ffffff">mass fraction</text>
<text x="259.2" y="64.7" font-size="11.2" text-anchor="middle" fill="#ffffff" font-style="italic">f<tspan font-size="6.5" dy="1.2">α</tspan></text>
<text x="404.8" y="23.5" font-size="11.2" stroke="#fff" stroke-width=".2" text-anchor="middle" fill="#ffffff">Al<tspan font-size="6.5" dy="1.2">15</tspan><tspan dy="-1.2">Si</tspan><tspan font-size="6.5" dy="1.2">2</tspan><tspan dy="-1.2">Mn</tspan><tspan font-size="6.5" dy="1.2">4</tspan></text>
<text x="404.8" y="42.4" font-size="11.2" stroke="#fff" stroke-width=".2" text-anchor="middle" fill="#ffffff">mass fraction</text>
<text x="404.8" y="62.6" font-size="11.2" text-anchor="middle" fill="#ffffff" font-style="italic">f<tspan font-size="6.5" dy="1.2">Mn</tspan></text>
</svg>
</body></html>
